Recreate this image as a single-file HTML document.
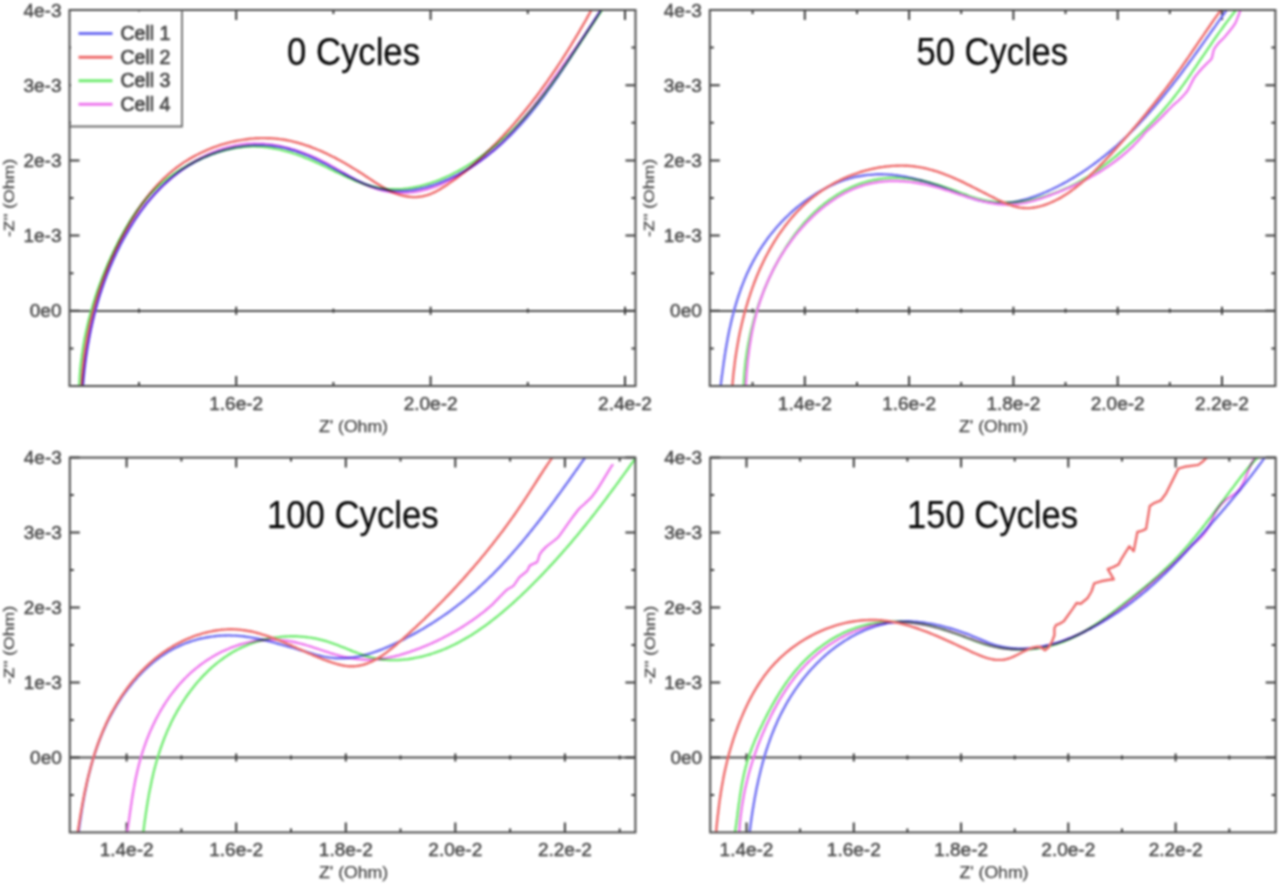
<!DOCTYPE html>
<html><head><meta charset="utf-8"><title>Nyquist plots</title>
<style>
html,body{margin:0;padding:0;background:#fff;}
body{width:1280px;height:885px;overflow:hidden;}
svg{display:block;}
text{font-family:"Liberation Sans",sans-serif;}
.tl{font-size:19px;fill:#474747;stroke:#474747;stroke-width:0.45px;}
.at{font-size:16px;fill:#474747;stroke:#474747;stroke-width:0.25px;}
.lg{font-size:19.5px;fill:#474747;stroke:#474747;stroke-width:0.7px;}
.tt{font-size:38px;fill:#0a0a0a;stroke:#0a0a0a;stroke-width:0.25px;}
#w{width:1280px;height:885px;}
</style></head>
<body>
<div id="w">
<svg width="1280" height="885" viewBox="0 0 1280 885">
<defs><filter id="bl" x="0" y="0" width="1280" height="885" filterUnits="userSpaceOnUse" color-interpolation-filters="sRGB"><feGaussianBlur stdDeviation="0.8"/></filter></defs>
<rect width="1280" height="885" fill="#fff"/>
<g filter="url(#bl)">
<clipPath id="clipTL"><rect x="69.5" y="10.0" width="566.0" height="376.0"/></clipPath>
<line x1="69.5" y1="311.1" x2="635.5" y2="311.1" stroke="#4e4e4e" stroke-width="2.0"/>
<path d="M236.2 386.0v-10M236.2 10.0v10M236.2 306.8v8M430.6 386.0v-10M430.6 10.0v10M430.6 306.8v8M625 386.0v-10M625 10.0v10M625 306.8v8M139 386.0v-4M139 10.0v4M139 308.8v4M333.4 386.0v-4M333.4 10.0v4M333.4 308.8v4M527.8 386.0v-4M527.8 10.0v4M527.8 308.8v4M69.5 310.8h10M635.5 310.8h-10M69.5 235.6h10M635.5 235.6h-10M69.5 160.4h10M635.5 160.4h-10M69.5 85.2h10M635.5 85.2h-10M69.5 10h10M635.5 10h-10M69.5 348.4h4M635.5 348.4h-4M69.5 273.2h4M635.5 273.2h-4M69.5 198h4M635.5 198h-4M69.5 122.8h4M635.5 122.8h-4M69.5 47.6h4M635.5 47.6h-4" stroke="#3a3a3a" stroke-width="2" fill="none"/>
<g clip-path="url(#clipTL)" fill="none" stroke-width="2.4" stroke-linejoin="round" stroke-linecap="round">
<path d="M82.9,388C82.9,387.5 83,386 83.1,385C83.2,384 83.3,383 83.4,382C83.4,380.9 83.5,379.9 83.6,378.9C83.7,377.9 83.8,376.9 83.9,375.9C84,374.9 84.1,373.9 84.2,372.9C84.3,371.9 84.4,370.9 84.5,369.9C84.6,368.9 84.7,367.9 84.9,366.9C85,365.9 85.1,364.9 85.2,363.9C85.3,362.9 85.5,361.9 85.6,360.9C85.7,359.9 85.9,358.8 86,357.8C86.1,356.8 86.3,355.9 86.4,354.9C86.6,353.9 86.7,352.9 86.9,351.9C87,350.9 87.2,349.9 87.3,348.9C87.5,347.9 87.7,346.9 87.8,345.9C88,344.9 88.2,343.9 88.3,342.9C88.5,341.9 88.7,340.9 88.9,339.9C89,338.9 89.2,337.9 89.4,337C89.6,336 89.8,335 90,334C90.2,333 90.4,332 90.6,331C90.8,330.1 91,329.1 91.2,328.1C91.4,327.1 91.6,326.1 91.9,325.1C92.1,324.2 92.3,323.2 92.5,322.2C92.8,321.2 93,320.2 93.2,319.3C93.5,318.3 93.7,317.3 93.9,316.3C94.2,315.4 94.4,314.4 94.7,313.4C94.9,312.4 95.2,311.5 95.4,310.5C95.7,309.5 96,308.6 96.2,307.6C96.5,306.6 96.8,305.7 97,304.7C97.3,303.7 97.6,302.8 97.9,301.8C98.2,300.8 98.5,299.9 98.7,298.9C99,298 99.3,297 99.6,296C99.9,295.1 100.2,294.1 100.5,293.2C100.9,292.2 101.2,291.3 101.5,290.3C101.8,289.4 102.1,288.4 102.4,287.5C102.8,286.5 103.1,285.6 103.4,284.6C103.8,283.7 104.1,282.7 104.4,281.8C104.8,280.9 105.1,279.9 105.5,279C105.8,278 106.2,277.1 106.5,276.2C106.9,275.2 107.3,274.3 107.6,273.4C108,272.4 108.4,271.5 108.8,270.6C109.1,269.6 109.5,268.7 109.9,267.8C110.3,266.9 110.7,265.9 111.1,265C111.5,264.1 111.9,263.2 112.3,262.2C112.7,261.3 113.1,260.4 113.5,259.5C113.9,258.6 114.3,257.7 114.7,256.7C115.2,255.8 115.6,254.9 116,254C116.5,253.1 116.9,252.2 117.3,251.3C117.8,250.4 118.2,249.5 118.7,248.6C119.1,247.7 119.6,246.8 120,245.9C120.5,245 120.9,244.1 121.4,243.2C121.9,242.3 122.4,241.4 122.8,240.5C123.3,239.6 123.8,238.8 124.3,237.9C124.8,237 125.3,236.1 125.8,235.2C126.3,234.3 126.8,233.5 127.3,232.6C127.8,231.7 128.3,230.8 128.8,230C129.3,229.1 129.8,228.2 130.4,227.4C130.9,226.5 131.4,225.6 132,224.8C132.5,223.9 133,223.1 133.6,222.2C134.1,221.3 134.7,220.5 135.2,219.6C135.8,218.8 136.3,218 136.9,217.1C137.5,216.3 138.1,215.4 138.6,214.6C139.2,213.8 139.8,212.9 140.4,212.1C141,211.3 141.6,210.5 142.2,209.6C142.8,208.8 143.4,208 144,207.2C144.6,206.4 145.2,205.6 145.8,204.8C146.4,204 147.1,203.2 147.7,202.4C148.3,201.6 149,200.8 149.6,200C150.3,199.3 150.9,198.5 151.6,197.7C152.2,197 152.9,196.2 153.6,195.4C154.2,194.7 154.9,193.9 155.6,193.2C156.3,192.4 157,191.7 157.6,191C158.3,190.2 159,189.5 159.7,188.8C160.4,188.1 161.2,187.3 161.9,186.6C162.6,185.9 163.3,185.2 164,184.5C164.8,183.8 165.5,183.2 166.3,182.5C167,181.8 167.7,181.1 168.5,180.5C169.3,179.8 170,179.1 170.8,178.5C171.6,177.8 172.3,177.2 173.1,176.6C173.9,175.9 174.7,175.3 175.5,174.7C176.3,174.1 177.1,173.5 177.9,172.8C178.7,172.2 179.5,171.7 180.3,171.1C181.2,170.5 182,169.9 182.8,169.3C183.7,168.8 184.5,168.2 185.3,167.7C186.2,167.1 187.1,166.6 187.9,166.1C188.8,165.5 189.6,165 190.5,164.5C191.4,164 192.3,163.5 193.1,163C194,162.5 194.9,162 195.8,161.5C196.7,161 197.6,160.6 198.5,160.1C199.4,159.7 200.3,159.2 201.2,158.8C202.2,158.3 203.1,157.9 204,157.5C204.9,157.1 205.9,156.7 206.8,156.3C207.7,155.9 208.6,155.5 209.6,155.1C210.5,154.7 211.5,154.4 212.4,154C213.4,153.6 214.3,153.3 215.3,153C216.2,152.6 217.2,152.3 218.1,152C219.1,151.7 220.1,151.4 221,151.1C222,150.8 223,150.5 223.9,150.2C224.9,149.9 225.9,149.7 226.8,149.4C227.8,149.2 228.8,148.9 229.8,148.7C230.7,148.5 231.7,148.2 232.7,148C233.7,147.8 234.7,147.6 235.7,147.4C236.6,147.3 237.6,147.1 238.6,146.9C239.6,146.8 240.6,146.6 241.6,146.5C242.6,146.3 243.6,146.2 244.5,146.1C245.5,146 246.5,145.9 247.5,145.8C248.5,145.7 249.5,145.6 250.5,145.5C251.5,145.4 252.5,145.4 253.5,145.3C254.4,145.3 255.4,145.3 256.4,145.2C257.4,145.2 258.4,145.2 259.4,145.2C260.4,145.2 261.4,145.2 262.3,145.2C263.3,145.3 264.3,145.3 265.3,145.4C266.3,145.4 267.3,145.5 268.3,145.6C269.2,145.6 270.2,145.7 271.2,145.8C272.2,145.9 273.1,146 274.1,146.2C275.1,146.3 276.1,146.4 277,146.6C278,146.7 279,146.9 279.9,147.1C280.9,147.3 281.9,147.5 282.8,147.7C283.8,147.9 284.8,148.1 285.7,148.3C286.7,148.6 287.6,148.8 288.6,149C289.5,149.3 290.5,149.6 291.4,149.8C292.4,150.1 293.3,150.4 294.3,150.7C295.2,151 296.2,151.3 297.1,151.6C298,152 299,152.3 299.9,152.6C300.9,153 301.8,153.3 302.7,153.7C303.7,154 304.6,154.4 305.5,154.8C306.5,155.2 307.4,155.5 308.3,155.9C309.3,156.3 310.2,156.7 311.1,157.1C312.1,157.5 313,158 313.9,158.4C314.8,158.8 315.8,159.2 316.7,159.7C317.6,160.1 318.5,160.6 319.5,161C320.4,161.5 321.3,161.9 322.2,162.4C323.2,162.8 324.1,163.3 325,163.8C325.9,164.3 326.9,164.7 327.8,165.2C328.7,165.7 329.6,166.2 330.5,166.7C331.5,167.2 332.4,167.7 333.3,168.2C334.2,168.7 335.2,169.2 336.1,169.7C337,170.2 337.9,170.7 338.8,171.2C339.8,171.7 340.7,172.2 341.6,172.7C342.5,173.2 343.5,173.6 344.4,174.1C345.3,174.6 346.2,175.1 347.2,175.6C348.1,176.1 349,176.6 350,177C350.9,177.5 351.8,178 352.7,178.4C353.7,178.9 354.6,179.4 355.5,179.8C356.5,180.2 357.4,180.7 358.3,181.1C359.3,181.5 360.2,182 361.1,182.4C362.1,182.8 363,183.2 364,183.6C364.9,183.9 365.8,184.3 366.8,184.7C367.7,185 368.7,185.4 369.6,185.7C370.6,186 371.5,186.4 372.5,186.7C373.4,187 374.4,187.2 375.3,187.5C376.3,187.8 377.2,188 378.2,188.3C379.1,188.5 380.1,188.8 381,189C382,189.2 383,189.4 383.9,189.6C384.9,189.7 385.8,189.9 386.8,190C387.8,190.2 388.7,190.3 389.7,190.4C390.7,190.6 391.6,190.7 392.6,190.7C393.6,190.8 394.5,190.9 395.5,190.9C396.5,191 397.4,191 398.4,191C399.4,191 400.3,191 401.3,191C402.3,191 403.2,190.9 404.2,190.9C405.2,190.8 406.1,190.8 407.1,190.7C408.1,190.6 409,190.5 410,190.4C411,190.3 411.9,190.1 412.9,190C413.9,189.8 414.8,189.7 415.8,189.5C416.8,189.3 417.7,189.1 418.7,188.9C419.7,188.7 420.6,188.5 421.6,188.3C422.6,188.1 423.5,187.8 424.5,187.6C425.4,187.3 426.4,187.1 427.4,186.8C428.3,186.5 429.3,186.3 430.2,186C431.2,185.7 432.2,185.4 433.1,185.1C434.1,184.7 435,184.4 436,184.1C436.9,183.8 437.9,183.4 438.8,183.1C439.8,182.7 440.7,182.3 441.7,182C442.6,181.6 443.6,181.2 444.5,180.8C445.4,180.4 446.4,180 447.3,179.6C448.2,179.2 449.2,178.8 450.1,178.3C451,177.9 451.9,177.5 452.9,177C453.8,176.6 454.7,176.1 455.6,175.7C456.5,175.2 457.4,174.7 458.4,174.3C459.3,173.8 460.2,173.3 461.1,172.8C462,172.3 462.9,171.8 463.8,171.3C464.6,170.8 465.5,170.3 466.4,169.8C467.3,169.3 468.2,168.7 469.1,168.2C469.9,167.7 470.8,167.1 471.7,166.6C472.5,166 473.4,165.5 474.2,164.9C475.1,164.4 475.9,163.8 476.8,163.2C477.6,162.7 478.5,162.1 479.3,161.5C480.1,160.9 481,160.4 481.8,159.8C482.6,159.2 483.4,158.6 484.2,158C485.1,157.4 485.9,156.8 486.7,156.2C487.5,155.5 488.3,154.9 489.1,154.3C489.9,153.7 490.6,153.1 491.4,152.4C492.2,151.8 493,151.2 493.8,150.5C494.5,149.9 495.3,149.2 496.1,148.6C496.8,147.9 497.6,147.3 498.4,146.6C499.1,146 499.9,145.3 500.6,144.6C501.4,144 502.1,143.3 502.8,142.6C503.6,141.9 504.3,141.3 505,140.6C505.8,139.9 506.5,139.2 507.2,138.5C507.9,137.8 508.7,137.1 509.4,136.4C510.1,135.7 510.8,135 511.5,134.3C512.2,133.6 512.9,132.9 513.6,132.2C514.3,131.4 515,130.7 515.7,130C516.4,129.3 517.1,128.5 517.7,127.8C518.4,127.1 519.1,126.3 519.8,125.6C520.5,124.9 521.1,124.1 521.8,123.4C522.5,122.6 523.1,121.9 523.8,121.1C524.5,120.4 525.1,119.6 525.8,118.9C526.4,118.1 527.1,117.3 527.7,116.6C528.4,115.8 529,115 529.7,114.3C530.3,113.5 531,112.7 531.6,112C532.2,111.2 532.9,110.4 533.5,109.6C534.1,108.8 534.8,108 535.4,107.3C536,106.5 536.6,105.7 537.2,104.9C537.9,104.1 538.5,103.3 539.1,102.5C539.7,101.7 540.3,100.9 540.9,100.1C541.5,99.3 542.1,98.5 542.8,97.7C543.4,96.9 544,96.1 544.6,95.3C545.2,94.5 545.8,93.6 546.4,92.8C546.9,92 547.5,91.2 548.1,90.4C548.7,89.6 549.3,88.7 549.9,87.9C550.5,87.1 551.1,86.3 551.7,85.5C552.2,84.6 552.8,83.8 553.4,83C554,82.1 554.6,81.3 555.1,80.5C555.7,79.6 556.3,78.8 556.8,78C557.4,77.1 558,76.3 558.6,75.5C559.1,74.6 559.7,73.8 560.3,73C560.8,72.1 561.4,71.3 562,70.4C562.5,69.6 563.1,68.8 563.6,67.9C564.2,67.1 564.8,66.2 565.3,65.4C565.9,64.5 566.4,63.7 567,62.8C567.5,62 568.1,61.2 568.6,60.3C569.2,59.5 569.8,58.6 570.3,57.8C570.9,56.9 571.4,56.1 572,55.2C572.5,54.4 573.1,53.5 573.6,52.7C574.2,51.8 574.7,51 575.2,50.1C575.8,49.3 576.3,48.4 576.9,47.6C577.4,46.7 578,45.9 578.5,45C579.1,44.2 579.6,43.3 580.2,42.5C580.7,41.6 581.2,40.8 581.8,39.9C582.3,39.1 582.9,38.2 583.4,37.4C584,36.5 584.5,35.7 585,34.8C585.6,34 586.1,33.1 586.7,32.3C587.2,31.4 587.8,30.6 588.3,29.7C588.8,28.9 589.4,28.1 589.9,27.2C590.5,26.4 591,25.5 591.6,24.7C592.1,23.8 592.6,23 593.2,22.2C593.7,21.3 594.3,20.5 594.8,19.6C595.4,18.8 595.9,18 596.5,17.1C597,16.3 597.5,15.5 598.1,14.6C598.6,13.8 599.2,13 599.7,12.1C600.3,11.3 600.8,10.5 601.4,9.6C601.9,8.8 602.8,7.6 603,7.2" stroke="#6f6ff2" style="mix-blend-mode:multiply"/>
<path d="M79.2,388C79.2,387.5 79.2,386 79.3,385C79.3,384 79.3,383 79.4,382C79.5,381 79.5,380 79.6,378.9C79.6,377.9 79.7,376.9 79.8,375.9C79.8,374.9 79.9,373.9 80,372.9C80.1,371.9 80.2,370.9 80.2,369.9C80.3,368.9 80.4,367.9 80.5,366.9C80.6,365.9 80.7,364.9 80.8,363.9C81,362.9 81.1,361.9 81.2,360.9C81.3,359.9 81.4,358.9 81.6,357.9C81.7,356.9 81.8,355.9 81.9,354.9C82.1,353.9 82.2,352.9 82.4,351.9C82.5,351 82.7,350 82.8,349C83,348 83.1,347 83.3,346C83.5,345 83.6,344 83.8,343C84,342 84.2,341.1 84.3,340.1C84.5,339.1 84.7,338.1 84.9,337.1C85.1,336.1 85.3,335.2 85.5,334.2C85.7,333.2 85.9,332.2 86.1,331.2C86.3,330.3 86.5,329.3 86.8,328.3C87,327.3 87.2,326.3 87.4,325.4C87.7,324.4 87.9,323.4 88.1,322.4C88.4,321.5 88.6,320.5 88.8,319.5C89.1,318.6 89.3,317.6 89.6,316.6C89.8,315.6 90.1,314.7 90.4,313.7C90.6,312.7 90.9,311.8 91.2,310.8C91.4,309.8 91.7,308.9 92,307.9C92.3,307 92.5,306 92.8,305C93.1,304.1 93.4,303.1 93.7,302.2C94,301.2 94.3,300.2 94.6,299.3C94.9,298.3 95.2,297.4 95.5,296.4C95.8,295.5 96.1,294.5 96.5,293.6C96.8,292.6 97.1,291.7 97.4,290.7C97.8,289.8 98.1,288.8 98.4,287.9C98.8,286.9 99.1,286 99.4,285.1C99.8,284.1 100.1,283.2 100.5,282.2C100.8,281.3 101.2,280.4 101.6,279.4C101.9,278.5 102.3,277.5 102.6,276.6C103,275.7 103.4,274.7 103.8,273.8C104.1,272.9 104.5,271.9 104.9,271C105.3,270.1 105.7,269.2 106.1,268.2C106.4,267.3 106.8,266.4 107.2,265.5C107.6,264.5 108,263.6 108.4,262.7C108.8,261.8 109.3,260.9 109.7,259.9C110.1,259 110.5,258.1 110.9,257.2C111.3,256.3 111.8,255.4 112.2,254.5C112.6,253.5 113,252.6 113.5,251.7C113.9,250.8 114.3,249.9 114.8,249C115.2,248.1 115.7,247.2 116.1,246.3C116.6,245.4 117,244.5 117.5,243.6C117.9,242.7 118.4,241.8 118.9,240.9C119.3,240 119.8,239.1 120.3,238.2C120.7,237.3 121.2,236.5 121.7,235.6C122.2,234.7 122.7,233.8 123.1,232.9C123.6,232 124.1,231.2 124.6,230.3C125.1,229.4 125.6,228.5 126.1,227.7C126.6,226.8 127.1,225.9 127.7,225.1C128.2,224.2 128.7,223.4 129.2,222.5C129.7,221.7 130.3,220.8 130.8,220C131.3,219.1 131.9,218.3 132.4,217.4C133,216.6 133.5,215.8 134.1,214.9C134.7,214.1 135.2,213.3 135.8,212.5C136.4,211.6 136.9,210.8 137.5,210C138.1,209.2 138.7,208.4 139.3,207.6C139.9,206.8 140.5,206 141.1,205.2C141.7,204.4 142.3,203.6 142.9,202.9C143.5,202.1 144.2,201.3 144.8,200.6C145.4,199.8 146.1,199 146.7,198.3C147.4,197.5 148,196.8 148.7,196C149.3,195.3 150,194.6 150.7,193.8C151.3,193.1 152,192.4 152.7,191.7C153.4,191 154.1,190.3 154.8,189.6C155.5,188.9 156.2,188.2 157,187.5C157.7,186.8 158.4,186.2 159.1,185.5C159.9,184.8 160.6,184.2 161.4,183.5C162.1,182.9 162.9,182.2 163.7,181.6C164.4,181 165.2,180.3 166,179.7C166.8,179.1 167.6,178.5 168.4,177.9C169.2,177.3 170,176.7 170.8,176.1C171.6,175.5 172.4,174.9 173.2,174.4C174.1,173.8 174.9,173.2 175.7,172.7C176.6,172.1 177.4,171.6 178.3,171C179.1,170.5 180,169.9 180.8,169.4C181.7,168.9 182.6,168.4 183.4,167.9C184.3,167.3 185.2,166.8 186.1,166.3C187,165.8 187.9,165.3 188.8,164.9C189.7,164.4 190.6,163.9 191.5,163.4C192.4,163 193.3,162.5 194.2,162C195.1,161.6 196,161.1 197,160.7C197.9,160.2 198.8,159.8 199.7,159.4C200.7,158.9 201.6,158.5 202.5,158.1C203.5,157.7 204.4,157.3 205.4,156.9C206.3,156.5 207.3,156.1 208.2,155.7C209.2,155.3 210.1,155 211.1,154.6C212,154.3 213,153.9 214,153.6C214.9,153.2 215.9,152.9 216.9,152.6C217.8,152.2 218.8,151.9 219.8,151.6C220.8,151.3 221.7,151.1 222.7,150.8C223.7,150.5 224.7,150.2 225.6,150C226.6,149.7 227.6,149.5 228.6,149.3C229.6,149 230.6,148.8 231.5,148.6C232.5,148.4 233.5,148.2 234.5,148C235.5,147.9 236.5,147.7 237.5,147.6C238.5,147.4 239.4,147.3 240.4,147.2C241.4,147 242.4,146.9 243.4,146.8C244.4,146.7 245.4,146.7 246.4,146.6C247.3,146.6 248.3,146.5 249.3,146.5C250.3,146.4 251.3,146.4 252.3,146.4C253.3,146.4 254.2,146.4 255.2,146.4C256.2,146.5 257.2,146.5 258.2,146.6C259.2,146.6 260.1,146.7 261.1,146.7C262.1,146.8 263.1,146.9 264.1,147C265,147.1 266,147.2 267,147.3C268,147.5 268.9,147.6 269.9,147.7C270.9,147.9 271.9,148.1 272.8,148.2C273.8,148.4 274.8,148.6 275.7,148.8C276.7,149 277.7,149.2 278.6,149.4C279.6,149.6 280.6,149.8 281.5,150C282.5,150.3 283.4,150.5 284.4,150.8C285.3,151 286.3,151.3 287.2,151.5C288.2,151.8 289.1,152.1 290.1,152.4C291,152.7 292,152.9 292.9,153.3C293.9,153.6 294.8,153.9 295.7,154.2C296.7,154.5 297.6,154.8 298.5,155.2C299.5,155.5 300.4,155.8 301.3,156.2C302.2,156.5 303.2,156.9 304.1,157.3C305,157.6 305.9,158 306.8,158.4C307.8,158.7 308.7,159.1 309.6,159.5C310.5,159.9 311.4,160.3 312.3,160.7C313.3,161.1 314.2,161.5 315.1,161.9C316,162.3 316.9,162.7 317.9,163.2C318.8,163.6 319.7,164 320.6,164.4C321.5,164.8 322.4,165.3 323.4,165.7C324.3,166.2 325.2,166.6 326.1,167C327.1,167.5 328,167.9 328.9,168.4C329.8,168.8 330.8,169.3 331.7,169.7C332.6,170.2 333.6,170.6 334.5,171.1C335.4,171.6 336.4,172 337.3,172.5C338.3,172.9 339.2,173.4 340.1,173.8C341.1,174.3 342,174.7 343,175.2C343.9,175.6 344.9,176.1 345.8,176.5C346.7,176.9 347.7,177.4 348.6,177.8C349.6,178.2 350.5,178.6 351.5,179C352.4,179.5 353.4,179.9 354.3,180.3C355.3,180.7 356.3,181.1 357.2,181.4C358.2,181.8 359.1,182.2 360.1,182.6C361,182.9 362,183.3 363,183.6C363.9,183.9 364.9,184.3 365.8,184.6C366.8,184.9 367.7,185.2 368.7,185.5C369.7,185.8 370.6,186 371.6,186.3C372.6,186.6 373.5,186.8 374.5,187C375.4,187.2 376.4,187.5 377.4,187.6C378.3,187.8 379.3,188 380.3,188.2C381.2,188.3 382.2,188.5 383.1,188.6C384.1,188.7 385.1,188.8 386,188.9C387,189 388,189.1 388.9,189.1C389.9,189.2 390.9,189.2 391.8,189.3C392.8,189.3 393.7,189.3 394.7,189.3C395.7,189.3 396.6,189.3 397.6,189.3C398.6,189.2 399.5,189.2 400.5,189.1C401.4,189.1 402.4,189 403.4,188.9C404.3,188.8 405.3,188.7 406.2,188.6C407.2,188.5 408.2,188.4 409.1,188.2C410.1,188.1 411,187.9 412,187.8C412.9,187.6 413.9,187.4 414.8,187.2C415.8,187.1 416.7,186.9 417.7,186.6C418.6,186.4 419.6,186.2 420.5,186C421.5,185.7 422.4,185.5 423.4,185.2C424.3,185 425.3,184.7 426.2,184.4C427.2,184.2 428.1,183.9 429.1,183.6C430,183.3 430.9,183 431.9,182.7C432.8,182.3 433.7,182 434.7,181.7C435.6,181.3 436.5,181 437.5,180.6C438.4,180.3 439.3,179.9 440.3,179.5C441.2,179.1 442.1,178.8 443,178.4C444,178 444.9,177.6 445.8,177.2C446.7,176.7 447.6,176.3 448.6,175.9C449.5,175.5 450.4,175 451.3,174.6C452.2,174.1 453.1,173.7 454,173.2C454.9,172.8 455.8,172.3 456.7,171.8C457.6,171.3 458.5,170.9 459.4,170.4C460.3,169.9 461.2,169.4 462.1,168.9C463,168.4 463.8,167.8 464.7,167.3C465.6,166.8 466.5,166.3 467.3,165.7C468.2,165.2 469.1,164.7 470,164.1C470.8,163.6 471.7,163 472.6,162.4C473.4,161.9 474.3,161.3 475.1,160.7C476,160.2 476.8,159.6 477.7,159C478.5,158.4 479.4,157.8 480.2,157.2C481,156.6 481.9,156 482.7,155.4C483.5,154.8 484.4,154.2 485.2,153.6C486,153 486.8,152.4 487.6,151.7C488.5,151.1 489.3,150.5 490.1,149.8C490.9,149.2 491.7,148.6 492.5,147.9C493.3,147.3 494.1,146.6 494.9,146C495.6,145.3 496.4,144.7 497.2,144C498,143.3 498.8,142.7 499.5,142C500.3,141.3 501.1,140.7 501.8,140C502.6,139.3 503.3,138.7 504.1,138C504.8,137.3 505.6,136.6 506.3,135.9C507.1,135.2 507.8,134.5 508.5,133.9C509.3,133.2 510,132.5 510.7,131.8C511.4,131.1 512.1,130.4 512.9,129.7C513.6,129 514.3,128.2 515,127.5C515.7,126.8 516.4,126.1 517.1,125.4C517.8,124.7 518.5,124 519.2,123.2C519.9,122.5 520.5,121.8 521.2,121.1C521.9,120.3 522.6,119.6 523.3,118.9C523.9,118.1 524.6,117.4 525.3,116.6C525.9,115.9 526.6,115.2 527.3,114.4C527.9,113.7 528.6,112.9 529.2,112.2C529.9,111.4 530.6,110.7 531.2,109.9C531.8,109.2 532.5,108.4 533.1,107.7C533.8,106.9 534.4,106.1 535,105.4C535.7,104.6 536.3,103.8 536.9,103.1C537.6,102.3 538.2,101.5 538.8,100.8C539.4,100 540.1,99.2 540.7,98.4C541.3,97.7 541.9,96.9 542.5,96.1C543.1,95.3 543.8,94.5 544.4,93.7C545,93 545.6,92.2 546.2,91.4C546.8,90.6 547.4,89.8 548,89C548.6,88.2 549.2,87.4 549.8,86.6C550.4,85.8 551,85 551.6,84.2C552.2,83.4 552.7,82.6 553.3,81.8C553.9,81 554.5,80.2 555.1,79.4C555.7,78.6 556.3,77.8 556.8,77C557.4,76.2 558,75.4 558.6,74.6C559.1,73.7 559.7,72.9 560.3,72.1C560.9,71.3 561.4,70.5 562,69.7C562.6,68.8 563.2,68 563.7,67.2C564.3,66.4 564.9,65.6 565.4,64.7C566,63.9 566.6,63.1 567.1,62.3C567.7,61.4 568.3,60.6 568.8,59.8C569.4,59 569.9,58.1 570.5,57.3C571.1,56.5 571.6,55.6 572.2,54.8C572.7,54 573.3,53.1 573.9,52.3C574.4,51.5 575,50.6 575.5,49.8C576.1,49 576.7,48.1 577.2,47.3C577.8,46.5 578.3,45.6 578.9,44.8C579.4,44 580,43.1 580.6,42.3C581.1,41.4 581.7,40.6 582.2,39.8C582.8,38.9 583.3,38.1 583.9,37.3C584.4,36.4 585,35.6 585.6,34.7C586.1,33.9 586.7,33 587.2,32.2C587.8,31.4 588.4,30.5 588.9,29.7C589.5,28.8 590,28 590.6,27.2C591.1,26.3 591.7,25.5 592.3,24.6C592.8,23.8 593.4,22.9 594,22.1C594.5,21.2 595.1,20.4 595.6,19.6C596.2,18.7 596.8,17.9 597.3,17C597.9,16.2 598.5,15.3 599,14.5C599.6,13.7 600.2,12.8 600.8,12C601.3,11.1 601.9,10.3 602.5,9.5C603.1,8.6 603.9,7.3 604.2,6.9" stroke="#72ec72" style="mix-blend-mode:multiply"/>
<path d="M81.9,387.7C81.9,387.2 82.1,385.8 82.2,384.8C82.3,383.8 82.4,382.8 82.5,381.9C82.6,380.9 82.7,379.9 82.8,378.9C82.9,378 83.1,377 83.2,376C83.3,375 83.4,374 83.5,373.1C83.6,372.1 83.8,371.1 83.9,370.1C84,369.1 84.1,368.1 84.3,367.2C84.4,366.2 84.5,365.2 84.7,364.2C84.8,363.2 85,362.2 85.1,361.2C85.2,360.2 85.4,359.3 85.5,358.3C85.7,357.3 85.8,356.3 86,355.3C86.1,354.3 86.3,353.3 86.5,352.3C86.6,351.3 86.8,350.4 86.9,349.4C87.1,348.4 87.3,347.4 87.4,346.4C87.6,345.4 87.8,344.4 88,343.4C88.1,342.4 88.3,341.4 88.5,340.4C88.7,339.5 88.9,338.5 89.1,337.5C89.3,336.5 89.5,335.5 89.6,334.5C89.8,333.5 90,332.5 90.2,331.5C90.5,330.5 90.7,329.5 90.9,328.6C91.1,327.6 91.3,326.6 91.5,325.6C91.7,324.6 91.9,323.6 92.2,322.6C92.4,321.6 92.6,320.6 92.9,319.7C93.1,318.7 93.3,317.7 93.6,316.7C93.8,315.7 94,314.7 94.3,313.8C94.5,312.8 94.8,311.8 95,310.8C95.3,309.8 95.5,308.8 95.8,307.9C96.1,306.9 96.3,305.9 96.6,304.9C96.9,303.9 97.1,303 97.4,302C97.7,301 98,300 98.2,299.1C98.5,298.1 98.8,297.1 99.1,296.2C99.4,295.2 99.7,294.2 100,293.2C100.3,292.3 100.6,291.3 100.9,290.3C101.2,289.4 101.5,288.4 101.8,287.5C102.2,286.5 102.5,285.5 102.8,284.6C103.1,283.6 103.5,282.7 103.8,281.7C104.1,280.8 104.5,279.8 104.8,278.8C105.1,277.9 105.5,276.9 105.8,276C106.2,275.1 106.5,274.1 106.9,273.2C107.3,272.2 107.6,271.3 108,270.3C108.4,269.4 108.7,268.5 109.1,267.5C109.5,266.6 109.9,265.7 110.3,264.7C110.6,263.8 111,262.9 111.4,261.9C111.8,261 112.2,260.1 112.6,259.2C113,258.2 113.4,257.3 113.9,256.4C114.3,255.5 114.7,254.6 115.1,253.7C115.5,252.8 116,251.8 116.4,250.9C116.8,250 117.3,249.1 117.7,248.2C118.2,247.3 118.6,246.4 119.1,245.5C119.5,244.6 120,243.7 120.4,242.9C120.9,242 121.4,241.1 121.9,240.2C122.3,239.3 122.8,238.4 123.3,237.6C123.8,236.7 124.3,235.8 124.8,234.9C125.3,234.1 125.8,233.2 126.3,232.3C126.8,231.5 127.3,230.6 127.8,229.8C128.3,228.9 128.8,228 129.4,227.2C129.9,226.3 130.4,225.5 131,224.7C131.5,223.8 132,223 132.6,222.1C133.1,221.3 133.7,220.5 134.2,219.6C134.8,218.8 135.4,218 135.9,217.2C136.5,216.3 137.1,215.5 137.7,214.7C138.3,213.9 138.8,213.1 139.4,212.3C140,211.5 140.6,210.7 141.2,209.9C141.8,209.1 142.5,208.3 143.1,207.5C143.7,206.7 144.3,205.9 144.9,205.1C145.6,204.3 146.2,203.6 146.8,202.8C147.5,202 148.1,201.3 148.8,200.5C149.4,199.7 150.1,199 150.8,198.2C151.4,197.5 152.1,196.7 152.8,196C153.4,195.2 154.1,194.5 154.8,193.7C155.5,193 156.2,192.3 156.9,191.5C157.6,190.8 158.3,190.1 159,189.4C159.7,188.6 160.5,187.9 161.2,187.2C161.9,186.5 162.6,185.8 163.4,185.1C164.1,184.4 164.9,183.7 165.6,183C166.4,182.3 167.1,181.7 167.9,181C168.7,180.3 169.4,179.6 170.2,179C171,178.3 171.8,177.6 172.5,177C173.3,176.3 174.1,175.7 174.9,175.1C175.7,174.4 176.5,173.8 177.3,173.2C178.2,172.5 179,171.9 179.8,171.3C180.6,170.7 181.4,170.1 182.3,169.5C183.1,168.9 183.9,168.3 184.8,167.7C185.6,167.1 186.5,166.5 187.3,166C188.2,165.4 189,164.8 189.9,164.3C190.8,163.7 191.6,163.2 192.5,162.7C193.4,162.1 194.2,161.6 195.1,161.1C196,160.6 196.9,160.1 197.8,159.6C198.6,159.1 199.5,158.6 200.4,158.1C201.3,157.6 202.2,157.2 203.1,156.7C204,156.2 204.9,155.8 205.9,155.4C206.8,154.9 207.7,154.5 208.6,154.1C209.5,153.7 210.4,153.3 211.4,152.9C212.3,152.5 213.2,152.1 214.2,151.7C215.1,151.3 216,151 217,150.6C217.9,150.3 218.8,149.9 219.8,149.6C220.7,149.3 221.7,149 222.6,148.7C223.6,148.4 224.5,148.1 225.5,147.8C226.4,147.5 227.4,147.3 228.3,147C229.3,146.8 230.3,146.5 231.2,146.3C232.2,146.1 233.2,145.8 234.1,145.7C235.1,145.5 236.1,145.3 237,145.1C238,144.9 239,144.8 240,144.6C240.9,144.5 241.9,144.3 242.9,144.2C243.9,144.1 244.8,144 245.8,143.9C246.8,143.8 247.8,143.8 248.8,143.7C249.8,143.7 250.7,143.6 251.7,143.6C252.7,143.5 253.7,143.5 254.7,143.5C255.7,143.5 256.7,143.5 257.7,143.6C258.7,143.6 259.6,143.6 260.6,143.7C261.6,143.7 262.6,143.8 263.6,143.8C264.6,143.9 265.6,144 266.6,144.1C267.6,144.2 268.6,144.3 269.6,144.4C270.5,144.5 271.5,144.7 272.5,144.8C273.5,145 274.5,145.1 275.5,145.3C276.5,145.4 277.5,145.6 278.5,145.8C279.4,146 280.4,146.2 281.4,146.4C282.4,146.6 283.4,146.8 284.4,147.1C285.4,147.3 286.3,147.6 287.3,147.8C288.3,148.1 289.3,148.3 290.3,148.6C291.2,148.9 292.2,149.1 293.2,149.4C294.2,149.7 295.1,150 296.1,150.3C297.1,150.7 298.1,151 299,151.3C300,151.6 301,152 301.9,152.3C302.9,152.7 303.8,153 304.8,153.4C305.7,153.7 306.7,154.1 307.7,154.5C308.6,154.9 309.6,155.3 310.5,155.7C311.5,156 312.4,156.5 313.3,156.9C314.3,157.3 315.2,157.7 316.1,158.1C317.1,158.5 318,159 318.9,159.4C319.9,159.9 320.8,160.3 321.7,160.8C322.6,161.2 323.5,161.7 324.4,162.1C325.4,162.6 326.3,163.1 327.2,163.5C328.1,164 329,164.5 329.9,165C330.8,165.5 331.7,166 332.5,166.5C333.4,167 334.3,167.5 335.2,168C336.1,168.5 337,169 337.8,169.5C338.7,170 339.6,170.5 340.5,171C341.3,171.6 342.2,172.1 343.1,172.6C344,173.1 344.8,173.6 345.7,174.1C346.6,174.6 347.4,175.1 348.3,175.6C349.2,176.1 350.1,176.6 350.9,177.1C351.8,177.6 352.7,178.1 353.6,178.6C354.4,179 355.3,179.5 356.2,180C357.1,180.5 357.9,180.9 358.8,181.4C359.7,181.8 360.6,182.3 361.5,182.7C362.4,183.1 363.3,183.6 364.2,184C365.1,184.4 366,184.8 366.9,185.2C367.8,185.6 368.7,186 369.6,186.3C370.5,186.7 371.4,187.1 372.3,187.4C373.3,187.7 374.2,188.1 375.1,188.4C376.1,188.7 377,189 378,189.3C378.9,189.5 379.9,189.8 380.8,190C381.8,190.3 382.7,190.5 383.7,190.7C384.7,190.9 385.7,191.1 386.6,191.3C387.6,191.5 388.6,191.7 389.6,191.8C390.6,192 391.5,192.1 392.5,192.2C393.5,192.3 394.5,192.4 395.5,192.5C396.5,192.6 397.5,192.6 398.5,192.7C399.5,192.7 400.5,192.8 401.5,192.8C402.5,192.8 403.5,192.8 404.5,192.8C405.5,192.7 406.5,192.7 407.4,192.7C408.4,192.6 409.4,192.5 410.4,192.4C411.4,192.4 412.4,192.2 413.4,192.1C414.4,192 415.4,191.9 416.4,191.7C417.3,191.5 418.3,191.4 419.3,191.2C420.3,191 421.3,190.8 422.2,190.5C423.2,190.3 424.2,190.1 425.1,189.8C426.1,189.6 427.1,189.3 428,189C429,188.7 429.9,188.4 430.9,188.1C431.9,187.8 432.8,187.5 433.8,187.2C434.7,186.8 435.6,186.5 436.6,186.1C437.5,185.7 438.5,185.4 439.4,185C440.3,184.6 441.3,184.2 442.2,183.8C443.1,183.4 444.1,183 445,182.5C445.9,182.1 446.8,181.7 447.7,181.2C448.6,180.8 449.6,180.3 450.5,179.8C451.4,179.4 452.3,178.9 453.2,178.4C454.1,177.9 455,177.4 455.9,176.9C456.8,176.4 457.7,175.9 458.5,175.4C459.4,174.9 460.3,174.4 461.2,173.9C462.1,173.3 462.9,172.8 463.8,172.3C464.7,171.7 465.5,171.2 466.4,170.6C467.3,170.1 468.1,169.5 469,169C469.8,168.4 470.7,167.8 471.5,167.2C472.4,166.7 473.2,166.1 474,165.5C474.9,164.9 475.7,164.3 476.5,163.7C477.4,163.1 478.2,162.5 479,161.9C479.8,161.3 480.6,160.7 481.4,160.1C482.2,159.5 483.1,158.9 483.9,158.2C484.7,157.6 485.4,157 486.2,156.3C487,155.7 487.8,155 488.6,154.4C489.4,153.8 490.1,153.1 490.9,152.4C491.7,151.8 492.5,151.1 493.2,150.5C494,149.8 494.7,149.1 495.5,148.5C496.2,147.8 497,147.1 497.7,146.4C498.5,145.7 499.2,145 499.9,144.4C500.7,143.7 501.4,143 502.1,142.3C502.8,141.6 503.5,140.9 504.2,140.2C505,139.5 505.7,138.7 506.4,138C507.1,137.3 507.8,136.6 508.4,135.9C509.1,135.1 509.8,134.4 510.5,133.7C511.2,133 511.9,132.2 512.5,131.5C513.2,130.8 513.9,130 514.6,129.3C515.2,128.5 515.9,127.8 516.5,127C517.2,126.3 517.9,125.5 518.5,124.8C519.2,124 519.8,123.3 520.4,122.5C521.1,121.8 521.7,121 522.4,120.2C523,119.5 523.6,118.7 524.3,117.9C524.9,117.2 525.5,116.4 526.2,115.6C526.8,114.8 527.4,114.1 528,113.3C528.7,112.5 529.3,111.7 529.9,110.9C530.5,110.1 531.1,109.4 531.7,108.6C532.3,107.8 532.9,107 533.6,106.2C534.2,105.4 534.8,104.6 535.4,103.8C536,103 536.6,102.2 537.2,101.4C537.8,100.6 538.4,99.8 539,99C539.6,98.2 540.2,97.4 540.7,96.6C541.3,95.8 541.9,95 542.5,94.2C543.1,93.4 543.7,92.5 544.3,91.7C544.9,90.9 545.5,90.1 546.1,89.3C546.6,88.5 547.2,87.7 547.8,86.9C548.4,86 549,85.2 549.6,84.4C550.2,83.6 550.7,82.8 551.3,81.9C551.9,81.1 552.5,80.3 553.1,79.5C553.7,78.7 554.2,77.8 554.8,77C555.4,76.2 556,75.4 556.6,74.6C557.2,73.7 557.8,72.9 558.3,72.1C558.9,71.3 559.5,70.4 560.1,69.6C560.7,68.8 561.3,68 561.9,67.2C562.5,66.3 563,65.5 563.6,64.7C564.2,63.9 564.8,63 565.4,62.2C566,61.4 566.6,60.6 567.2,59.7C567.8,58.9 568.4,58.1 568.9,57.3C569.5,56.4 570.1,55.6 570.7,54.8C571.3,54 571.9,53.2 572.5,52.3C573.1,51.5 573.7,50.7 574.3,49.9C574.8,49 575.4,48.2 576,47.4C576.6,46.5 577.2,45.7 577.8,44.9C578.4,44.1 578.9,43.2 579.5,42.4C580.1,41.6 580.7,40.7 581.3,39.9C581.8,39.1 582.4,38.3 583,37.4C583.6,36.6 584.2,35.8 584.7,34.9C585.3,34.1 585.9,33.3 586.4,32.4C587,31.6 587.6,30.8 588.1,29.9C588.7,29.1 589.2,28.2 589.8,27.4C590.4,26.6 590.9,25.7 591.5,24.9C592,24.1 592.6,23.2 593.1,22.4C593.6,21.5 594.2,20.7 594.7,19.8C595.3,19 595.8,18.2 596.3,17.3C596.8,16.5 597.4,15.6 597.9,14.8C598.4,13.9 598.9,13.1 599.5,12.2C600,11.4 600.5,10.5 601,9.7C601.5,8.8 602.2,7.5 602.5,7.1" stroke="#ee78ee" style="mix-blend-mode:multiply"/>
<path d="M81.7,388C81.7,387.5 81.7,386 81.8,385C81.8,384 81.9,383 81.9,382C82,381 82,379.9 82.1,378.9C82.1,377.9 82.2,376.9 82.2,375.9C82.3,374.9 82.4,373.9 82.5,372.9C82.5,371.9 82.6,370.9 82.7,369.9C82.8,368.9 82.9,367.9 83,366.9C83.1,365.9 83.2,364.9 83.3,363.8C83.4,362.8 83.5,361.8 83.6,360.8C83.7,359.8 83.8,358.8 83.9,357.8C84,356.8 84.2,355.8 84.3,354.8C84.4,353.8 84.6,352.8 84.7,351.8C84.8,350.8 85,349.8 85.1,348.9C85.3,347.9 85.4,346.9 85.6,345.9C85.7,344.9 85.9,343.9 86.1,342.9C86.2,341.9 86.4,340.9 86.6,339.9C86.7,338.9 86.9,337.9 87.1,336.9C87.3,336 87.5,335 87.7,334C87.9,333 88.1,332 88.3,331C88.5,330 88.7,329 88.9,328.1C89.1,327.1 89.3,326.1 89.5,325.1C89.7,324.1 89.9,323.1 90.2,322.2C90.4,321.2 90.6,320.2 90.9,319.2C91.1,318.3 91.3,317.3 91.6,316.3C91.8,315.3 92.1,314.3 92.3,313.4C92.6,312.4 92.8,311.4 93.1,310.5C93.3,309.5 93.6,308.5 93.9,307.5C94.1,306.6 94.4,305.6 94.7,304.6C95,303.7 95.2,302.7 95.5,301.7C95.8,300.8 96.1,299.8 96.4,298.9C96.7,297.9 97,296.9 97.3,296C97.6,295 97.9,294.1 98.2,293.1C98.5,292.1 98.8,291.2 99.1,290.2C99.5,289.3 99.8,288.3 100.1,287.4C100.4,286.4 100.8,285.5 101.1,284.5C101.4,283.6 101.8,282.6 102.1,281.7C102.4,280.7 102.8,279.8 103.1,278.9C103.5,277.9 103.8,277 104.2,276C104.6,275.1 104.9,274.2 105.3,273.2C105.7,272.3 106,271.3 106.4,270.4C106.8,269.5 107.2,268.5 107.5,267.6C107.9,266.7 108.3,265.8 108.7,264.8C109.1,263.9 109.5,263 109.9,262C110.3,261.1 110.7,260.2 111.1,259.3C111.5,258.4 111.9,257.4 112.3,256.5C112.7,255.6 113.1,254.7 113.6,253.8C114,252.9 114.4,251.9 114.8,251C115.3,250.1 115.7,249.2 116.1,248.3C116.6,247.4 117,246.5 117.5,245.6C117.9,244.7 118.4,243.8 118.8,242.9C119.3,242 119.7,241.1 120.2,240.2C120.6,239.3 121.1,238.4 121.6,237.5C122,236.6 122.5,235.7 123,234.8C123.5,233.9 124,233 124.4,232.2C124.9,231.3 125.4,230.4 125.9,229.5C126.4,228.6 126.9,227.8 127.4,226.9C127.9,226 128.4,225.1 128.9,224.2C129.4,223.4 129.9,222.5 130.4,221.6C130.9,220.8 131.5,219.9 132,219.1C132.5,218.2 133,217.3 133.6,216.5C134.1,215.6 134.6,214.8 135.2,213.9C135.7,213.1 136.3,212.2 136.8,211.4C137.4,210.6 137.9,209.7 138.5,208.9C139.1,208.1 139.6,207.2 140.2,206.4C140.8,205.6 141.4,204.8 141.9,203.9C142.5,203.1 143.1,202.3 143.7,201.5C144.3,200.7 144.9,199.9 145.5,199.1C146.1,198.3 146.7,197.5 147.3,196.7C148,195.9 148.6,195.2 149.2,194.4C149.8,193.6 150.5,192.8 151.1,192.1C151.8,191.3 152.4,190.5 153.1,189.8C153.7,189 154.4,188.3 155,187.5C155.7,186.8 156.4,186.1 157,185.3C157.7,184.6 158.4,183.9 159.1,183.2C159.8,182.4 160.5,181.7 161.2,181C161.9,180.3 162.6,179.6 163.3,178.9C164,178.2 164.8,177.6 165.5,176.9C166.2,176.2 167,175.5 167.7,174.9C168.5,174.2 169.2,173.5 170,172.9C170.7,172.3 171.5,171.6 172.3,171C173.1,170.3 173.8,169.7 174.6,169.1C175.4,168.5 176.2,167.9 177,167.3C177.8,166.7 178.6,166.1 179.5,165.5C180.3,164.9 181.1,164.3 181.9,163.8C182.8,163.2 183.6,162.6 184.4,162.1C185.3,161.5 186.1,161 187,160.5C187.9,159.9 188.7,159.4 189.6,158.9C190.5,158.4 191.3,157.9 192.2,157.4C193.1,156.9 194,156.4 194.9,155.9C195.8,155.4 196.7,154.9 197.6,154.5C198.5,154 199.4,153.6 200.3,153.1C201.2,152.7 202.1,152.2 203,151.8C204,151.4 204.9,151 205.8,150.6C206.8,150.1 207.7,149.7 208.6,149.4C209.6,149 210.5,148.6 211.5,148.2C212.4,147.8 213.4,147.5 214.3,147.1C215.3,146.8 216.2,146.4 217.2,146.1C218.1,145.8 219.1,145.5 220.1,145.1C221,144.8 222,144.5 223,144.2C224,143.9 224.9,143.7 225.9,143.4C226.9,143.1 227.9,142.8 228.9,142.6C229.9,142.3 230.8,142.1 231.8,141.9C232.8,141.6 233.8,141.4 234.8,141.2C235.8,141 236.8,140.8 237.8,140.6C238.8,140.4 239.8,140.2 240.8,140.1C241.8,139.9 242.8,139.7 243.8,139.6C244.8,139.4 245.8,139.3 246.8,139.2C247.8,139.1 248.8,138.9 249.8,138.8C250.8,138.7 251.8,138.6 252.8,138.6C253.8,138.5 254.8,138.4 255.8,138.3C256.8,138.3 257.8,138.2 258.8,138.2C259.8,138.2 260.8,138.1 261.8,138.1C262.8,138.1 263.8,138.1 264.8,138.1C265.8,138.1 266.8,138.1 267.8,138.2C268.8,138.2 269.8,138.2 270.8,138.3C271.8,138.4 272.8,138.4 273.8,138.5C274.8,138.6 275.8,138.7 276.8,138.8C277.8,138.9 278.8,139 279.8,139.1C280.8,139.2 281.8,139.4 282.7,139.5C283.7,139.7 284.7,139.9 285.7,140C286.7,140.2 287.6,140.4 288.6,140.6C289.6,140.8 290.6,141 291.5,141.2C292.5,141.4 293.5,141.7 294.5,141.9C295.4,142.1 296.4,142.4 297.3,142.6C298.3,142.9 299.3,143.2 300.2,143.5C301.2,143.7 302.1,144 303.1,144.3C304.1,144.6 305,144.9 306,145.3C306.9,145.6 307.9,145.9 308.8,146.2C309.7,146.6 310.7,146.9 311.6,147.3C312.6,147.6 313.5,148 314.4,148.4C315.4,148.7 316.3,149.1 317.2,149.5C318.2,149.9 319.1,150.3 320,150.7C321,151.1 321.9,151.5 322.8,151.9C323.7,152.3 324.6,152.7 325.6,153.2C326.5,153.6 327.4,154 328.3,154.5C329.2,154.9 330.1,155.4 331,155.8C331.9,156.3 332.8,156.7 333.8,157.2C334.7,157.6 335.6,158.1 336.5,158.6C337.4,159.1 338.2,159.6 339.1,160C340,160.5 340.9,161 341.8,161.5C342.7,162 343.6,162.5 344.5,163C345.4,163.5 346.2,164 347.1,164.5C348,165.1 348.9,165.6 349.7,166.1C350.6,166.6 351.5,167.1 352.3,167.7C353.2,168.2 354.1,168.7 354.9,169.3C355.8,169.8 356.7,170.3 357.5,170.9C358.4,171.4 359.2,171.9 360.1,172.5C360.9,173 361.8,173.6 362.6,174.1C363.5,174.7 364.3,175.2 365.2,175.8C366,176.3 366.8,176.9 367.7,177.4C368.5,178 369.3,178.5 370.2,179.1C371,179.6 371.8,180.2 372.7,180.7C373.5,181.3 374.3,181.8 375.2,182.4C376,182.9 376.8,183.5 377.7,184C378.5,184.5 379.3,185.1 380.2,185.6C381,186.1 381.8,186.6 382.7,187.1C383.5,187.6 384.4,188.1 385.2,188.6C386.1,189 386.9,189.5 387.8,190C388.7,190.4 389.6,190.8 390.4,191.3C391.3,191.7 392.2,192.1 393.1,192.4C394,192.8 394.9,193.2 395.8,193.5C396.8,193.9 397.7,194.2 398.6,194.5C399.6,194.8 400.5,195.1 401.5,195.3C402.4,195.6 403.4,195.8 404.4,196C405.4,196.2 406.4,196.4 407.4,196.5C408.3,196.7 409.3,196.8 410.3,196.9C411.3,197 412.3,197.1 413.3,197.1C414.3,197.1 415.3,197.1 416.3,197.1C417.3,197 418.3,196.9 419.3,196.8C420.3,196.7 421.3,196.6 422.3,196.4C423.2,196.2 424.2,196 425.2,195.7C426.1,195.5 427.1,195.2 428,194.9C429,194.5 429.9,194.2 430.9,193.8C431.8,193.4 432.7,193 433.6,192.6C434.6,192.1 435.5,191.7 436.4,191.2C437.3,190.7 438.2,190.3 439.1,189.7C440,189.2 440.9,188.7 441.7,188.2C442.6,187.6 443.5,187.1 444.4,186.5C445.2,186 446.1,185.4 446.9,184.9C447.8,184.3 448.7,183.7 449.5,183.1C450.3,182.6 451.2,182 452,181.4C452.9,180.8 453.7,180.2 454.5,179.6C455.3,179 456.2,178.4 457,177.8C457.8,177.2 458.6,176.6 459.4,176C460.2,175.3 461,174.7 461.8,174.1C462.6,173.5 463.4,172.8 464.2,172.2C465,171.6 465.8,170.9 466.6,170.3C467.3,169.6 468.1,169 468.9,168.4C469.7,167.7 470.4,167 471.2,166.4C472,165.7 472.7,165.1 473.5,164.4C474.3,163.8 475,163.1 475.8,162.4C476.5,161.8 477.3,161.1 478,160.4C478.8,159.7 479.5,159.1 480.3,158.4C481,157.7 481.7,157 482.5,156.3C483.2,155.7 484,155 484.7,154.3C485.4,153.6 486.1,152.9 486.9,152.2C487.6,151.5 488.3,150.8 489,150.1C489.8,149.4 490.5,148.7 491.2,148C491.9,147.3 492.6,146.6 493.3,145.9C494,145.2 494.8,144.5 495.5,143.8C496.2,143.1 496.9,142.3 497.6,141.6C498.3,140.9 499,140.2 499.7,139.5C500.3,138.7 501,138 501.7,137.3C502.4,136.6 503.1,135.8 503.8,135.1C504.5,134.4 505.2,133.6 505.8,132.9C506.5,132.2 507.2,131.4 507.9,130.7C508.5,129.9 509.2,129.2 509.9,128.5C510.5,127.7 511.2,127 511.9,126.2C512.5,125.5 513.2,124.7 513.9,124C514.5,123.2 515.2,122.4 515.8,121.7C516.5,120.9 517.1,120.2 517.8,119.4C518.4,118.6 519.1,117.9 519.7,117.1C520.4,116.3 521,115.6 521.6,114.8C522.3,114 522.9,113.3 523.6,112.5C524.2,111.7 524.8,110.9 525.5,110.2C526.1,109.4 526.7,108.6 527.3,107.8C528,107 528.6,106.3 529.2,105.5C529.8,104.7 530.5,103.9 531.1,103.1C531.7,102.3 532.3,101.5 532.9,100.7C533.5,99.9 534.1,99.1 534.7,98.3C535.4,97.6 536,96.8 536.6,96C537.2,95.2 537.8,94.3 538.4,93.5C539,92.7 539.6,91.9 540.2,91.1C540.8,90.3 541.4,89.5 541.9,88.7C542.5,87.9 543.1,87.1 543.7,86.3C544.3,85.5 544.9,84.6 545.5,83.8C546.1,83 546.6,82.2 547.2,81.4C547.8,80.5 548.4,79.7 548.9,78.9C549.5,78.1 550.1,77.2 550.7,76.4C551.2,75.6 551.8,74.8 552.4,73.9C552.9,73.1 553.5,72.3 554.1,71.4C554.6,70.6 555.2,69.8 555.8,68.9C556.3,68.1 556.9,67.3 557.4,66.4C558,65.6 558.5,64.8 559.1,63.9C559.7,63.1 560.2,62.2 560.8,61.4C561.3,60.5 561.9,59.7 562.4,58.9C562.9,58 563.5,57.2 564,56.3C564.6,55.5 565.1,54.6 565.7,53.8C566.2,52.9 566.7,52.1 567.3,51.2C567.8,50.4 568.3,49.5 568.9,48.6C569.4,47.8 569.9,46.9 570.5,46.1C571,45.2 571.5,44.4 572,43.5C572.6,42.6 573.1,41.8 573.6,40.9C574.1,40 574.7,39.2 575.2,38.3C575.7,37.5 576.2,36.6 576.7,35.7C577.2,34.9 577.8,34 578.3,33.1C578.8,32.2 579.3,31.4 579.8,30.5C580.3,29.6 580.8,28.8 581.3,27.9C581.8,27 582.3,26.1 582.8,25.3C583.3,24.4 583.9,23.5 584.4,22.6C584.9,21.8 585.4,20.9 585.9,20C586.4,19.1 586.8,18.3 587.3,17.4C587.8,16.5 588.3,15.6 588.8,14.7C589.3,13.9 589.8,13 590.3,12.1C590.8,11.2 591.3,10.3 591.8,9.4C592.3,8.6 593,7.2 593.2,6.8" stroke="#ee6a6a" style="mix-blend-mode:multiply"/>
</g>
<rect x="69.5" y="10.0" width="566" height="376" fill="none" stroke="#4e4e4e" stroke-width="2.0"/>
<text x="61.5" y="317.4" text-anchor="end" class="tl">0e0</text>
<text x="61.5" y="242.2" text-anchor="end" class="tl">1e-3</text>
<text x="61.5" y="167" text-anchor="end" class="tl">2e-3</text>
<text x="61.5" y="91.8" text-anchor="end" class="tl">3e-3</text>
<text x="61.5" y="16.6" text-anchor="end" class="tl">4e-3</text>
<text x="236.2" y="410" text-anchor="middle" class="tl">1.6e-2</text>
<text x="430.6" y="410" text-anchor="middle" class="tl">2.0e-2</text>
<text x="625" y="410" text-anchor="middle" class="tl">2.4e-2</text>
<text x="319" y="432" textLength="69" lengthAdjust="spacingAndGlyphs" class="at">Z' (Ohm)</text>
<text transform="translate(14,237) rotate(-90)" textLength="78" lengthAdjust="spacingAndGlyphs" class="at" style="font-size:15px">-Z'' (Ohm)</text>
<text x="287.0" y="65.3" textLength="133" lengthAdjust="spacingAndGlyphs" class="tt">0 Cycles</text>
<clipPath id="clipTR"><rect x="709.8" y="10.0" width="565.6000000000001" height="376.0"/></clipPath>
<line x1="709.8" y1="311.1" x2="1275.4" y2="311.1" stroke="#4e4e4e" stroke-width="2.0"/>
<path d="M804.8 386.0v-10M804.8 10.0v10M804.8 306.8v8M909.1 386.0v-10M909.1 10.0v10M909.1 306.8v8M1013.4 386.0v-10M1013.4 10.0v10M1013.4 306.8v8M1117.7 386.0v-10M1117.7 10.0v10M1117.7 306.8v8M1222 386.0v-10M1222 10.0v10M1222 306.8v8M752.6 386.0v-4M752.6 10.0v4M752.6 308.8v4M857 386.0v-4M857 10.0v4M857 308.8v4M961.2 386.0v-4M961.2 10.0v4M961.2 308.8v4M1065.5 386.0v-4M1065.5 10.0v4M1065.5 308.8v4M1169.8 386.0v-4M1169.8 10.0v4M1169.8 308.8v4M709.8 310.8h10M1275.4 310.8h-10M709.8 235.6h10M1275.4 235.6h-10M709.8 160.4h10M1275.4 160.4h-10M709.8 85.2h10M1275.4 85.2h-10M709.8 10h10M1275.4 10h-10M709.8 348.4h4M1275.4 348.4h-4M709.8 273.2h4M1275.4 273.2h-4M709.8 198h4M1275.4 198h-4M709.8 122.8h4M1275.4 122.8h-4M709.8 47.6h4M1275.4 47.6h-4" stroke="#3a3a3a" stroke-width="2" fill="none"/>
<g clip-path="url(#clipTR)" fill="none" stroke-width="2.4" stroke-linejoin="round" stroke-linecap="round">
<path d="M720.4,388C720.5,387.5 720.6,386 720.8,385C720.9,384 721,383 721.1,382.1C721.2,381.1 721.4,380.1 721.5,379.1C721.6,378.1 721.7,377.1 721.9,376.1C722,375.1 722.1,374.2 722.3,373.2C722.4,372.2 722.5,371.2 722.7,370.2C722.8,369.2 722.9,368.2 723.1,367.2C723.2,366.2 723.3,365.2 723.5,364.2C723.6,363.2 723.8,362.2 723.9,361.2C724.1,360.2 724.2,359.2 724.4,358.2C724.5,357.2 724.7,356.2 724.8,355.2C725,354.2 725.1,353.2 725.3,352.2C725.4,351.3 725.6,350.3 725.8,349.3C725.9,348.3 726.1,347.3 726.3,346.3C726.5,345.3 726.6,344.3 726.8,343.3C727,342.3 727.2,341.3 727.4,340.3C727.5,339.3 727.7,338.3 727.9,337.3C728.1,336.3 728.3,335.3 728.5,334.3C728.7,333.3 728.9,332.3 729.1,331.3C729.3,330.3 729.5,329.3 729.7,328.3C730,327.4 730.2,326.4 730.4,325.4C730.6,324.4 730.8,323.4 731.1,322.4C731.3,321.4 731.5,320.4 731.8,319.5C732,318.5 732.3,317.5 732.5,316.5C732.8,315.5 733,314.5 733.3,313.6C733.5,312.6 733.8,311.6 734,310.6C734.3,309.7 734.6,308.7 734.9,307.7C735.1,306.7 735.4,305.8 735.7,304.8C736,303.8 736.3,302.9 736.6,301.9C736.9,300.9 737.2,300 737.5,299C737.8,298 738.1,297.1 738.4,296.1C738.7,295.2 739,294.2 739.4,293.2C739.7,292.3 740,291.3 740.4,290.4C740.7,289.4 741,288.5 741.4,287.6C741.7,286.6 742.1,285.7 742.5,284.7C742.8,283.8 743.2,282.9 743.6,281.9C743.9,281 744.3,280.1 744.7,279.1C745.1,278.2 745.5,277.3 745.9,276.4C746.3,275.4 746.7,274.5 747.1,273.6C747.5,272.7 747.9,271.8 748.4,270.9C748.8,270 749.2,269.1 749.7,268.2C750.1,267.2 750.5,266.3 751,265.5C751.4,264.6 751.9,263.7 752.4,262.8C752.8,261.9 753.3,261 753.8,260.1C754.3,259.2 754.8,258.4 755.3,257.5C755.8,256.6 756.3,255.7 756.8,254.9C757.3,254 757.8,253.2 758.3,252.3C758.9,251.4 759.4,250.6 759.9,249.7C760.5,248.9 761,248 761.6,247.2C762.1,246.4 762.7,245.5 763.2,244.7C763.8,243.9 764.4,243 765,242.2C765.6,241.4 766.1,240.6 766.7,239.7C767.3,238.9 767.9,238.1 768.5,237.3C769.1,236.5 769.8,235.7 770.4,234.9C771,234.1 771.6,233.3 772.3,232.6C772.9,231.8 773.5,231 774.2,230.2C774.8,229.4 775.5,228.7 776.1,227.9C776.8,227.2 777.5,226.4 778.1,225.6C778.8,224.9 779.5,224.1 780.2,223.4C780.9,222.7 781.5,221.9 782.2,221.2C782.9,220.5 783.6,219.7 784.3,219C785.1,218.3 785.8,217.6 786.5,216.9C787.2,216.2 787.9,215.5 788.7,214.8C789.4,214.1 790.1,213.4 790.9,212.7C791.6,212.1 792.4,211.4 793.1,210.7C793.9,210.1 794.7,209.4 795.4,208.7C796.2,208.1 797,207.4 797.7,206.8C798.5,206.2 799.3,205.5 800.1,204.9C800.9,204.3 801.7,203.6 802.5,203C803.3,202.4 804.1,201.8 804.9,201.2C805.7,200.6 806.5,200 807.4,199.4C808.2,198.9 809,198.3 809.9,197.7C810.7,197.1 811.5,196.6 812.4,196C813.2,195.5 814.1,194.9 814.9,194.4C815.8,193.9 816.6,193.3 817.5,192.8C818.4,192.3 819.2,191.8 820.1,191.2C821,190.7 821.9,190.2 822.7,189.8C823.6,189.3 824.5,188.8 825.4,188.3C826.3,187.8 827.2,187.4 828.1,186.9C829,186.5 829.9,186 830.8,185.6C831.7,185.2 832.7,184.7 833.6,184.3C834.5,183.9 835.4,183.5 836.3,183.1C837.3,182.7 838.2,182.4 839.1,182C840.1,181.6 841,181.3 841.9,180.9C842.9,180.6 843.8,180.3 844.8,179.9C845.7,179.6 846.7,179.3 847.6,179C848.6,178.7 849.5,178.5 850.5,178.2C851.4,177.9 852.4,177.7 853.4,177.4C854.3,177.2 855.3,177 856.3,176.8C857.2,176.6 858.2,176.4 859.2,176.2C860.1,176 861.1,175.8 862.1,175.7C863.1,175.5 864,175.4 865,175.3C866,175.1 867,175 868,174.9C868.9,174.8 869.9,174.7 870.9,174.7C871.9,174.6 872.9,174.5 873.9,174.5C874.9,174.4 875.8,174.4 876.8,174.3C877.8,174.3 878.8,174.3 879.8,174.3C880.8,174.3 881.8,174.3 882.8,174.3C883.8,174.3 884.7,174.4 885.7,174.4C886.7,174.5 887.7,174.5 888.7,174.6C889.7,174.7 890.7,174.7 891.7,174.8C892.7,174.9 893.7,175 894.7,175.1C895.7,175.2 896.6,175.4 897.6,175.5C898.6,175.6 899.6,175.8 900.6,175.9C901.6,176.1 902.6,176.2 903.6,176.4C904.6,176.6 905.5,176.8 906.5,176.9C907.5,177.1 908.5,177.3 909.5,177.6C910.5,177.8 911.5,178 912.4,178.2C913.4,178.4 914.4,178.7 915.4,178.9C916.4,179.2 917.3,179.4 918.3,179.7C919.3,179.9 920.3,180.2 921.3,180.5C922.3,180.8 923.2,181 924.2,181.3C925.2,181.6 926.2,181.9 927.1,182.2C928.1,182.5 929.1,182.8 930.1,183.1C931.1,183.4 932,183.8 933,184.1C934,184.4 935,184.7 935.9,185.1C936.9,185.4 937.9,185.7 938.9,186.1C939.8,186.4 940.8,186.8 941.8,187.1C942.8,187.5 943.7,187.8 944.7,188.2C945.7,188.6 946.7,188.9 947.6,189.3C948.6,189.7 949.6,190 950.6,190.4C951.5,190.8 952.5,191.2 953.5,191.5C954.5,191.9 955.4,192.3 956.4,192.7C957.4,193 958.3,193.4 959.3,193.8C960.3,194.2 961.3,194.5 962.2,194.9C963.2,195.3 964.2,195.6 965.2,196C966.1,196.3 967.1,196.7 968.1,197C969,197.4 970,197.7 971,198C972,198.4 972.9,198.7 973.9,199C974.9,199.3 975.8,199.6 976.8,199.8C977.8,200.1 978.8,200.4 979.7,200.6C980.7,200.9 981.7,201.1 982.7,201.3C983.6,201.5 984.6,201.7 985.6,201.9C986.5,202.1 987.5,202.2 988.5,202.4C989.5,202.5 990.4,202.6 991.4,202.7C992.4,202.9 993.4,202.9 994.3,203C995.3,203.1 996.3,203.1 997.2,203.2C998.2,203.2 999.2,203.2 1000.2,203.2C1001.1,203.2 1002.1,203.2 1003.1,203.2C1004,203.1 1005,203.1 1006,203C1006.9,202.9 1007.9,202.9 1008.9,202.7C1009.8,202.6 1010.8,202.5 1011.8,202.4C1012.7,202.3 1013.7,202.1 1014.7,201.9C1015.6,201.8 1016.6,201.6 1017.5,201.4C1018.5,201.2 1019.5,201 1020.4,200.7C1021.4,200.5 1022.3,200.3 1023.3,200C1024.2,199.8 1025.2,199.5 1026.1,199.2C1027.1,199 1028.1,198.7 1029,198.4C1029.9,198.1 1030.9,197.8 1031.8,197.4C1032.8,197.1 1033.7,196.8 1034.7,196.4C1035.6,196.1 1036.5,195.8 1037.5,195.4C1038.4,195 1039.4,194.7 1040.3,194.3C1041.2,193.9 1042.1,193.6 1043.1,193.2C1044,192.8 1044.9,192.4 1045.9,192C1046.8,191.6 1047.7,191.2 1048.6,190.8C1049.5,190.4 1050.4,189.9 1051.4,189.5C1052.3,189.1 1053.2,188.7 1054.1,188.2C1055,187.8 1055.9,187.3 1056.8,186.9C1057.7,186.4 1058.6,186 1059.5,185.5C1060.4,185 1061.3,184.6 1062.2,184.1C1063.1,183.6 1064,183.1 1064.9,182.6C1065.8,182.2 1066.7,181.7 1067.5,181.2C1068.4,180.7 1069.3,180.2 1070.2,179.6C1071,179.1 1071.9,178.6 1072.8,178.1C1073.7,177.6 1074.5,177.1 1075.4,176.5C1076.3,176 1077.1,175.4 1078,174.9C1078.8,174.4 1079.7,173.8 1080.6,173.3C1081.4,172.7 1082.3,172.2 1083.1,171.6C1084,171 1084.8,170.5 1085.6,169.9C1086.5,169.3 1087.3,168.7 1088.1,168.2C1089,167.6 1089.8,167 1090.6,166.4C1091.5,165.8 1092.3,165.2 1093.1,164.6C1093.9,164 1094.8,163.4 1095.6,162.8C1096.4,162.2 1097.2,161.6 1098,161C1098.8,160.4 1099.6,159.7 1100.4,159.1C1101.2,158.5 1102,157.9 1102.8,157.2C1103.6,156.6 1104.4,156 1105.2,155.3C1106,154.7 1106.7,154.1 1107.5,153.4C1108.3,152.8 1109.1,152.1 1109.8,151.5C1110.6,150.8 1111.4,150.2 1112.1,149.5C1112.9,148.9 1113.7,148.2 1114.4,147.5C1115.2,146.9 1115.9,146.2 1116.7,145.6C1117.5,144.9 1118.2,144.2 1118.9,143.5C1119.7,142.9 1120.4,142.2 1121.2,141.5C1121.9,140.8 1122.7,140.1 1123.4,139.4C1124.1,138.8 1124.9,138.1 1125.6,137.4C1126.3,136.7 1127,136 1127.8,135.3C1128.5,134.6 1129.2,133.9 1129.9,133.2C1130.6,132.5 1131.3,131.8 1132,131C1132.8,130.3 1133.5,129.6 1134.2,128.9C1134.9,128.2 1135.6,127.5 1136.3,126.7C1137,126 1137.7,125.3 1138.4,124.6C1139.1,123.9 1139.7,123.1 1140.4,122.4C1141.1,121.7 1141.8,120.9 1142.5,120.2C1143.2,119.5 1143.9,118.7 1144.5,118C1145.2,117.2 1145.9,116.5 1146.6,115.7C1147.2,115 1147.9,114.2 1148.6,113.5C1149.3,112.7 1149.9,112 1150.6,111.2C1151.2,110.5 1151.9,109.7 1152.6,109C1153.2,108.2 1153.9,107.5 1154.5,106.7C1155.2,105.9 1155.9,105.2 1156.5,104.4C1157.2,103.6 1157.8,102.9 1158.5,102.1C1159.1,101.3 1159.7,100.6 1160.4,99.8C1161,99 1161.7,98.2 1162.3,97.5C1163,96.7 1163.6,95.9 1164.2,95.1C1164.9,94.3 1165.5,93.6 1166.1,92.8C1166.8,92 1167.4,91.2 1168,90.4C1168.6,89.6 1169.3,88.8 1169.9,88C1170.5,87.3 1171.1,86.5 1171.8,85.7C1172.4,84.9 1173,84.1 1173.6,83.3C1174.2,82.5 1174.9,81.7 1175.5,80.9C1176.1,80.1 1176.7,79.3 1177.3,78.5C1177.9,77.7 1178.5,76.9 1179.2,76.1C1179.8,75.3 1180.4,74.5 1181,73.7C1181.6,72.9 1182.2,72.1 1182.8,71.3C1183.4,70.5 1184,69.6 1184.6,68.8C1185.2,68 1185.8,67.2 1186.4,66.4C1187,65.6 1187.6,64.8 1188.2,64C1188.8,63.2 1189.4,62.3 1190,61.5C1190.6,60.7 1191.2,59.9 1191.8,59.1C1192.4,58.3 1193,57.4 1193.6,56.6C1194.2,55.8 1194.8,55 1195.3,54.2C1195.9,53.4 1196.5,52.5 1197.1,51.7C1197.7,50.9 1198.3,50.1 1198.9,49.3C1199.5,48.4 1200.1,47.6 1200.6,46.8C1201.2,46 1201.8,45.2 1202.4,44.3C1203,43.5 1203.6,42.7 1204.1,41.9C1204.7,41.1 1205.3,40.2 1205.9,39.4C1206.5,38.6 1207.1,37.8 1207.6,36.9C1208.2,36.1 1208.8,35.3 1209.4,34.5C1210,33.6 1210.6,32.8 1211.1,32C1211.7,31.2 1212.3,30.4 1212.9,29.5C1213.5,28.7 1214,27.9 1214.6,27.1C1215.2,26.2 1215.8,25.4 1216.4,24.6C1216.9,23.8 1217.5,23 1218.1,22.1C1218.7,21.3 1219.3,20.5 1219.8,19.7C1220.4,18.9 1221,18 1221.6,17.2C1222.1,16.4 1222.7,15.6 1223.3,14.8C1223.9,13.9 1224.5,13.1 1225,12.3C1225.6,11.5 1226.2,10.7 1226.8,9.8C1227.4,9 1228.2,7.8 1228.5,7.4" stroke="#6f6ff2" style="mix-blend-mode:multiply"/>
<path d="M743.6,388.1C743.6,387.6 743.6,386 743.7,385C743.7,384 743.8,383 743.8,382C743.9,380.9 743.9,379.9 744,378.9C744.1,377.9 744.1,376.9 744.2,375.9C744.3,374.9 744.3,373.9 744.4,372.8C744.5,371.8 744.6,370.8 744.7,369.8C744.8,368.8 744.9,367.8 745,366.8C745.1,365.8 745.2,364.8 745.3,363.8C745.4,362.8 745.5,361.8 745.7,360.8C745.8,359.8 745.9,358.8 746.1,357.8C746.2,356.7 746.3,355.7 746.5,354.8C746.6,353.8 746.8,352.8 746.9,351.8C747.1,350.8 747.3,349.8 747.4,348.8C747.6,347.8 747.8,346.8 747.9,345.8C748.1,344.8 748.3,343.8 748.5,342.8C748.7,341.8 748.9,340.8 749.1,339.9C749.3,338.9 749.5,337.9 749.7,336.9C749.9,335.9 750.1,334.9 750.3,333.9C750.6,333 750.8,332 751,331C751.2,330 751.5,329 751.7,328.1C752,327.1 752.2,326.1 752.5,325.1C752.7,324.2 753,323.2 753.2,322.2C753.5,321.3 753.8,320.3 754,319.3C754.3,318.4 754.6,317.4 754.9,316.4C755.2,315.5 755.4,314.5 755.7,313.5C756,312.6 756.3,311.6 756.6,310.7C756.9,309.7 757.2,308.7 757.6,307.8C757.9,306.8 758.2,305.9 758.5,304.9C758.8,304 759.2,303 759.5,302.1C759.8,301.1 760.2,300.2 760.5,299.3C760.9,298.3 761.2,297.4 761.6,296.4C761.9,295.5 762.3,294.6 762.7,293.6C763,292.7 763.4,291.7 763.8,290.8C764.1,289.9 764.5,288.9 764.9,288C765.3,287.1 765.7,286.2 766.1,285.2C766.5,284.3 766.9,283.4 767.3,282.5C767.7,281.6 768.1,280.6 768.5,279.7C768.9,278.8 769.3,277.9 769.8,277C770.2,276.1 770.6,275.2 771.1,274.2C771.5,273.3 771.9,272.4 772.4,271.5C772.8,270.6 773.3,269.7 773.7,268.8C774.2,267.9 774.7,267 775.1,266.1C775.6,265.2 776.1,264.3 776.5,263.5C777,262.6 777.5,261.7 778,260.8C778.5,259.9 779,259 779.5,258.2C780,257.3 780.5,256.4 781,255.5C781.5,254.6 782,253.8 782.5,252.9C783,252 783.5,251.2 784.1,250.3C784.6,249.5 785.1,248.6 785.7,247.7C786.2,246.9 786.8,246 787.3,245.2C787.9,244.3 788.4,243.5 789,242.7C789.6,241.8 790.1,241 790.7,240.2C791.3,239.3 791.8,238.5 792.4,237.7C793,236.9 793.6,236 794.2,235.2C794.8,234.4 795.4,233.6 796,232.8C796.6,232 797.3,231.2 797.9,230.4C798.5,229.6 799.1,228.8 799.8,228.1C800.4,227.3 801,226.5 801.7,225.7C802.3,225 803,224.2 803.7,223.4C804.3,222.7 805,221.9 805.7,221.2C806.3,220.4 807,219.7 807.7,219C808.4,218.2 809.1,217.5 809.8,216.8C810.5,216.1 811.2,215.4 811.9,214.6C812.6,213.9 813.4,213.2 814.1,212.5C814.8,211.8 815.6,211.2 816.3,210.5C817.1,209.8 817.8,209.1 818.6,208.5C819.3,207.8 820.1,207.1 820.9,206.5C821.6,205.8 822.4,205.2 823.2,204.6C824,203.9 824.8,203.3 825.6,202.7C826.4,202.1 827.2,201.5 828,200.9C828.8,200.3 829.7,199.7 830.5,199.1C831.3,198.5 832.2,197.9 833,197.4C833.9,196.8 834.7,196.2 835.6,195.7C836.5,195.1 837.3,194.6 838.2,194.1C839.1,193.5 840,193 840.9,192.5C841.8,192 842.6,191.5 843.5,191C844.4,190.6 845.4,190.1 846.3,189.6C847.2,189.2 848.1,188.7 849,188.3C849.9,187.8 850.9,187.4 851.8,187C852.7,186.6 853.7,186.2 854.6,185.8C855.5,185.4 856.5,185 857.4,184.7C858.4,184.3 859.3,184 860.3,183.6C861.3,183.3 862.2,183 863.2,182.7C864.1,182.4 865.1,182.1 866.1,181.8C867.1,181.5 868,181.3 869,181C870,180.8 871,180.5 871.9,180.3C872.9,180.1 873.9,179.9 874.9,179.7C875.9,179.5 876.8,179.4 877.8,179.2C878.8,179 879.8,178.9 880.8,178.8C881.8,178.6 882.8,178.5 883.8,178.4C884.8,178.3 885.7,178.2 886.7,178.1C887.7,178.1 888.7,178 889.7,178C890.7,177.9 891.7,177.9 892.7,177.8C893.7,177.8 894.7,177.8 895.7,177.8C896.7,177.8 897.6,177.8 898.6,177.9C899.6,177.9 900.6,177.9 901.6,178C902.6,178 903.6,178.1 904.5,178.2C905.5,178.3 906.5,178.4 907.5,178.5C908.5,178.6 909.5,178.7 910.4,178.8C911.4,178.9 912.4,179.1 913.4,179.2C914.4,179.4 915.3,179.5 916.3,179.7C917.3,179.8 918.3,180 919.2,180.2C920.2,180.4 921.2,180.6 922.2,180.8C923.1,181 924.1,181.2 925.1,181.4C926,181.7 927,181.9 928,182.1C929,182.4 929.9,182.6 930.9,182.9C931.9,183.2 932.8,183.4 933.8,183.7C934.8,184 935.8,184.2 936.7,184.5C937.7,184.8 938.7,185.1 939.6,185.4C940.6,185.7 941.6,186 942.5,186.4C943.5,186.7 944.5,187 945.5,187.3C946.4,187.7 947.4,188 948.4,188.3C949.3,188.7 950.3,189 951.3,189.4C952.2,189.7 953.2,190.1 954.2,190.4C955.2,190.8 956.1,191.1 957.1,191.5C958.1,191.9 959,192.2 960,192.6C961,193 962,193.3 962.9,193.7C963.9,194 964.9,194.4 965.9,194.7C966.8,195.1 967.8,195.4 968.8,195.8C969.8,196.1 970.7,196.4 971.7,196.8C972.7,197.1 973.7,197.4 974.6,197.7C975.6,198 976.6,198.3 977.6,198.6C978.6,198.9 979.5,199.1 980.5,199.4C981.5,199.7 982.5,199.9 983.5,200.1C984.5,200.3 985.4,200.6 986.4,200.7C987.4,200.9 988.4,201.1 989.4,201.3C990.4,201.4 991.4,201.6 992.4,201.7C993.4,201.8 994.3,201.9 995.3,202C996.3,202.1 997.3,202.2 998.3,202.3C999.3,202.4 1000.3,202.4 1001.3,202.5C1002.3,202.5 1003.3,202.5 1004.3,202.5C1005.3,202.5 1006.3,202.5 1007.2,202.5C1008.2,202.5 1009.2,202.5 1010.2,202.4C1011.2,202.4 1012.2,202.3 1013.2,202.3C1014.2,202.2 1015.2,202.1 1016.2,202C1017.2,201.9 1018.2,201.8 1019.1,201.7C1020.1,201.6 1021.1,201.5 1022.1,201.3C1023.1,201.2 1024.1,201.1 1025.1,200.9C1026,200.7 1027,200.6 1028,200.4C1029,200.2 1030,200 1031,199.8C1031.9,199.6 1032.9,199.4 1033.9,199.2C1034.9,198.9 1035.8,198.7 1036.8,198.5C1037.8,198.2 1038.8,198 1039.7,197.7C1040.7,197.5 1041.7,197.2 1042.6,196.9C1043.6,196.6 1044.6,196.3 1045.5,196.1C1046.5,195.8 1047.4,195.5 1048.4,195.1C1049.4,194.8 1050.3,194.5 1051.3,194.2C1052.2,193.9 1053.2,193.5 1054.1,193.2C1055.1,192.8 1056,192.5 1056.9,192.1C1057.9,191.8 1058.8,191.4 1059.7,191C1060.7,190.6 1061.6,190.2 1062.5,189.9C1063.5,189.5 1064.4,189.1 1065.3,188.6C1066.2,188.2 1067.1,187.8 1068.1,187.4C1069,187 1069.9,186.5 1070.8,186.1C1071.7,185.7 1072.6,185.2 1073.5,184.7C1074.4,184.3 1075.3,183.8 1076.2,183.4C1077.1,182.9 1078,182.4 1078.8,181.9C1079.7,181.4 1080.6,180.9 1081.5,180.4C1082.4,179.9 1083.2,179.4 1084.1,178.9C1085,178.4 1085.8,177.9 1086.7,177.4C1087.5,176.8 1088.4,176.3 1089.2,175.8C1090.1,175.2 1090.9,174.7 1091.8,174.1C1092.6,173.6 1093.5,173 1094.3,172.4C1095.1,171.9 1096,171.3 1096.8,170.7C1097.6,170.2 1098.5,169.6 1099.3,169C1100.1,168.4 1100.9,167.8 1101.7,167.2C1102.6,166.6 1103.4,166 1104.2,165.4C1105,164.8 1105.8,164.2 1106.6,163.6C1107.4,162.9 1108.2,162.3 1109,161.7C1109.8,161.1 1110.6,160.4 1111.4,159.8C1112.2,159.2 1112.9,158.5 1113.7,157.9C1114.5,157.3 1115.3,156.6 1116.1,156C1116.8,155.3 1117.6,154.7 1118.4,154C1119.2,153.3 1119.9,152.7 1120.7,152C1121.5,151.4 1122.2,150.7 1123,150C1123.7,149.4 1124.5,148.7 1125.3,148C1126,147.3 1126.8,146.7 1127.5,146C1128.3,145.3 1129,144.6 1129.8,143.9C1130.5,143.3 1131.2,142.6 1132,141.9C1132.7,141.2 1133.5,140.5 1134.2,139.8C1134.9,139.1 1135.7,138.4 1136.4,137.7C1137.1,137 1137.9,136.3 1138.6,135.6C1139.3,134.9 1140,134.3 1140.8,133.6C1141.5,132.9 1142.2,132.1 1142.9,131.4C1143.6,130.7 1144.4,130 1145.1,129.3C1145.8,128.6 1146.5,127.9 1147.2,127.2C1147.9,126.5 1148.6,125.8 1149.3,125.1C1150,124.4 1150.7,123.6 1151.4,122.9C1152.1,122.2 1152.8,121.5 1153.5,120.8C1154.2,120 1154.9,119.3 1155.6,118.6C1156.2,117.9 1156.9,117.1 1157.6,116.4C1158.3,115.7 1159,114.9 1159.6,114.2C1160.3,113.4 1161,112.7 1161.6,112C1162.3,111.2 1163,110.5 1163.6,109.7C1164.3,109 1164.9,108.2 1165.6,107.4C1166.2,106.7 1166.9,105.9 1167.5,105.2C1168.2,104.4 1168.8,103.6 1169.5,102.9C1170.1,102.1 1170.7,101.3 1171.4,100.5C1172,99.7 1172.6,99 1173.2,98.2C1173.9,97.4 1174.5,96.6 1175.1,95.8C1175.7,95 1176.3,94.2 1176.9,93.4C1177.5,92.6 1178.1,91.8 1178.8,91C1179.4,90.2 1180,89.4 1180.5,88.5C1181.1,87.7 1181.7,86.9 1182.3,86.1C1182.9,85.3 1183.5,84.4 1184.1,83.6C1184.7,82.8 1185.3,82 1185.8,81.1C1186.4,80.3 1187,79.5 1187.6,78.7C1188.1,77.8 1188.7,77 1189.3,76.2C1189.9,75.3 1190.4,74.5 1191,73.7C1191.6,72.8 1192.2,72 1192.7,71.2C1193.3,70.3 1193.9,69.5 1194.4,68.6C1195,67.8 1195.6,67 1196.1,66.1C1196.7,65.3 1197.3,64.5 1197.8,63.6C1198.4,62.8 1198.9,62 1199.5,61.1C1200.1,60.3 1200.6,59.5 1201.2,58.6C1201.8,57.8 1202.3,57 1202.9,56.1C1203.4,55.3 1204,54.5 1204.6,53.7C1205.1,52.8 1205.7,52 1206.3,51.2C1206.8,50.3 1207.4,49.5 1208,48.7C1208.5,47.8 1209.1,47 1209.7,46.2C1210.2,45.4 1210.8,44.5 1211.4,43.7C1211.9,42.9 1212.5,42.1 1213.1,41.2C1213.6,40.4 1214.2,39.6 1214.8,38.8C1215.4,37.9 1215.9,37.1 1216.5,36.3C1217.1,35.5 1217.7,34.6 1218.3,33.8C1218.8,33 1219.4,32.2 1220,31.4C1220.6,30.6 1221.2,29.7 1221.8,28.9C1222.4,28.1 1222.9,27.3 1223.5,26.5C1224.1,25.7 1224.7,24.9 1225.3,24C1225.9,23.2 1226.5,22.4 1227.1,21.6C1227.7,20.8 1228.3,20 1229,19.2C1229.6,18.4 1230.2,17.6 1230.8,16.8C1231.4,16 1232,15.2 1232.6,14.4C1233.3,13.6 1233.9,12.8 1234.5,12C1235.1,11.2 1235.8,10.4 1236.4,9.6C1237.1,8.8 1238,7.6 1238.3,7.2" stroke="#72ec72" style="mix-blend-mode:multiply"/>
<path d="M745.6,388.1C745.6,387.8 745.8,385.6 745.8,385C745.8,384.4 745.9,382.6 746,382C746,381.4 746.1,379.6 746.2,379C746.2,378.4 746.4,376.5 746.4,375.9C746.4,375.3 746.6,373.5 746.6,372.9C746.7,372.3 746.8,370.5 746.9,369.9C746.9,369.3 747.1,367.4 747.2,366.8C747.2,366.2 747.4,364.4 747.5,363.8C747.5,363.2 747.7,361.4 747.8,360.8C747.8,360.2 748,358.4 748.1,357.8C748.2,357.2 748.4,355.4 748.5,354.8C748.6,354.2 748.8,352.4 748.9,351.7C748.9,351.1 749.2,349.3 749.3,348.7C749.4,348.1 749.6,346.3 749.7,345.7C749.8,345.1 750.1,343.3 750.2,342.7C750.3,342.1 750.6,340.4 750.7,339.8C750.8,339.2 751.1,337.4 751.2,336.8C751.3,336.2 751.6,334.4 751.7,333.8C751.8,333.2 752.2,331.4 752.3,330.8C752.4,330.2 752.8,328.5 752.9,327.9C753,327.3 753.4,325.5 753.5,324.9C753.7,324.3 754.1,322.6 754.2,322C754.3,321.4 754.8,319.6 754.9,319.1C755.1,318.5 755.5,316.7 755.7,316.1C755.8,315.5 756.3,313.8 756.4,313.2C756.6,312.6 757.1,310.9 757.2,310.3C757.4,309.7 757.9,308 758.1,307.4C758.3,306.9 758.8,305.1 759,304.6C759.2,304 759.7,302.3 759.9,301.7C760.1,301.1 760.7,299.4 760.9,298.8C761.1,298.3 761.7,296.6 761.9,296C762.1,295.4 762.7,293.7 762.9,293.2C763.1,292.6 763.8,290.9 764,290.4C764.2,289.8 764.9,288.1 765.1,287.6C765.3,287 766,285.3 766.3,284.8C766.5,284.2 767.2,282.6 767.4,282C767.7,281.5 768.4,279.8 768.7,279.3C768.9,278.7 769.7,277.1 769.9,276.5C770.2,276 771,274.4 771.2,273.8C771.5,273.3 772.3,271.7 772.6,271.1C772.8,270.6 773.7,269 773.9,268.4C774.2,267.9 775.1,266.3 775.4,265.8C775.6,265.3 776.5,263.7 776.8,263.1C777.1,262.6 778,261 778.3,260.5C778.6,260 779.5,258.4 779.8,257.9C780.1,257.4 781.1,255.9 781.4,255.3C781.7,254.8 782.7,253.3 783,252.8C783.3,252.3 784.3,250.8 784.7,250.2C785,249.7 786,248.2 786.3,247.7C786.7,247.2 787.7,245.7 788.1,245.2C788.4,244.8 789.5,243.3 789.8,242.8C790.2,242.3 791.3,240.8 791.6,240.3C792,239.9 793.1,238.4 793.5,237.9C793.8,237.4 795,236 795.3,235.5C795.7,235.1 796.9,233.6 797.3,233.2C797.6,232.7 798.8,231.3 799.2,230.8C799.6,230.4 800.8,229 801.2,228.5C801.6,228.1 802.8,226.7 803.2,226.3C803.7,225.8 804.9,224.5 805.3,224C805.7,223.6 807,222.2 807.4,221.8C807.9,221.4 809.2,220 809.6,219.6C810,219.2 811.3,217.9 811.8,217.5C812.2,217 813.6,215.8 814,215.3C814.5,214.9 815.8,213.7 816.3,213.3C816.7,212.8 818.1,211.6 818.6,211.2C819.1,210.8 820.5,209.6 820.9,209.2C821.4,208.8 822.8,207.7 823.3,207.3C823.8,206.9 825.2,205.8 825.7,205.4C826.2,205 827.7,203.9 828.2,203.6C828.7,203.2 830.2,202.1 830.7,201.8C831.2,201.4 832.7,200.4 833.2,200C833.7,199.7 835.2,198.7 835.7,198.4C836.2,198 837.8,197.1 838.3,196.8C838.8,196.4 840.4,195.5 840.9,195.2C841.4,194.9 843,194 843.5,193.7C844,193.5 845.6,192.6 846.2,192.3C846.7,192.1 848.3,191.3 848.8,191C849.4,190.7 851,190 851.6,189.8C852.1,189.5 853.7,188.8 854.3,188.6C854.8,188.3 856.5,187.7 857.1,187.5C857.6,187.3 859.3,186.7 859.8,186.5C860.4,186.3 862.1,185.7 862.7,185.5C863.2,185.4 864.9,184.9 865.5,184.7C866.1,184.5 867.8,184.1 868.3,184C868.9,183.8 870.6,183.4 871.2,183.3C871.8,183.2 873.5,182.8 874.1,182.7C874.7,182.6 876.4,182.3 877,182.2C877.6,182.1 879.4,181.9 879.9,181.8C880.5,181.8 882.3,181.6 882.9,181.5C883.5,181.4 885.3,181.3 885.8,181.3C886.4,181.2 888.2,181.1 888.8,181.1C889.4,181.1 891.2,181 891.8,181C892.4,181 894.2,181 894.8,181C895.4,181 897.2,181 897.8,181C898.4,181 900.2,181.1 900.8,181.2C901.4,181.2 903.2,181.3 903.8,181.3C904.4,181.4 906.2,181.5 906.8,181.6C907.4,181.7 909.2,181.8 909.8,181.9C910.4,182 912.2,182.2 912.8,182.3C913.4,182.4 915.3,182.6 915.9,182.7C916.5,182.8 918.3,183.1 918.9,183.2C919.5,183.3 921.3,183.7 921.9,183.8C922.5,183.9 924.3,184.3 924.9,184.4C925.5,184.5 927.3,184.9 927.9,185.1C928.5,185.2 930.3,185.6 930.9,185.8C931.5,185.9 933.3,186.4 933.9,186.5C934.5,186.7 936.3,187.2 936.9,187.4C937.5,187.5 939.3,188 939.9,188.2C940.5,188.4 942.2,188.9 942.8,189.1C943.4,189.3 945.2,189.8 945.8,190C946.4,190.2 948.2,190.7 948.8,190.9C949.3,191.1 951.1,191.7 951.7,191.9C952.3,192.1 954.1,192.6 954.6,192.8C955.2,193 957,193.6 957.6,193.8C958.2,194 959.9,194.6 960.5,194.8C961.1,194.9 962.9,195.5 963.4,195.7C964,195.9 965.8,196.4 966.4,196.6C966.9,196.8 968.7,197.4 969.3,197.5C969.9,197.7 971.6,198.3 972.2,198.4C972.8,198.6 974.5,199.1 975.1,199.3C975.7,199.4 977.4,199.9 978,200.1C978.6,200.2 980.4,200.7 980.9,200.9C981.5,201 983.3,201.4 983.8,201.6C984.4,201.7 986.2,202.1 986.8,202.2C987.3,202.4 989.1,202.7 989.7,202.8C990.2,202.9 992,203.2 992.6,203.3C993.2,203.4 994.9,203.7 995.5,203.8C996.1,203.9 997.8,204.1 998.4,204.2C999,204.2 1000.7,204.4 1001.3,204.4C1001.9,204.5 1003.6,204.6 1004.2,204.6C1004.8,204.6 1006.5,204.7 1007.1,204.7C1007.7,204.7 1009.5,204.7 1010,204.7C1010.6,204.6 1012.4,204.6 1013,204.5C1013.6,204.5 1015.3,204.3 1015.9,204.3C1016.5,204.2 1018.2,204 1018.8,203.9C1019.4,203.8 1021.2,203.5 1021.8,203.4C1022.3,203.3 1024.1,203 1024.7,202.9C1025.3,202.8 1027,202.4 1027.6,202.3C1028.2,202.1 1030,201.7 1030.5,201.5C1031.1,201.4 1032.9,200.9 1033.5,200.8C1034,200.6 1035.8,200.1 1036.4,199.9C1037,199.7 1038.7,199.2 1039.3,199C1039.9,198.8 1041.6,198.3 1042.2,198.1C1042.8,197.9 1044.5,197.3 1045.1,197.1C1045.7,196.9 1047.4,196.3 1048,196C1048.6,195.8 1050.3,195.2 1050.9,195C1051.4,194.8 1053.2,194.1 1053.7,193.9C1054.3,193.7 1056,193.1 1056.6,192.8C1057.2,192.6 1058.9,191.9 1059.4,191.7C1060,191.5 1061.7,190.8 1062.3,190.6C1062.8,190.3 1064.5,189.6 1065.1,189.4C1065.6,189.2 1067.3,188.4 1067.9,188.2C1068.4,188 1070.1,187.2 1070.7,187C1071.2,186.7 1072.9,186 1073.4,185.7C1074,185.5 1075.7,184.7 1076.2,184.4C1076.8,184.2 1078.4,183.4 1078.9,183.1C1079.5,182.9 1081.1,182.1 1081.7,181.8C1082.2,181.5 1083.8,180.7 1084.4,180.4C1084.9,180.2 1086.5,179.3 1087,179C1087.6,178.8 1089.2,177.9 1089.7,177.6C1090.2,177.3 1091.8,176.4 1092.3,176.2C1092.9,175.9 1094.4,175 1095,174.7C1095.5,174.4 1097,173.4 1097.6,173.1C1098.1,172.8 1099.6,171.9 1100.1,171.6C1100.6,171.3 1102.2,170.3 1102.7,170C1103.2,169.7 1104.7,168.7 1105.2,168.3C1105.7,168 1107.2,167 1107.7,166.7C1108.2,166.3 1109.7,165.3 1110.2,165C1110.7,164.6 1112.1,163.6 1112.6,163.2C1113.1,162.9 1114.6,161.8 1115,161.5C1115.5,161.1 1117,160 1117.4,159.6C1117.9,159.3 1119.3,158.2 1119.8,157.8C1120.3,157.4 1121.7,156.3 1122.1,155.9C1122.6,155.5 1124,154.3 1124.4,153.9C1124.9,153.6 1126.2,152.4 1126.7,152C1127.1,151.6 1128.5,150.4 1128.9,149.9C1129.4,149.5 1130.7,148.3 1131.1,147.9C1131.6,147.5 1132.9,146.2 1133.3,145.8C1133.7,145.4 1135,144.1 1135.4,143.6C1135.9,143.2 1137.1,141.9 1137.5,141.4C1138,141 1139.2,139.6 1139.6,139.2C1140,138.7 1141.2,137.4 1141.6,136.9C1142,136.4 1143.2,135 1143.6,134.6C1144,134.1 1145.2,132.6 1145.6,132.2C1146,131.8 1146.4,131.5 1147.9,130.2C1149.3,128.9 1157.5,121.3 1159.9,118.9C1162.3,116.5 1169.9,108.5 1171.9,106.5C1174,104.5 1178.7,100.6 1180.2,99C1181.8,97.4 1185.9,93 1187.3,90.9C1188.7,88.8 1192.9,79.9 1194.1,78C1195.3,76.1 1198.1,72.9 1199.2,71.6C1200.3,70.3 1203.9,66.5 1205.2,65.2C1206.4,63.9 1210.7,60.2 1211.6,58.7C1212.5,57.2 1213.1,51.6 1213.7,50.1C1214.3,48.6 1216.9,45 1218,43.7C1219.1,42.4 1223.2,38.5 1224.4,37.2C1225.6,35.9 1228.7,32.2 1229.8,30.8C1230.9,29.4 1234.3,24.8 1235.2,23.3C1236.1,21.8 1237.9,16.9 1238.4,15.7C1238.9,14.5 1239.7,12.3 1240,11.4C1240.3,10.5 1240.9,7.4 1241,7" stroke="#ee78ee" style="mix-blend-mode:normal"/>
<path d="M732.3,387.5C732.3,387 732.4,385.6 732.5,384.6C732.6,383.7 732.6,382.7 732.7,381.8C732.8,380.8 732.9,379.9 733,378.9C733.1,378 733.1,377 733.2,376C733.3,375.1 733.4,374.1 733.5,373.2C733.6,372.2 733.7,371.2 733.9,370.3C734,369.3 734.1,368.3 734.2,367.3C734.3,366.4 734.4,365.4 734.6,364.4C734.7,363.4 734.8,362.5 734.9,361.5C735.1,360.5 735.2,359.5 735.3,358.5C735.5,357.6 735.6,356.6 735.8,355.6C735.9,354.6 736.1,353.6 736.2,352.6C736.4,351.6 736.5,350.7 736.7,349.7C736.9,348.7 737,347.7 737.2,346.7C737.4,345.7 737.5,344.7 737.7,343.7C737.9,342.7 738.1,341.7 738.3,340.8C738.4,339.8 738.6,338.8 738.8,337.8C739,336.8 739.2,335.8 739.4,334.8C739.6,333.8 739.8,332.8 740,331.8C740.2,330.8 740.5,329.8 740.7,328.8C740.9,327.8 741.1,326.8 741.3,325.9C741.6,324.9 741.8,323.9 742,322.9C742.3,321.9 742.5,320.9 742.8,319.9C743,318.9 743.3,317.9 743.5,316.9C743.8,315.9 744,314.9 744.3,313.9C744.5,313 744.8,312 745.1,311C745.4,310 745.6,309 745.9,308C746.2,307 746.5,306.1 746.8,305.1C747.1,304.1 747.4,303.1 747.7,302.1C748,301.1 748.3,300.2 748.6,299.2C748.9,298.2 749.2,297.2 749.5,296.3C749.8,295.3 750.2,294.3 750.5,293.3C750.8,292.4 751.1,291.4 751.5,290.4C751.8,289.5 752.2,288.5 752.5,287.5C752.9,286.6 753.2,285.6 753.6,284.7C753.9,283.7 754.3,282.7 754.7,281.8C755,280.8 755.4,279.9 755.8,278.9C756.2,278 756.5,277 756.9,276.1C757.3,275.2 757.7,274.2 758.1,273.3C758.5,272.3 758.9,271.4 759.3,270.5C759.7,269.5 760.1,268.6 760.6,267.7C761,266.8 761.4,265.8 761.8,264.9C762.3,264 762.7,263.1 763.1,262.2C763.6,261.2 764,260.3 764.5,259.4C764.9,258.5 765.4,257.6 765.8,256.7C766.3,255.8 766.8,254.9 767.3,254C767.7,253.1 768.2,252.2 768.7,251.4C769.2,250.5 769.7,249.6 770.2,248.7C770.7,247.8 771.2,247 771.7,246.1C772.2,245.2 772.7,244.4 773.2,243.5C773.7,242.7 774.2,241.8 774.8,241C775.3,240.1 775.8,239.3 776.4,238.4C776.9,237.6 777.5,236.7 778,235.9C778.6,235.1 779.1,234.2 779.7,233.4C780.3,232.6 780.8,231.8 781.4,231C782,230.2 782.6,229.4 783.2,228.6C783.8,227.8 784.3,227 784.9,226.2C785.6,225.4 786.2,224.6 786.8,223.8C787.4,223 788,222.3 788.6,221.5C789.3,220.7 789.9,220 790.5,219.2C791.2,218.4 791.8,217.7 792.5,216.9C793.1,216.2 793.8,215.5 794.4,214.7C795.1,214 795.8,213.3 796.4,212.5C797.1,211.8 797.8,211.1 798.5,210.4C799.2,209.7 799.9,209 800.6,208.3C801.3,207.6 802,206.9 802.7,206.2C803.4,205.5 804.1,204.9 804.9,204.2C805.6,203.5 806.3,202.9 807.1,202.2C807.8,201.6 808.5,200.9 809.3,200.3C810,199.6 810.8,199 811.6,198.4C812.3,197.7 813.1,197.1 813.9,196.5C814.7,195.9 815.5,195.3 816.3,194.7C817.1,194.1 817.9,193.5 818.7,192.9C819.5,192.3 820.3,191.8 821.1,191.2C821.9,190.6 822.8,190.1 823.6,189.5C824.4,189 825.3,188.4 826.1,187.9C827,187.4 827.8,186.8 828.7,186.3C829.5,185.8 830.4,185.3 831.3,184.8C832.2,184.3 833.1,183.8 833.9,183.3C834.8,182.8 835.7,182.3 836.6,181.9C837.5,181.4 838.4,180.9 839.4,180.5C840.3,180 841.2,179.6 842.1,179.2C843,178.7 844,178.3 844.9,177.9C845.8,177.5 846.8,177.1 847.7,176.7C848.7,176.3 849.6,175.9 850.6,175.5C851.5,175.2 852.5,174.8 853.5,174.4C854.4,174.1 855.4,173.7 856.4,173.4C857.3,173.1 858.3,172.7 859.3,172.4C860.2,172.1 861.2,171.8 862.2,171.5C863.2,171.2 864.2,170.9 865.2,170.6C866.2,170.4 867.1,170.1 868.1,169.9C869.1,169.6 870.1,169.4 871.1,169.1C872.1,168.9 873.1,168.7 874.1,168.5C875.1,168.3 876.1,168.1 877.1,167.9C878.1,167.7 879.1,167.5 880.1,167.3C881.1,167.2 882.2,167 883.2,166.9C884.2,166.7 885.2,166.6 886.2,166.5C887.2,166.4 888.2,166.3 889.2,166.2C890.2,166.1 891.2,166 892.2,165.9C893.2,165.9 894.2,165.8 895.3,165.8C896.3,165.7 897.3,165.7 898.3,165.7C899.3,165.6 900.3,165.6 901.3,165.6C902.3,165.6 903.3,165.7 904.3,165.7C905.3,165.7 906.3,165.8 907.3,165.8C908.3,165.9 909.3,165.9 910.2,166C911.2,166.1 912.2,166.2 913.2,166.3C914.2,166.4 915.2,166.5 916.1,166.7C917.1,166.8 918.1,167 919.1,167.1C920,167.3 921,167.5 922,167.6C922.9,167.8 923.9,168 924.9,168.2C925.8,168.5 926.8,168.7 927.7,168.9C928.7,169.2 929.6,169.4 930.6,169.7C931.5,169.9 932.5,170.2 933.4,170.5C934.4,170.7 935.3,171 936.3,171.3C937.2,171.6 938.2,171.9 939.1,172.3C940,172.6 941,172.9 941.9,173.3C942.8,173.6 943.8,173.9 944.7,174.3C945.6,174.6 946.5,175 947.5,175.4C948.4,175.7 949.3,176.1 950.3,176.5C951.2,176.9 952.1,177.3 953,177.7C953.9,178.1 954.9,178.5 955.8,178.9C956.7,179.3 957.6,179.7 958.5,180.1C959.5,180.6 960.4,181 961.3,181.4C962.2,181.9 963.1,182.3 964.1,182.7C965,183.2 965.9,183.6 966.8,184.1C967.7,184.5 968.6,185 969.6,185.4C970.5,185.9 971.4,186.3 972.3,186.8C973.2,187.3 974.1,187.7 975.1,188.2C976,188.7 976.9,189.1 977.8,189.6C978.7,190.1 979.7,190.5 980.6,191C981.5,191.5 982.4,191.9 983.3,192.4C984.3,192.9 985.2,193.4 986.1,193.8C987,194.3 988,194.8 988.9,195.3C989.8,195.7 990.7,196.2 991.7,196.7C992.6,197.1 993.5,197.6 994.5,198.1C995.4,198.5 996.3,199 997.3,199.5C998.2,199.9 999.1,200.4 1000.1,200.8C1001,201.2 1002,201.7 1002.9,202.1C1003.8,202.5 1004.8,202.9 1005.7,203.3C1006.7,203.7 1007.6,204.1 1008.6,204.4C1009.5,204.8 1010.4,205.1 1011.4,205.4C1012.3,205.8 1013.3,206.1 1014.2,206.3C1015.2,206.6 1016.1,206.8 1017.1,207C1018,207.3 1019,207.4 1019.9,207.6C1020.9,207.7 1021.9,207.9 1022.8,208C1023.8,208 1024.7,208.1 1025.7,208.1C1026.6,208.1 1027.6,208.1 1028.5,208.1C1029.5,208.1 1030.4,208 1031.4,207.9C1032.3,207.8 1033.3,207.7 1034.2,207.5C1035.2,207.4 1036.1,207.2 1037.1,207C1038,206.8 1039,206.6 1039.9,206.4C1040.8,206.1 1041.8,205.8 1042.7,205.6C1043.6,205.3 1044.6,205 1045.5,204.6C1046.4,204.3 1047.3,204 1048.2,203.6C1049.1,203.3 1050,202.9 1050.9,202.5C1051.8,202.1 1052.7,201.7 1053.6,201.3C1054.5,200.9 1055.4,200.5 1056.3,200C1057.2,199.6 1058,199.1 1058.9,198.6C1059.8,198.2 1060.6,197.7 1061.5,197.2C1062.4,196.7 1063.2,196.2 1064.1,195.6C1064.9,195.1 1065.8,194.6 1066.6,194C1067.4,193.5 1068.3,192.9 1069.1,192.4C1069.9,191.8 1070.8,191.2 1071.6,190.6C1072.4,190.1 1073.2,189.5 1074,188.9C1074.8,188.2 1075.6,187.6 1076.4,187C1077.2,186.4 1078,185.7 1078.8,185.1C1079.6,184.5 1080.4,183.8 1081.2,183.2C1082,182.5 1082.8,181.8 1083.5,181.2C1084.3,180.5 1085.1,179.8 1085.9,179.1C1086.6,178.5 1087.4,177.8 1088.2,177.1C1088.9,176.4 1089.7,175.7 1090.4,175C1091.2,174.3 1091.9,173.6 1092.7,172.9C1093.4,172.1 1094.2,171.4 1094.9,170.7C1095.6,170 1096.4,169.3 1097.1,168.5C1097.8,167.8 1098.5,167.1 1099.3,166.4C1100,165.6 1100.7,164.9 1101.4,164.2C1102.1,163.4 1102.9,162.7 1103.6,161.9C1104.3,161.2 1105,160.5 1105.7,159.7C1106.4,159 1107.1,158.3 1107.8,157.5C1108.5,156.8 1109.2,156 1109.9,155.3C1110.6,154.6 1111.2,153.8 1111.9,153.1C1112.6,152.3 1113.3,151.6 1114,150.8C1114.7,150.1 1115.3,149.3 1116,148.6C1116.7,147.8 1117.4,147.1 1118,146.3C1118.7,145.6 1119.4,144.8 1120,144.1C1120.7,143.3 1121.4,142.6 1122,141.8C1122.7,141.1 1123.3,140.3 1124,139.6C1124.7,138.8 1125.3,138.1 1126,137.3C1126.6,136.5 1127.3,135.8 1127.9,135C1128.6,134.3 1129.3,133.5 1129.9,132.8C1130.6,132 1131.2,131.2 1131.9,130.5C1132.5,129.7 1133.1,128.9 1133.8,128.2C1134.4,127.4 1135.1,126.6 1135.7,125.9C1136.4,125.1 1137,124.3 1137.7,123.6C1138.3,122.8 1138.9,122 1139.6,121.3C1140.2,120.5 1140.9,119.7 1141.5,119C1142.2,118.2 1142.8,117.4 1143.4,116.6C1144.1,115.9 1144.7,115.1 1145.4,114.3C1146,113.5 1146.6,112.8 1147.3,112C1147.9,111.2 1148.5,110.4 1149.2,109.6C1149.8,108.9 1150.4,108.1 1151.1,107.3C1151.7,106.5 1152.3,105.7 1152.9,105C1153.6,104.2 1154.2,103.4 1154.8,102.6C1155.5,101.8 1156.1,101 1156.7,100.2C1157.3,99.5 1157.9,98.7 1158.6,97.9C1159.2,97.1 1159.8,96.3 1160.4,95.5C1161,94.7 1161.6,93.9 1162.3,93.1C1162.9,92.3 1163.5,91.5 1164.1,90.8C1164.7,90 1165.3,89.2 1165.9,88.4C1166.5,87.6 1167.1,86.8 1167.7,86C1168.3,85.2 1168.9,84.4 1169.5,83.6C1170.1,82.8 1170.7,82 1171.3,81.2C1171.9,80.4 1172.5,79.6 1173.1,78.8C1173.7,78 1174.2,77.2 1174.8,76.4C1175.4,75.6 1176,74.7 1176.6,73.9C1177.2,73.1 1177.7,72.3 1178.3,71.5C1178.9,70.7 1179.5,69.9 1180,69.1C1180.6,68.3 1181.2,67.5 1181.8,66.7C1182.3,65.8 1182.9,65 1183.5,64.2C1184,63.4 1184.6,62.6 1185.2,61.8C1185.7,61 1186.3,60.1 1186.9,59.3C1187.4,58.5 1188,57.7 1188.6,56.9C1189.1,56.1 1189.7,55.2 1190.3,54.4C1190.8,53.6 1191.4,52.8 1191.9,51.9C1192.5,51.1 1193.1,50.3 1193.6,49.5C1194.2,48.7 1194.8,47.8 1195.3,47C1195.9,46.2 1196.4,45.4 1197,44.5C1197.6,43.7 1198.1,42.9 1198.7,42C1199.3,41.2 1199.8,40.4 1200.4,39.5C1201,38.7 1201.5,37.9 1202.1,37.1C1202.7,36.2 1203.2,35.4 1203.8,34.6C1204.4,33.7 1204.9,32.9 1205.5,32C1206.1,31.2 1206.7,30.4 1207.2,29.5C1207.8,28.7 1208.4,27.9 1209,27C1209.5,26.2 1210.1,25.3 1210.7,24.5C1211.3,23.7 1211.9,22.8 1212.4,22C1213,21.1 1213.6,20.3 1214.2,19.4C1214.8,18.6 1215.4,17.8 1216,16.9C1216.6,16.1 1217.2,15.2 1217.8,14.4C1218.4,13.5 1219,12.7 1219.6,11.8C1220.2,11 1220.8,10.1 1221.4,9.3C1222,8.4 1222.9,7.2 1223.2,6.7" stroke="#ee6a6a" style="mix-blend-mode:normal"/>
</g>
<rect x="709.8" y="10.0" width="565.6" height="376" fill="none" stroke="#4e4e4e" stroke-width="2.0"/>
<text x="701.8" y="317.4" text-anchor="end" class="tl">0e0</text>
<text x="701.8" y="242.2" text-anchor="end" class="tl">1e-3</text>
<text x="701.8" y="167" text-anchor="end" class="tl">2e-3</text>
<text x="701.8" y="91.8" text-anchor="end" class="tl">3e-3</text>
<text x="701.8" y="16.6" text-anchor="end" class="tl">4e-3</text>
<text x="804.8" y="410" text-anchor="middle" class="tl">1.4e-2</text>
<text x="909.1" y="410" text-anchor="middle" class="tl">1.6e-2</text>
<text x="1013.4" y="410" text-anchor="middle" class="tl">1.8e-2</text>
<text x="1117.7" y="410" text-anchor="middle" class="tl">2.0e-2</text>
<text x="1222" y="410" text-anchor="middle" class="tl">2.2e-2</text>
<text x="959.1" y="432" textLength="69" lengthAdjust="spacingAndGlyphs" class="at">Z' (Ohm)</text>
<text transform="translate(654.3,237) rotate(-90)" textLength="78" lengthAdjust="spacingAndGlyphs" class="at" style="font-size:15px">-Z'' (Ohm)</text>
<text x="916.6" y="65.3" textLength="151.4" lengthAdjust="spacingAndGlyphs" class="tt">50 Cycles</text>
<clipPath id="clipBL"><rect x="69.8" y="457.6" width="565.6" height="374.79999999999995"/></clipPath>
<line x1="69.8" y1="757.4" x2="635.4" y2="757.4" stroke="#4e4e4e" stroke-width="2.0"/>
<path d="M126.6 832.4v-10M126.6 457.6v10M126.6 753.4v8M236.2 832.4v-10M236.2 457.6v10M236.2 753.4v8M345.8 832.4v-10M345.8 457.6v10M345.8 753.4v8M455.3 832.4v-10M455.3 457.6v10M455.3 753.4v8M564.9 832.4v-10M564.9 457.6v10M564.9 753.4v8M181.4 832.4v-4M181.4 457.6v4M181.4 755.4v4M291 832.4v-4M291 457.6v4M291 755.4v4M400.5 832.4v-4M400.5 457.6v4M400.5 755.4v4M510.1 832.4v-4M510.1 457.6v4M510.1 755.4v4M619.7 832.4v-4M619.7 457.6v4M619.7 755.4v4M69.8 757.4h10M635.4 757.4h-10M69.8 682.5h10M635.4 682.5h-10M69.8 607.5h10M635.4 607.5h-10M69.8 532.6h10M635.4 532.6h-10M69.8 457.6h10M635.4 457.6h-10M69.8 794.9h4M635.4 794.9h-4M69.8 720h4M635.4 720h-4M69.8 645h4M635.4 645h-4M69.8 570h4M635.4 570h-4M69.8 495.1h4M635.4 495.1h-4" stroke="#3a3a3a" stroke-width="2" fill="none"/>
<g clip-path="url(#clipBL)" fill="none" stroke-width="2.4" stroke-linejoin="round" stroke-linecap="round">
<path d="M78.4,834.1C78.4,833.6 78.6,832.1 78.8,831.1C78.9,830.1 79,829.1 79.2,828.1C79.3,827.1 79.4,826.1 79.6,825.1C79.7,824.1 79.9,823.1 80,822.1C80.2,821.1 80.3,820.1 80.5,819.1C80.6,818.1 80.8,817.1 80.9,816.1C81.1,815.1 81.2,814.1 81.4,813.1C81.5,812.1 81.7,811.1 81.8,810.1C82,809.1 82.2,808.1 82.3,807.1C82.5,806.1 82.7,805.1 82.8,804.2C83,803.2 83.2,802.2 83.3,801.2C83.5,800.2 83.7,799.2 83.9,798.2C84.1,797.2 84.2,796.2 84.4,795.3C84.6,794.3 84.8,793.3 85,792.3C85.2,791.3 85.4,790.3 85.6,789.4C85.8,788.4 86,787.4 86.2,786.4C86.4,785.4 86.6,784.5 86.8,783.5C87,782.5 87.3,781.5 87.5,780.6C87.7,779.6 87.9,778.6 88.1,777.6C88.4,776.7 88.6,775.7 88.8,774.7C89.1,773.8 89.3,772.8 89.6,771.8C89.8,770.9 90.1,769.9 90.3,768.9C90.6,768 90.8,767 91.1,766C91.4,765.1 91.6,764.1 91.9,763.2C92.2,762.2 92.4,761.2 92.7,760.3C93,759.3 93.3,758.4 93.6,757.4C93.9,756.5 94.2,755.5 94.5,754.6C94.8,753.6 95.1,752.7 95.4,751.7C95.7,750.8 96,749.9 96.3,748.9C96.7,748 97,747 97.3,746.1C97.7,745.2 98,744.2 98.3,743.3C98.7,742.3 99,741.4 99.4,740.5C99.8,739.5 100.1,738.6 100.5,737.7C100.9,736.8 101.2,735.8 101.6,734.9C102,734 102.4,733.1 102.8,732.1C103.2,731.2 103.6,730.3 104,729.4C104.4,728.5 104.8,727.6 105.2,726.7C105.7,725.7 106.1,724.8 106.5,723.9C106.9,723 107.4,722.1 107.8,721.2C108.3,720.3 108.7,719.4 109.2,718.5C109.7,717.6 110.1,716.7 110.6,715.8C111.1,714.9 111.6,714 112.1,713.1C112.6,712.2 113.1,711.4 113.6,710.5C114.1,709.6 114.6,708.7 115.1,707.8C115.6,706.9 116.2,706.1 116.7,705.2C117.2,704.3 117.8,703.5 118.3,702.6C118.9,701.7 119.4,700.9 120,700C120.6,699.2 121.1,698.3 121.7,697.4C122.3,696.6 122.9,695.8 123.5,694.9C124,694.1 124.6,693.2 125.2,692.4C125.9,691.6 126.5,690.8 127.1,689.9C127.7,689.1 128.3,688.3 129,687.5C129.6,686.7 130.2,685.9 130.9,685.1C131.5,684.3 132.2,683.5 132.8,682.7C133.5,681.9 134.1,681.2 134.8,680.4C135.5,679.6 136.2,678.8 136.9,678.1C137.5,677.3 138.2,676.6 138.9,675.8C139.6,675.1 140.3,674.4 141,673.6C141.7,672.9 142.5,672.2 143.2,671.5C143.9,670.8 144.6,670 145.4,669.4C146.1,668.7 146.8,668 147.6,667.3C148.3,666.6 149.1,665.9 149.8,665.3C150.6,664.6 151.4,664 152.1,663.3C152.9,662.7 153.7,662 154.4,661.4C155.2,660.8 156,660.2 156.8,659.6C157.6,659 158.4,658.4 159.2,657.8C160,657.2 160.8,656.6 161.6,656C162.5,655.5 163.3,654.9 164.1,654.4C164.9,653.8 165.8,653.3 166.6,652.8C167.4,652.3 168.3,651.7 169.1,651.2C170,650.8 170.8,650.3 171.7,649.8C172.6,649.3 173.4,648.8 174.3,648.4C175.2,647.9 176,647.5 176.9,647.1C177.8,646.6 178.7,646.2 179.6,645.8C180.5,645.4 181.4,645 182.3,644.6C183.2,644.3 184.1,643.9 185,643.5C185.9,643.2 186.8,642.8 187.7,642.5C188.6,642.2 189.5,641.8 190.5,641.5C191.4,641.2 192.3,640.9 193.3,640.6C194.2,640.3 195.1,640.1 196.1,639.8C197,639.5 198,639.3 198.9,639.1C199.8,638.8 200.8,638.6 201.7,638.4C202.7,638.2 203.7,638 204.6,637.8C205.6,637.6 206.5,637.4 207.5,637.2C208.5,637.1 209.4,636.9 210.4,636.8C211.4,636.6 212.3,636.5 213.3,636.4C214.3,636.2 215.3,636.1 216.3,636C217.2,635.9 218.2,635.9 219.2,635.8C220.2,635.7 221.2,635.6 222.2,635.6C223.1,635.5 224.1,635.5 225.1,635.5C226.1,635.5 227.1,635.4 228.1,635.4C229.1,635.4 230.1,635.4 231.1,635.5C232.1,635.5 233.1,635.5 234.1,635.6C235.1,635.6 236,635.7 237,635.7C238,635.8 239,635.9 240,636C241,636.1 242,636.2 243,636.3C244,636.4 245,636.5 246,636.7C247,636.8 248,636.9 249,637.1C250,637.3 251,637.4 252,637.6C253,637.8 254,638 255,638.2C256,638.4 257,638.6 258,638.8C259,639 260,639.2 261,639.4C262,639.6 263,639.9 264,640.1C265,640.3 266,640.6 267,640.8C268,641.1 269,641.3 270,641.6C271,641.8 272,642.1 273,642.4C274,642.6 275,642.9 276,643.2C277,643.4 278,643.7 279,644C280,644.3 281,644.5 282,644.8C283,645.1 284,645.4 285,645.6C286,645.9 287,646.2 288,646.5C289,646.8 290,647.1 291,647.4C292,647.6 293,647.9 294,648.2C295,648.5 295.9,648.8 296.9,649.1C297.9,649.4 298.9,649.7 299.9,650C300.9,650.3 301.9,650.6 302.9,650.8C303.9,651.1 304.9,651.4 305.9,651.7C306.9,652 307.8,652.3 308.8,652.6C309.8,652.9 310.8,653.2 311.8,653.5C312.8,653.8 313.8,654 314.8,654.3C315.7,654.6 316.7,654.9 317.7,655.1C318.7,655.4 319.7,655.6 320.7,655.9C321.7,656.1 322.6,656.3 323.6,656.6C324.6,656.8 325.6,657 326.6,657.1C327.5,657.3 328.5,657.5 329.5,657.6C330.5,657.7 331.5,657.8 332.4,657.9C333.4,658 334.4,658.1 335.4,658.2C336.3,658.2 337.3,658.3 338.3,658.3C339.3,658.3 340.2,658.3 341.2,658.3C342.2,658.3 343.1,658.3 344.1,658.3C345.1,658.2 346,658.1 347,658.1C348,658 348.9,657.9 349.9,657.8C350.9,657.7 351.8,657.6 352.8,657.4C353.7,657.3 354.7,657.2 355.7,657C356.6,656.8 357.6,656.6 358.5,656.5C359.5,656.3 360.4,656.1 361.4,655.8C362.3,655.6 363.3,655.4 364.3,655.2C365.2,654.9 366.1,654.7 367.1,654.4C368,654.1 369,653.9 369.9,653.6C370.9,653.3 371.8,653 372.8,652.7C373.7,652.4 374.6,652.1 375.6,651.7C376.5,651.4 377.5,651.1 378.4,650.7C379.3,650.4 380.3,650 381.2,649.6C382.1,649.3 383,648.9 384,648.5C384.9,648.1 385.8,647.8 386.7,647.4C387.7,647 388.6,646.6 389.5,646.2C390.4,645.7 391.4,645.3 392.3,644.9C393.2,644.5 394.1,644.1 395,643.6C395.9,643.2 396.8,642.8 397.7,642.3C398.7,641.9 399.6,641.4 400.5,641C401.4,640.5 402.3,640.1 403.2,639.6C404.1,639.2 405,638.7 405.9,638.2C406.8,637.8 407.7,637.3 408.6,636.8C409.4,636.3 410.3,635.9 411.2,635.4C412.1,634.9 413,634.4 413.9,633.9C414.8,633.5 415.6,633 416.5,632.5C417.4,632 418.3,631.5 419.1,631C420,630.5 420.9,630 421.8,629.5C422.6,629 423.5,628.5 424.4,627.9C425.2,627.4 426.1,626.9 427,626.4C427.8,625.9 428.7,625.3 429.5,624.8C430.4,624.3 431.2,623.8 432.1,623.2C432.9,622.7 433.8,622.2 434.6,621.6C435.5,621.1 436.3,620.5 437.1,620C438,619.4 438.8,618.9 439.6,618.3C440.5,617.8 441.3,617.2 442.1,616.6C443,616.1 443.8,615.5 444.6,614.9C445.4,614.4 446.3,613.8 447.1,613.2C447.9,612.6 448.7,612 449.5,611.5C450.3,610.9 451.1,610.3 451.9,609.7C452.7,609.1 453.5,608.5 454.3,607.9C455.1,607.3 455.9,606.7 456.7,606.1C457.5,605.5 458.3,604.9 459.1,604.2C459.9,603.6 460.7,603 461.5,602.4C462.2,601.8 463,601.1 463.8,600.5C464.6,599.9 465.3,599.2 466.1,598.6C466.9,598 467.6,597.3 468.4,596.7C469.2,596 469.9,595.4 470.7,594.7C471.5,594.1 472.2,593.4 473,592.8C473.7,592.1 474.5,591.5 475.2,590.8C476,590.1 476.7,589.5 477.5,588.8C478.2,588.1 478.9,587.4 479.7,586.8C480.4,586.1 481.1,585.4 481.9,584.7C482.6,584 483.3,583.4 484.1,582.7C484.8,582 485.5,581.3 486.2,580.6C487,579.9 487.7,579.2 488.4,578.5C489.1,577.8 489.8,577.1 490.5,576.4C491.3,575.7 492,575 492.7,574.3C493.4,573.6 494.1,572.8 494.8,572.1C495.5,571.4 496.2,570.7 496.9,570C497.6,569.3 498.3,568.5 499,567.8C499.7,567.1 500.4,566.4 501.1,565.6C501.8,564.9 502.4,564.2 503.1,563.4C503.8,562.7 504.5,561.9 505.2,561.2C505.9,560.5 506.5,559.7 507.2,559C507.9,558.2 508.6,557.5 509.2,556.7C509.9,556 510.6,555.2 511.2,554.5C511.9,553.7 512.6,553 513.2,552.2C513.9,551.5 514.6,550.7 515.2,549.9C515.9,549.2 516.6,548.4 517.2,547.7C517.9,546.9 518.5,546.1 519.2,545.4C519.8,544.6 520.5,543.8 521.1,543.1C521.8,542.3 522.4,541.5 523.1,540.7C523.7,540 524.4,539.2 525,538.4C525.6,537.6 526.3,536.9 526.9,536.1C527.6,535.3 528.2,534.5 528.8,533.7C529.5,532.9 530.1,532.2 530.7,531.4C531.4,530.6 532,529.8 532.6,529C533.3,528.2 533.9,527.4 534.5,526.6C535.1,525.8 535.8,525 536.4,524.3C537,523.5 537.6,522.7 538.3,521.9C538.9,521.1 539.5,520.3 540.1,519.5C540.7,518.7 541.3,517.9 542,517.1C542.6,516.3 543.2,515.5 543.8,514.7C544.4,513.9 545,513.1 545.6,512.3C546.2,511.5 546.8,510.7 547.4,509.9C548,509 548.7,508.2 549.3,507.4C549.9,506.6 550.5,505.8 551.1,505C551.7,504.2 552.3,503.4 552.9,502.6C553.5,501.8 554.1,501 554.7,500.2C555.2,499.4 555.8,498.5 556.4,497.7C557,496.9 557.6,496.1 558.2,495.3C558.8,494.5 559.4,493.7 560,492.9C560.6,492 561.2,491.2 561.8,490.4C562.3,489.6 562.9,488.8 563.5,488C564.1,487.2 564.7,486.4 565.3,485.5C565.9,484.7 566.4,483.9 567,483.1C567.6,482.3 568.2,481.5 568.8,480.7C569.3,479.9 569.9,479 570.5,478.2C571.1,477.4 571.7,476.6 572.2,475.8C572.8,475 573.4,474.2 574,473.4C574.5,472.5 575.1,471.7 575.7,470.9C576.3,470.1 576.8,469.3 577.4,468.5C578,467.7 578.6,466.9 579.1,466.1C579.7,465.2 580.3,464.4 580.8,463.6C581.4,462.8 582,462 582.5,461.2C583.1,460.4 583.7,459.6 584.3,458.8C584.8,458 585.4,457.2 586,456.4C586.5,455.6 587.4,454.4 587.7,454" stroke="#6f6ff2" style="mix-blend-mode:multiply"/>
<path d="M143.1,834.2C143.2,833.7 143.4,832.1 143.5,831.1C143.6,830.1 143.7,829.1 143.9,828.1C144,827.1 144.1,826.1 144.2,825C144.4,824 144.5,823 144.6,822C144.8,821 144.9,820 145.1,819C145.2,818 145.3,817 145.5,816C145.6,815 145.8,814 145.9,813C146.1,812 146.2,811 146.4,810C146.5,809 146.7,808 146.8,807C147,806 147.1,805 147.3,804C147.5,803 147.6,802 147.8,801C148,800 148.1,799 148.3,798C148.5,797 148.7,796 148.8,795C149,794 149.2,793.1 149.4,792.1C149.6,791.1 149.8,790.1 150,789.1C150.2,788.1 150.4,787.1 150.6,786.2C150.8,785.2 151,784.2 151.2,783.2C151.4,782.2 151.6,781.3 151.8,780.3C152,779.3 152.2,778.3 152.5,777.4C152.7,776.4 152.9,775.4 153.1,774.5C153.4,773.5 153.6,772.5 153.8,771.6C154.1,770.6 154.3,769.6 154.6,768.7C154.8,767.7 155.1,766.7 155.3,765.8C155.6,764.8 155.9,763.9 156.1,762.9C156.4,761.9 156.7,761 157,760C157.2,759.1 157.5,758.1 157.8,757.2C158.1,756.2 158.4,755.3 158.7,754.3C159,753.4 159.3,752.4 159.6,751.5C159.9,750.6 160.2,749.6 160.5,748.7C160.9,747.7 161.2,746.8 161.5,745.9C161.8,744.9 162.2,744 162.5,743.1C162.9,742.1 163.2,741.2 163.6,740.3C163.9,739.3 164.3,738.4 164.6,737.5C165,736.6 165.4,735.6 165.8,734.7C166.1,733.8 166.5,732.9 166.9,732C167.3,731.1 167.7,730.1 168.1,729.2C168.5,728.3 168.9,727.4 169.4,726.5C169.8,725.6 170.2,724.7 170.6,723.8C171.1,722.9 171.5,722 171.9,721.1C172.4,720.2 172.8,719.3 173.3,718.4C173.8,717.5 174.2,716.6 174.7,715.7C175.2,714.8 175.7,714 176.2,713.1C176.6,712.2 177.1,711.3 177.6,710.4C178.1,709.6 178.7,708.7 179.2,707.8C179.7,706.9 180.2,706.1 180.8,705.2C181.3,704.3 181.8,703.5 182.4,702.6C182.9,701.8 183.5,700.9 184,700.1C184.6,699.2 185.2,698.4 185.7,697.5C186.3,696.7 186.9,695.8 187.5,695C188.1,694.2 188.7,693.4 189.3,692.5C189.9,691.7 190.5,690.9 191.1,690.1C191.7,689.3 192.3,688.5 193,687.7C193.6,686.9 194.2,686.1 194.9,685.3C195.5,684.5 196.2,683.7 196.8,682.9C197.5,682.2 198.2,681.4 198.8,680.6C199.5,679.9 200.2,679.1 200.9,678.4C201.6,677.6 202.2,676.9 202.9,676.2C203.6,675.4 204.3,674.7 205.1,674C205.8,673.2 206.5,672.5 207.2,671.8C207.9,671.1 208.7,670.4 209.4,669.7C210.1,669.1 210.9,668.4 211.6,667.7C212.4,667 213.1,666.4 213.9,665.7C214.7,665.1 215.4,664.4 216.2,663.8C217,663.1 217.8,662.5 218.6,661.9C219.3,661.3 220.1,660.7 220.9,660.1C221.7,659.5 222.6,658.9 223.4,658.3C224.2,657.7 225,657.1 225.8,656.6C226.7,656 227.5,655.5 228.3,654.9C229.2,654.4 230,653.9 230.9,653.3C231.7,652.8 232.6,652.3 233.4,651.8C234.3,651.3 235.2,650.8 236,650.4C236.9,649.9 237.8,649.4 238.7,649C239.6,648.5 240.5,648.1 241.4,647.7C242.3,647.2 243.2,646.8 244.1,646.4C245,646 245.9,645.6 246.8,645.3C247.7,644.9 248.7,644.5 249.6,644.1C250.5,643.8 251.4,643.4 252.4,643.1C253.3,642.8 254.3,642.5 255.2,642.2C256.2,641.8 257.1,641.5 258.1,641.3C259,641 260,640.7 260.9,640.4C261.9,640.2 262.9,639.9 263.8,639.7C264.8,639.5 265.8,639.2 266.7,639C267.7,638.8 268.7,638.6 269.7,638.4C270.7,638.2 271.6,638.1 272.6,637.9C273.6,637.7 274.6,637.6 275.6,637.4C276.6,637.3 277.6,637.2 278.5,637.1C279.5,636.9 280.5,636.8 281.5,636.8C282.5,636.7 283.5,636.6 284.5,636.5C285.5,636.5 286.5,636.4 287.5,636.4C288.5,636.3 289.5,636.3 290.5,636.3C291.5,636.3 292.5,636.3 293.5,636.3C294.5,636.3 295.5,636.3 296.5,636.3C297.5,636.4 298.5,636.4 299.5,636.5C300.5,636.5 301.5,636.6 302.5,636.7C303.5,636.8 304.5,636.9 305.5,637C306.5,637.1 307.5,637.2 308.5,637.4C309.5,637.5 310.5,637.6 311.5,637.8C312.4,638 313.4,638.1 314.4,638.3C315.4,638.5 316.4,638.7 317.4,638.9C318.4,639.1 319.3,639.4 320.3,639.6C321.3,639.8 322.3,640.1 323.2,640.3C324.2,640.6 325.2,640.9 326.2,641.2C327.1,641.5 328.1,641.8 329,642.1C330,642.4 331,642.7 331.9,643.1C332.9,643.4 333.8,643.7 334.8,644.1C335.7,644.4 336.7,644.8 337.6,645.2C338.6,645.5 339.5,645.9 340.5,646.3C341.4,646.6 342.3,647 343.3,647.4C344.2,647.8 345.2,648.1 346.1,648.5C347,648.9 348,649.3 348.9,649.7C349.9,650.1 350.8,650.4 351.8,650.8C352.7,651.2 353.6,651.6 354.6,651.9C355.5,652.3 356.5,652.6 357.4,653C358.4,653.4 359.3,653.7 360.3,654C361.2,654.4 362.2,654.7 363.1,655C364.1,655.4 365,655.7 366,656C366.9,656.3 367.9,656.6 368.9,656.8C369.8,657.1 370.8,657.4 371.8,657.6C372.7,657.8 373.7,658.1 374.7,658.3C375.7,658.5 376.7,658.7 377.6,658.8C378.6,659 379.6,659.2 380.6,659.3C381.6,659.4 382.6,659.6 383.6,659.7C384.6,659.8 385.6,659.8 386.6,659.9C387.6,660 388.6,660 389.6,660.1C390.6,660.1 391.6,660.1 392.6,660.1C393.6,660.1 394.6,660.1 395.7,660.1C396.7,660 397.7,660 398.7,660C399.7,659.9 400.7,659.8 401.7,659.8C402.7,659.7 403.7,659.6 404.7,659.5C405.7,659.4 406.6,659.3 407.6,659.2C408.6,659 409.6,658.9 410.6,658.7C411.6,658.6 412.5,658.4 413.5,658.3C414.5,658.1 415.5,657.9 416.4,657.7C417.4,657.5 418.4,657.3 419.3,657.1C420.3,656.9 421.3,656.7 422.2,656.5C423.2,656.2 424.1,656 425.1,655.7C426,655.5 427,655.2 427.9,654.9C428.9,654.7 429.8,654.4 430.8,654.1C431.7,653.8 432.6,653.5 433.6,653.2C434.5,652.9 435.4,652.6 436.4,652.2C437.3,651.9 438.2,651.6 439.1,651.2C440.1,650.9 441,650.5 441.9,650.1C442.8,649.8 443.7,649.4 444.6,649C445.6,648.6 446.5,648.2 447.4,647.8C448.3,647.4 449.2,647 450.1,646.6C451,646.2 451.9,645.8 452.8,645.3C453.7,644.9 454.5,644.5 455.4,644C456.3,643.6 457.2,643.1 458.1,642.7C459,642.2 459.8,641.7 460.7,641.2C461.6,640.8 462.5,640.3 463.3,639.8C464.2,639.3 465.1,638.8 465.9,638.3C466.8,637.8 467.7,637.3 468.5,636.8C469.4,636.2 470.2,635.7 471.1,635.2C472,634.7 472.8,634.1 473.6,633.6C474.5,633 475.3,632.5 476.2,631.9C477,631.4 477.9,630.8 478.7,630.2C479.5,629.7 480.4,629.1 481.2,628.5C482,627.9 482.9,627.3 483.7,626.8C484.5,626.2 485.3,625.6 486.2,625C487,624.4 487.8,623.8 488.6,623.2C489.4,622.6 490.2,621.9 491.1,621.3C491.9,620.7 492.7,620.1 493.5,619.4C494.3,618.8 495.1,618.2 495.9,617.5C496.7,616.9 497.5,616.3 498.3,615.6C499.1,615 499.9,614.3 500.6,613.7C501.4,613 502.2,612.4 503,611.7C503.8,611.1 504.6,610.4 505.3,609.7C506.1,609.1 506.9,608.4 507.7,607.7C508.4,607 509.2,606.4 510,605.7C510.7,605 511.5,604.3 512.3,603.6C513,603 513.8,602.3 514.5,601.6C515.3,600.9 516.1,600.2 516.8,599.5C517.6,598.8 518.3,598.1 519.1,597.4C519.8,596.7 520.5,596 521.3,595.3C522,594.6 522.8,593.9 523.5,593.2C524.2,592.5 525,591.8 525.7,591.1C526.4,590.4 527.2,589.7 527.9,589C528.6,588.2 529.3,587.5 530.1,586.8C530.8,586.1 531.5,585.4 532.2,584.7C532.9,584 533.6,583.3 534.4,582.5C535.1,581.8 535.8,581.1 536.5,580.4C537.2,579.7 537.9,579 538.6,578.2C539.3,577.5 540,576.8 540.7,576.1C541.4,575.3 542.1,574.6 542.8,573.9C543.5,573.2 544.2,572.5 544.8,571.7C545.5,571 546.2,570.3 546.9,569.6C547.6,568.8 548.3,568.1 548.9,567.4C549.6,566.6 550.3,565.9 551,565.2C551.7,564.5 552.3,563.7 553,563C553.7,562.3 554.3,561.5 555,560.8C555.7,560.1 556.3,559.3 557,558.6C557.7,557.8 558.3,557.1 559,556.4C559.7,555.6 560.3,554.9 561,554.1C561.6,553.4 562.3,552.7 562.9,551.9C563.6,551.2 564.2,550.4 564.9,549.7C565.5,548.9 566.2,548.2 566.8,547.5C567.5,546.7 568.1,546 568.8,545.2C569.4,544.5 570.1,543.7 570.7,543C571.3,542.2 572,541.5 572.6,540.7C573.2,539.9 573.9,539.2 574.5,538.4C575.1,537.7 575.8,536.9 576.4,536.2C577,535.4 577.7,534.6 578.3,533.9C578.9,533.1 579.6,532.4 580.2,531.6C580.8,530.8 581.4,530.1 582.1,529.3C582.7,528.6 583.3,527.8 583.9,527C584.5,526.3 585.2,525.5 585.8,524.7C586.4,523.9 587,523.2 587.6,522.4C588.3,521.6 588.9,520.9 589.5,520.1C590.1,519.3 590.7,518.5 591.3,517.8C591.9,517 592.5,516.2 593.2,515.4C593.8,514.6 594.4,513.9 595,513.1C595.6,512.3 596.2,511.5 596.8,510.7C597.4,510 598,509.2 598.6,508.4C599.2,507.6 599.8,506.8 600.4,506C601,505.2 601.6,504.4 602.2,503.7C602.8,502.9 603.4,502.1 604.1,501.3C604.7,500.5 605.3,499.7 605.9,498.9C606.5,498.1 607,497.3 607.6,496.5C608.2,495.7 608.8,494.9 609.4,494.1C610,493.3 610.6,492.5 611.2,491.7C611.8,490.9 612.4,490.1 613,489.3C613.6,488.5 614.2,487.7 614.8,486.9C615.4,486 616,485.2 616.6,484.4C617.2,483.6 617.8,482.8 618.4,482C619,481.2 619.6,480.4 620.1,479.5C620.7,478.7 621.3,477.9 621.9,477.1C622.5,476.3 623.1,475.4 623.7,474.6C624.3,473.8 624.9,473 625.5,472.1C626.1,471.3 626.7,470.5 627.3,469.7C627.9,468.8 628.4,468 629,467.2C629.6,466.3 630.2,465.5 630.8,464.7C631.4,463.8 632,463 632.6,462.2C633.2,461.3 633.8,460.5 634.4,459.7C635,458.8 635.6,458 636.1,457.1C636.7,456.3 637.6,455 637.9,454.6" stroke="#72ec72" style="mix-blend-mode:multiply"/>
<path d="M127,834.1C127,833.9 127.4,831.6 127.4,831C127.5,830.5 127.8,828.5 127.9,828C127.9,827.5 128.2,825.5 128.3,825C128.4,824.4 128.6,822.4 128.7,821.9C128.8,821.4 129.1,819.4 129.1,818.9C129.2,818.4 129.5,816.4 129.6,815.9C129.6,815.4 129.9,813.4 130,812.9C130,812.4 130.3,810.4 130.4,809.9C130.5,809.4 130.8,807.4 130.8,806.9C130.9,806.4 131.2,804.4 131.3,803.9C131.4,803.4 131.7,801.4 131.7,800.9C131.8,800.4 132.1,798.4 132.2,797.9C132.3,797.5 132.6,795.5 132.7,795C132.7,794.5 133.1,792.5 133.2,792C133.2,791.5 133.6,789.6 133.7,789.1C133.8,788.6 134.1,786.6 134.2,786.2C134.3,785.7 134.7,783.7 134.8,783.2C134.8,782.7 135.2,780.8 135.3,780.3C135.4,779.8 135.8,777.9 135.9,777.4C136,776.9 136.4,775 136.6,774.5C136.7,774 137.1,772.1 137.2,771.6C137.3,771.1 137.8,769.2 137.9,768.7C138,768.2 138.5,766.3 138.6,765.8C138.7,765.3 139.2,763.4 139.4,762.9C139.5,762.4 140,760.5 140.2,760C140.3,759.6 140.8,757.6 141,757.2C141.1,756.7 141.7,754.8 141.8,754.3C142,753.8 142.6,751.9 142.7,751.4C142.9,751 143.5,749.1 143.7,748.6C143.8,748.1 144.5,746.2 144.6,745.7C144.8,745.3 145.5,743.4 145.6,742.9C145.8,742.4 146.5,740.5 146.7,740.1C146.9,739.6 147.6,737.7 147.8,737.2C148,736.8 148.8,734.9 148.9,734.4C149.1,733.9 149.9,732.1 150.1,731.6C150.3,731.1 151.2,729.3 151.4,728.8C151.6,728.3 152.4,726.5 152.6,726C152.9,725.6 153.7,723.7 154,723.3C154.2,722.8 155.1,721 155.3,720.5C155.5,720.1 156.5,718.2 156.7,717.8C157,717.3 157.9,715.5 158.2,715.1C158.4,714.6 159.4,712.8 159.7,712.4C159.9,711.9 160.9,710.2 161.2,709.7C161.4,709.3 162.5,707.5 162.8,707.1C163,706.7 164.1,704.9 164.4,704.5C164.7,704.1 165.8,702.4 166,701.9C166.3,701.5 167.5,699.8 167.8,699.4C168,699 169.2,697.3 169.5,696.9C169.8,696.5 171,694.8 171.3,694.4C171.6,694 172.8,692.4 173.2,692C173.5,691.6 174.7,690 175,689.6C175.4,689.2 176.7,687.6 177,687.2C177.3,686.8 178.6,685.3 179,684.9C179.3,684.5 180.6,683 181,682.6C181.3,682.2 182.7,680.8 183.1,680.4C183.4,680 184.8,678.6 185.2,678.2C185.5,677.8 187,676.4 187.3,676.1C187.7,675.7 189.2,674.3 189.5,674C189.9,673.6 191.4,672.3 191.8,671.9C192.2,671.6 193.7,670.3 194.1,670C194.4,669.6 196,668.4 196.4,668C196.8,667.7 198.4,666.5 198.8,666.2C199.2,665.8 200.8,664.6 201.2,664.3C201.6,664 203.2,662.9 203.6,662.6C204,662.3 205.7,661.1 206.1,660.9C206.5,660.6 208.2,659.5 208.6,659.2C209,658.9 210.7,657.9 211.1,657.6C211.5,657.3 213.3,656.3 213.7,656.1C214.1,655.8 215.9,654.8 216.3,654.6C216.7,654.4 218.5,653.4 218.9,653.2C219.4,653 221.1,652.1 221.6,651.8C222,651.6 223.8,650.8 224.3,650.6C224.7,650.4 226.5,649.5 227,649.3C227.4,649.2 229.3,648.4 229.7,648.2C230.2,648 232,647.3 232.5,647.1C233,646.9 234.8,646.3 235.3,646.1C235.7,645.9 237.6,645.3 238.1,645.2C238.6,645 240.4,644.4 240.9,644.3C241.4,644.1 243.3,643.6 243.8,643.5C244.2,643.4 246.1,642.9 246.6,642.8C247.1,642.6 249,642.2 249.5,642.1C250,642 251.9,641.6 252.4,641.5C252.9,641.4 254.8,641.1 255.3,641C255.8,641 257.7,640.7 258.2,640.6C258.7,640.5 260.7,640.3 261.2,640.3C261.7,640.2 263.6,640 264.1,640C264.6,640 266.6,639.8 267.1,639.8C267.6,639.8 269.5,639.7 270,639.7C270.5,639.7 272.5,639.7 273,639.7C273.5,639.7 275.5,639.7 276,639.8C276.5,639.8 278.5,639.9 279,639.9C279.5,639.9 281.5,640.1 282,640.2C282.5,640.2 284.4,640.4 284.9,640.5C285.4,640.5 287.4,640.8 287.9,640.9C288.4,641 290.4,641.3 290.9,641.4C291.4,641.5 293.4,641.9 293.9,642C294.4,642.1 296.4,642.5 296.9,642.7C297.4,642.8 299.4,643.3 299.9,643.4C300.4,643.5 302.4,644.1 302.9,644.2C303.4,644.4 305.4,644.9 305.9,645.1C306.4,645.2 308.4,645.8 308.9,646C309.4,646.1 311.4,646.8 311.9,646.9C312.4,647.1 314.4,647.7 314.8,647.9C315.3,648.1 317.3,648.7 317.8,648.9C318.3,649 320.3,649.7 320.8,649.9C321.3,650 323.3,650.7 323.8,650.9C324.3,651 326.3,651.7 326.8,651.8C327.3,652 329.3,652.6 329.7,652.8C330.2,653 332.2,653.6 332.7,653.7C333.2,653.9 335.2,654.5 335.7,654.6C336.2,654.7 338.2,655.3 338.7,655.4C339.2,655.6 341.1,656.1 341.6,656.2C342.1,656.3 344.1,656.8 344.6,656.9C345.1,657 347.1,657.5 347.6,657.6C348,657.7 350,658 350.5,658.1C351,658.2 353,658.5 353.5,658.6C354,658.7 355.9,658.9 356.4,659C356.9,659 358.9,659.2 359.4,659.3C359.8,659.3 361.8,659.5 362.3,659.5C362.8,659.5 364.7,659.6 365.2,659.7C365.7,659.7 367.7,659.7 368.2,659.7C368.7,659.7 370.6,659.7 371.1,659.7C371.6,659.6 373.5,659.6 374,659.5C374.5,659.5 376.5,659.4 377,659.3C377.4,659.3 379.4,659.1 379.9,659C380.4,658.9 382.3,658.7 382.8,658.6C383.3,658.5 385.2,658.2 385.7,658.2C386.2,658.1 388.1,657.7 388.6,657.6C389.1,657.5 391,657.1 391.5,657C392,656.9 393.9,656.5 394.4,656.4C394.9,656.2 396.8,655.8 397.3,655.6C397.8,655.5 399.7,655 400.2,654.8C400.6,654.7 402.6,654.1 403,654C403.5,653.9 405.4,653.3 405.9,653.1C406.4,653 408.3,652.3 408.8,652.2C409.2,652 411.1,651.4 411.6,651.2C412.1,651 414,650.4 414.5,650.2C415,650 416.8,649.3 417.3,649.1C417.8,649 419.7,648.2 420.2,648.1C420.6,647.9 422.5,647.1 423,646.9C423.5,646.7 425.3,646 425.8,645.8C426.3,645.6 428.1,644.8 428.6,644.6C429.1,644.4 430.9,643.6 431.4,643.4C431.9,643.1 433.7,642.3 434.2,642.1C434.7,641.9 436.5,641 437,640.8C437.4,640.6 439.3,639.7 439.7,639.5C440.2,639.2 442,638.3 442.5,638.1C442.9,637.9 444.7,636.9 445.2,636.7C445.6,636.5 447.4,635.5 447.9,635.3C448.3,635 450.1,634 450.6,633.8C451,633.6 452.8,632.6 453.2,632.3C453.7,632.1 455.4,631 455.9,630.8C456.3,630.5 458.1,629.5 458.5,629.2C458.9,629 460.7,627.9 461.1,627.6C461.5,627.4 463.3,626.3 463.7,626C464.1,625.8 465.8,624.7 466.2,624.4C466.7,624.1 468.3,623 468.8,622.7C469.2,622.4 470.9,621.3 471.3,621C471.7,620.7 473.3,619.6 473.7,619.3C474.2,619 475.8,617.8 476.2,617.5C476.6,617.2 478.2,616 478.6,615.7C479,615.4 480.6,614.2 481,613.9C481.4,613.6 483,612.4 483.4,612.1C483.7,611.8 485.3,610.5 485.7,610.2C486.1,609.9 487.6,608.6 488,608.3C488.4,608 489.9,606.7 490.2,606.4C490.6,606.1 492.1,604.8 492.5,604.5C492.8,604.1 493.4,603.4 494.6,602.2C495.8,601 505.4,591.1 507,589.7C508.6,588.4 512.2,587 513.2,586C514.2,585 518.3,578.5 519.4,577.3C520.5,576.1 526,572.1 526.9,571.1C527.8,570.1 529.1,566.3 530,565.5C530.9,564.7 536.4,562.8 537.2,561.9C538,561 539,555.6 539.7,554.4C540.4,553.2 544.3,548.5 545.9,547C547.5,545.5 556.3,539.3 558.4,537C560.5,534.7 569,522 570.8,519.6C572.6,517.2 578.3,509.7 579.5,508.4C580.7,507.1 584,504.5 585,503.5C586,502.5 590.7,498.1 591.8,496.7C592.9,495.3 597.5,489 598.6,487.3C599.7,485.6 604.4,477.9 605.3,476.4C606.2,474.9 608.8,470.6 609.4,469.6C610,468.6 612.2,465.3 612.5,464.9" stroke="#ee78ee" style="mix-blend-mode:multiply"/>
<path d="M77.6,833.5C77.6,833 77.9,831.6 78,830.6C78.2,829.7 78.3,828.7 78.4,827.8C78.6,826.8 78.7,825.9 78.9,824.9C79,824 79.2,823 79.3,822C79.5,821.1 79.7,820.1 79.8,819.2C80,818.2 80.1,817.2 80.3,816.3C80.5,815.3 80.6,814.3 80.8,813.3C80.9,812.4 81.1,811.4 81.3,810.4C81.5,809.5 81.6,808.5 81.8,807.5C82,806.5 82.2,805.5 82.3,804.6C82.5,803.6 82.7,802.6 82.9,801.6C83.1,800.6 83.3,799.7 83.4,798.7C83.6,797.7 83.8,796.7 84,795.7C84.2,794.7 84.4,793.8 84.6,792.8C84.8,791.8 85,790.8 85.2,789.8C85.5,788.8 85.7,787.8 85.9,786.8C86.1,785.9 86.3,784.9 86.5,783.9C86.8,782.9 87,781.9 87.2,780.9C87.5,779.9 87.7,778.9 87.9,778C88.2,777 88.4,776 88.6,775C88.9,774 89.1,773 89.4,772C89.6,771.1 89.9,770.1 90.2,769.1C90.4,768.1 90.7,767.1 91,766.1C91.2,765.2 91.5,764.2 91.8,763.2C92.1,762.2 92.3,761.2 92.6,760.3C92.9,759.3 93.2,758.3 93.5,757.3C93.8,756.4 94.1,755.4 94.4,754.4C94.7,753.4 95,752.5 95.3,751.5C95.7,750.5 96,749.6 96.3,748.6C96.6,747.6 97,746.7 97.3,745.7C97.6,744.7 98,743.8 98.3,742.8C98.7,741.9 99,740.9 99.4,740C99.7,739 100.1,738.1 100.5,737.1C100.8,736.2 101.2,735.2 101.6,734.3C102,733.3 102.4,732.4 102.8,731.5C103.1,730.5 103.5,729.6 103.9,728.6C104.3,727.7 104.8,726.8 105.2,725.9C105.6,724.9 106,724 106.4,723.1C106.9,722.2 107.3,721.3 107.7,720.3C108.2,719.4 108.6,718.5 109.1,717.6C109.5,716.7 110,715.8 110.5,714.9C110.9,714 111.4,713.1 111.9,712.2C112.4,711.3 112.9,710.4 113.4,709.6C113.8,708.7 114.3,707.8 114.9,706.9C115.4,706 115.9,705.2 116.4,704.3C116.9,703.4 117.4,702.6 118,701.7C118.5,700.9 119,700 119.6,699.2C120.1,698.3 120.7,697.5 121.2,696.6C121.8,695.8 122.4,695 122.9,694.1C123.5,693.3 124.1,692.5 124.7,691.7C125.2,690.8 125.8,690 126.4,689.2C127,688.4 127.6,687.6 128.2,686.8C128.8,686 129.4,685.2 130,684.4C130.7,683.6 131.3,682.8 131.9,682.1C132.5,681.3 133.2,680.5 133.8,679.8C134.5,679 135.1,678.2 135.8,677.5C136.4,676.7 137.1,676 137.7,675.2C138.4,674.5 139.1,673.8 139.8,673C140.4,672.3 141.1,671.6 141.8,670.9C142.5,670.2 143.2,669.5 143.9,668.8C144.6,668.1 145.3,667.4 146,666.7C146.7,666 147.5,665.3 148.2,664.6C148.9,664 149.7,663.3 150.4,662.6C151.2,662 151.9,661.3 152.7,660.7C153.4,660 154.2,659.4 155,658.7C155.7,658.1 156.5,657.5 157.3,656.9C158.1,656.3 158.9,655.6 159.7,655C160.5,654.4 161.3,653.9 162.1,653.3C162.9,652.7 163.7,652.1 164.6,651.5C165.4,651 166.2,650.4 167.1,649.9C167.9,649.3 168.8,648.8 169.6,648.2C170.5,647.7 171.4,647.2 172.2,646.6C173.1,646.1 174,645.6 174.9,645.1C175.7,644.6 176.6,644.1 177.5,643.7C178.4,643.2 179.3,642.7 180.2,642.3C181.1,641.8 182,641.4 183,640.9C183.9,640.5 184.8,640.1 185.7,639.6C186.6,639.2 187.6,638.8 188.5,638.4C189.4,638 190.4,637.6 191.3,637.3C192.2,636.9 193.2,636.5 194.1,636.2C195.1,635.8 196,635.5 197,635.2C198,634.9 198.9,634.6 199.9,634.3C200.8,634 201.8,633.7 202.8,633.4C203.7,633.1 204.7,632.9 205.7,632.6C206.7,632.4 207.6,632.1 208.6,631.9C209.6,631.7 210.6,631.5 211.5,631.3C212.5,631.1 213.5,630.9 214.5,630.7C215.5,630.6 216.5,630.4 217.5,630.3C218.4,630.2 219.4,630 220.4,629.9C221.4,629.8 222.4,629.7 223.4,629.6C224.4,629.6 225.4,629.5 226.4,629.4C227.4,629.4 228.4,629.4 229.3,629.3C230.3,629.3 231.3,629.3 232.3,629.3C233.3,629.4 234.3,629.4 235.3,629.4C236.3,629.5 237.3,629.5 238.3,629.6C239.3,629.7 240.2,629.8 241.2,629.9C242.2,630 243.2,630.2 244.2,630.3C245.2,630.4 246.2,630.6 247.2,630.8C248.1,630.9 249.1,631.1 250.1,631.3C251.1,631.5 252.1,631.7 253,631.9C254,632.2 255,632.4 256,632.6C257,632.9 257.9,633.2 258.9,633.4C259.9,633.7 260.9,634 261.8,634.3C262.8,634.6 263.8,634.9 264.7,635.2C265.7,635.5 266.7,635.8 267.7,636.1C268.6,636.4 269.6,636.8 270.5,637.1C271.5,637.5 272.5,637.8 273.4,638.2C274.4,638.5 275.4,638.9 276.3,639.3C277.3,639.7 278.2,640 279.2,640.4C280.1,640.8 281.1,641.2 282,641.6C283,642 283.9,642.4 284.9,642.8C285.8,643.2 286.8,643.6 287.7,644C288.7,644.4 289.6,644.8 290.6,645.2C291.5,645.6 292.5,646.1 293.4,646.5C294.4,646.9 295.3,647.3 296.2,647.7C297.2,648.2 298.1,648.6 299.1,649C300,649.4 301,649.9 301.9,650.3C302.8,650.7 303.8,651.1 304.7,651.5C305.7,652 306.6,652.4 307.6,652.8C308.5,653.2 309.4,653.6 310.4,654C311.3,654.4 312.3,654.9 313.2,655.3C314.1,655.7 315.1,656.1 316,656.5C317,656.8 317.9,657.2 318.9,657.6C319.8,658 320.8,658.4 321.7,658.8C322.6,659.1 323.6,659.5 324.5,659.9C325.5,660.2 326.4,660.6 327.4,660.9C328.3,661.3 329.3,661.6 330.2,661.9C331.2,662.3 332.1,662.6 333.1,662.9C334,663.2 335,663.5 335.9,663.7C336.9,664 337.8,664.3 338.8,664.5C339.7,664.8 340.7,665 341.6,665.2C342.6,665.4 343.5,665.5 344.5,665.7C345.4,665.8 346.4,666 347.3,666.1C348.3,666.2 349.2,666.2 350.2,666.3C351.1,666.3 352,666.3 353,666.3C353.9,666.3 354.9,666.2 355.8,666.1C356.7,666 357.6,665.9 358.6,665.8C359.5,665.6 360.4,665.4 361.3,665.2C362.3,665 363.2,664.7 364.1,664.5C365,664.2 365.9,663.9 366.8,663.6C367.7,663.2 368.6,662.9 369.5,662.5C370.4,662.1 371.3,661.7 372.2,661.3C373.1,660.8 374,660.4 374.9,659.9C375.7,659.5 376.6,659 377.5,658.5C378.3,658 379.2,657.4 380.1,656.9C380.9,656.4 381.8,655.8 382.6,655.2C383.5,654.7 384.3,654.1 385.1,653.5C386,652.9 386.8,652.3 387.6,651.6C388.5,651 389.3,650.4 390.1,649.7C390.9,649.1 391.7,648.4 392.6,647.8C393.4,647.1 394.2,646.4 395,645.8C395.8,645.1 396.6,644.4 397.4,643.7C398.2,643 398.9,642.4 399.7,641.7C400.5,641 401.3,640.3 402.1,639.6C402.9,638.9 403.6,638.2 404.4,637.5C405.2,636.8 405.9,636.1 406.7,635.4C407.5,634.7 408.2,634 409,633.3C409.8,632.6 410.5,631.9 411.3,631.2C412,630.5 412.8,629.9 413.5,629.2C414.3,628.5 415,627.8 415.8,627.1C416.5,626.4 417.2,625.7 418,625C418.7,624.3 419.5,623.6 420.2,622.9C420.9,622.2 421.7,621.5 422.4,620.9C423.1,620.2 423.8,619.5 424.6,618.8C425.3,618.1 426,617.4 426.7,616.7C427.4,616 428.2,615.3 428.9,614.6C429.6,613.9 430.3,613.2 431,612.5C431.7,611.8 432.4,611.1 433.1,610.4C433.8,609.7 434.5,609 435.2,608.3C435.9,607.6 436.6,606.9 437.3,606.2C438,605.5 438.7,604.8 439.4,604.1C440.1,603.4 440.8,602.7 441.5,602C442.2,601.3 442.9,600.6 443.6,599.9C444.3,599.2 445,598.4 445.6,597.7C446.3,597 447,596.3 447.7,595.6C448.4,594.9 449.1,594.2 449.8,593.4C450.4,592.7 451.1,592 451.8,591.3C452.5,590.6 453.1,589.8 453.8,589.1C454.5,588.4 455.2,587.7 455.9,586.9C456.5,586.2 457.2,585.5 457.9,584.7C458.6,584 459.2,583.3 459.9,582.5C460.6,581.8 461.2,581 461.9,580.3C462.6,579.5 463.3,578.8 463.9,578.1C464.6,577.3 465.3,576.6 465.9,575.8C466.6,575.1 467.3,574.3 467.9,573.5C468.6,572.8 469.3,572 469.9,571.3C470.6,570.5 471.2,569.8 471.9,569C472.6,568.2 473.2,567.5 473.9,566.7C474.5,565.9 475.2,565.2 475.8,564.4C476.5,563.6 477.2,562.9 477.8,562.1C478.5,561.3 479.1,560.5 479.8,559.8C480.4,559 481.1,558.2 481.7,557.4C482.4,556.6 483,555.9 483.6,555.1C484.3,554.3 484.9,553.5 485.6,552.7C486.2,551.9 486.9,551.2 487.5,550.4C488.1,549.6 488.8,548.8 489.4,548C490,547.2 490.7,546.4 491.3,545.6C491.9,544.8 492.6,544 493.2,543.2C493.8,542.4 494.4,541.6 495.1,540.8C495.7,540 496.3,539.2 496.9,538.4C497.5,537.6 498.2,536.8 498.8,536C499.4,535.2 500,534.4 500.6,533.6C501.2,532.8 501.8,532 502.5,531.2C503.1,530.4 503.7,529.5 504.3,528.7C504.9,527.9 505.5,527.1 506.1,526.3C506.7,525.5 507.3,524.7 507.9,523.8C508.5,523 509.1,522.2 509.7,521.4C510.2,520.6 510.8,519.8 511.4,518.9C512,518.1 512.6,517.3 513.2,516.5C513.8,515.7 514.3,514.8 514.9,514C515.5,513.2 516.1,512.4 516.6,511.5C517.2,510.7 517.8,509.9 518.3,509.1C518.9,508.2 519.5,507.4 520,506.6C520.6,505.7 521.2,504.9 521.7,504.1C522.3,503.3 522.8,502.4 523.4,501.6C523.9,500.8 524.5,499.9 525,499.1C525.6,498.3 526.1,497.4 526.7,496.6C527.2,495.8 527.7,494.9 528.3,494.1C528.8,493.3 529.4,492.4 529.9,491.6C530.4,490.8 531,489.9 531.5,489.1C532.1,488.2 532.6,487.4 533.1,486.6C533.7,485.7 534.2,484.9 534.7,484.1C535.3,483.2 535.8,482.4 536.4,481.5C536.9,480.7 537.4,479.9 538,479C538.5,478.2 539.1,477.3 539.6,476.5C540.1,475.7 540.7,474.8 541.2,474C541.8,473.1 542.3,472.3 542.9,471.5C543.4,470.6 544,469.8 544.5,468.9C545.1,468.1 545.7,467.3 546.2,466.4C546.8,465.6 547.3,464.7 547.9,463.9C548.5,463.1 549,462.2 549.6,461.4C550.2,460.5 550.8,459.7 551.4,458.9C551.9,458 552.5,457.2 553.1,456.3C553.7,455.5 554.6,454.2 554.9,453.8" stroke="#ee6a6a" style="mix-blend-mode:normal"/>
</g>
<rect x="69.8" y="457.6" width="565.6" height="374.8" fill="none" stroke="#4e4e4e" stroke-width="2.0"/>
<text x="61.8" y="764" text-anchor="end" class="tl">0e0</text>
<text x="61.8" y="689.1" text-anchor="end" class="tl">1e-3</text>
<text x="61.8" y="614.1" text-anchor="end" class="tl">2e-3</text>
<text x="61.8" y="539.2" text-anchor="end" class="tl">3e-3</text>
<text x="61.8" y="464.2" text-anchor="end" class="tl">4e-3</text>
<text x="126.6" y="856.4" text-anchor="middle" class="tl">1.4e-2</text>
<text x="236.2" y="856.4" text-anchor="middle" class="tl">1.6e-2</text>
<text x="345.8" y="856.4" text-anchor="middle" class="tl">1.8e-2</text>
<text x="455.3" y="856.4" text-anchor="middle" class="tl">2.0e-2</text>
<text x="564.9" y="856.4" text-anchor="middle" class="tl">2.2e-2</text>
<text x="319.1" y="878.4" textLength="69" lengthAdjust="spacingAndGlyphs" class="at">Z' (Ohm)</text>
<text transform="translate(14.3,684) rotate(-90)" textLength="78" lengthAdjust="spacingAndGlyphs" class="at" style="font-size:15px">-Z'' (Ohm)</text>
<text x="267.0" y="527.9" textLength="171.6" lengthAdjust="spacingAndGlyphs" class="tt">100 Cycles</text>
<clipPath id="clipBR"><rect x="710.2" y="457.6" width="565.5" height="374.79999999999995"/></clipPath>
<line x1="710.2" y1="757.4" x2="1275.7" y2="757.4" stroke="#4e4e4e" stroke-width="2.0"/>
<path d="M746.5 832.4v-10M746.5 457.6v10M746.5 753.4v8M853.8 832.4v-10M853.8 457.6v10M853.8 753.4v8M961.1 832.4v-10M961.1 457.6v10M961.1 753.4v8M1068.3 832.4v-10M1068.3 457.6v10M1068.3 753.4v8M1175.6 832.4v-10M1175.6 457.6v10M1175.6 753.4v8M800.1 832.4v-4M800.1 457.6v4M800.1 755.4v4M907.4 832.4v-4M907.4 457.6v4M907.4 755.4v4M1014.7 832.4v-4M1014.7 457.6v4M1014.7 755.4v4M1122 832.4v-4M1122 457.6v4M1122 755.4v4M1229.3 832.4v-4M1229.3 457.6v4M1229.3 755.4v4M710.2 757.4h10M1275.7 757.4h-10M710.2 682.5h10M1275.7 682.5h-10M710.2 607.5h10M1275.7 607.5h-10M710.2 532.6h10M1275.7 532.6h-10M710.2 457.6h10M1275.7 457.6h-10M710.2 794.9h4M1275.7 794.9h-4M710.2 720h4M1275.7 720h-4M710.2 645h4M1275.7 645h-4M710.2 570h4M1275.7 570h-4M710.2 495.1h4M1275.7 495.1h-4" stroke="#3a3a3a" stroke-width="2" fill="none"/>
<g clip-path="url(#clipBR)" fill="none" stroke-width="2.4" stroke-linejoin="round" stroke-linecap="round">
<path d="M749.4,834C749.5,833.5 749.6,832 749.8,831C749.9,830 750,829 750.2,828C750.3,827 750.4,826 750.6,825C750.7,824 750.8,823 751,822.1C751.1,821.1 751.2,820.1 751.4,819.1C751.5,818.1 751.7,817.1 751.8,816.1C752,815.1 752.1,814.1 752.3,813.1C752.4,812.1 752.6,811.1 752.7,810.1C752.9,809.1 753.1,808.1 753.2,807.2C753.4,806.2 753.5,805.2 753.7,804.2C753.9,803.2 754,802.2 754.2,801.2C754.4,800.2 754.6,799.2 754.7,798.2C754.9,797.2 755.1,796.2 755.3,795.3C755.5,794.3 755.7,793.3 755.9,792.3C756,791.3 756.2,790.3 756.4,789.3C756.6,788.3 756.8,787.3 757,786.4C757.2,785.4 757.5,784.4 757.7,783.4C757.9,782.4 758.1,781.4 758.3,780.5C758.5,779.5 758.7,778.5 759,777.5C759.2,776.5 759.4,775.5 759.7,774.6C759.9,773.6 760.1,772.6 760.4,771.6C760.6,770.7 760.9,769.7 761.1,768.7C761.4,767.7 761.6,766.8 761.9,765.8C762.1,764.8 762.4,763.9 762.6,762.9C762.9,761.9 763.2,760.9 763.5,760C763.7,759 764,758.1 764.3,757.1C764.6,756.1 764.9,755.2 765.2,754.2C765.4,753.2 765.7,752.3 766,751.3C766.3,750.4 766.7,749.4 767,748.5C767.3,747.5 767.6,746.6 767.9,745.6C768.2,744.7 768.6,743.7 768.9,742.8C769.2,741.8 769.6,740.9 769.9,739.9C770.2,739 770.6,738.1 770.9,737.1C771.3,736.2 771.6,735.3 772,734.3C772.4,733.4 772.7,732.5 773.1,731.5C773.5,730.6 773.9,729.7 774.2,728.8C774.6,727.8 775,726.9 775.4,726C775.8,725.1 776.2,724.2 776.6,723.3C777,722.3 777.4,721.4 777.8,720.5C778.3,719.6 778.7,718.7 779.1,717.8C779.5,716.9 780,716 780.4,715.1C780.9,714.2 781.3,713.3 781.8,712.4C782.2,711.5 782.7,710.6 783.1,709.8C783.6,708.9 784.1,708 784.6,707.1C785,706.2 785.5,705.3 786,704.5C786.5,703.6 787,702.7 787.5,701.9C788,701 788.5,700.1 789.1,699.3C789.6,698.4 790.1,697.6 790.6,696.7C791.2,695.8 791.7,695 792.3,694.1C792.8,693.3 793.4,692.5 793.9,691.6C794.5,690.8 795,689.9 795.6,689.1C796.2,688.3 796.8,687.4 797.4,686.6C797.9,685.8 798.5,685 799.1,684.2C799.7,683.4 800.3,682.5 801,681.7C801.6,680.9 802.2,680.1 802.8,679.3C803.4,678.5 804.1,677.7 804.7,677C805.3,676.2 806,675.4 806.6,674.6C807.3,673.8 807.9,673.1 808.6,672.3C809.3,671.5 809.9,670.8 810.6,670C811.3,669.3 812,668.5 812.6,667.8C813.3,667.1 814,666.3 814.7,665.6C815.4,664.9 816.1,664.1 816.8,663.4C817.5,662.7 818.3,662 819,661.3C819.7,660.6 820.4,659.9 821.2,659.2C821.9,658.5 822.6,657.8 823.4,657.1C824.1,656.5 824.9,655.8 825.6,655.1C826.4,654.5 827.2,653.8 827.9,653.2C828.7,652.5 829.5,651.9 830.2,651.2C831,650.6 831.8,650 832.6,649.4C833.4,648.8 834.2,648.1 835,647.5C835.8,646.9 836.6,646.3 837.4,645.8C838.2,645.2 839,644.6 839.9,644C840.7,643.5 841.5,642.9 842.3,642.4C843.2,641.8 844,641.3 844.9,640.7C845.7,640.2 846.5,639.7 847.4,639.2C848.3,638.6 849.1,638.1 850,637.6C850.8,637.1 851.7,636.6 852.6,636.2C853.5,635.7 854.3,635.2 855.2,634.8C856.1,634.3 857,633.8 857.9,633.4C858.8,633 859.7,632.5 860.6,632.1C861.5,631.7 862.4,631.3 863.3,630.9C864.2,630.5 865.1,630.1 866.1,629.7C867,629.3 867.9,629 868.8,628.6C869.8,628.3 870.7,627.9 871.6,627.6C872.6,627.3 873.5,626.9 874.5,626.6C875.4,626.3 876.4,626 877.3,625.7C878.3,625.5 879.2,625.2 880.2,624.9C881.1,624.7 882.1,624.4 883.1,624.2C884,624 885,623.7 886,623.5C886.9,623.3 887.9,623.1 888.9,622.9C889.9,622.8 890.8,622.6 891.8,622.5C892.8,622.3 893.8,622.2 894.8,622C895.8,621.9 896.7,621.8 897.7,621.7C898.7,621.6 899.7,621.6 900.7,621.5C901.7,621.4 902.7,621.4 903.7,621.4C904.7,621.3 905.6,621.3 906.6,621.3C907.6,621.3 908.6,621.3 909.6,621.3C910.6,621.4 911.6,621.4 912.6,621.5C913.6,621.5 914.6,621.6 915.6,621.7C916.6,621.8 917.6,621.8 918.6,622C919.6,622.1 920.6,622.2 921.6,622.3C922.6,622.4 923.6,622.6 924.6,622.7C925.6,622.9 926.6,623 927.5,623.2C928.5,623.3 929.5,623.5 930.5,623.7C931.5,623.9 932.5,624.1 933.5,624.3C934.5,624.5 935.5,624.7 936.5,624.9C937.4,625.1 938.4,625.3 939.4,625.5C940.4,625.8 941.4,626 942.3,626.2C943.3,626.5 944.3,626.7 945.3,627C946.2,627.2 947.2,627.5 948.2,627.7C949.2,628 950.1,628.3 951.1,628.5C952.1,628.8 953,629.1 954,629.4C955,629.7 955.9,630 956.9,630.3C957.9,630.6 958.8,630.9 959.8,631.3C960.8,631.6 961.7,631.9 962.7,632.3C963.7,632.6 964.6,632.9 965.6,633.3C966.5,633.7 967.5,634 968.5,634.4C969.4,634.8 970.4,635.2 971.3,635.6C972.3,636 973.3,636.4 974.2,636.8C975.2,637.2 976.1,637.6 977.1,638C978.1,638.4 979,638.8 980,639.2C981,639.6 981.9,640 982.9,640.4C983.8,640.8 984.8,641.2 985.8,641.6C986.7,642 987.7,642.4 988.7,642.8C989.6,643.1 990.6,643.5 991.5,643.8C992.5,644.1 993.5,644.5 994.4,644.8C995.4,645.1 996.4,645.3 997.3,645.6C998.3,645.9 999.3,646.1 1000.3,646.3C1001.2,646.6 1002.2,646.8 1003.2,647C1004.1,647.2 1005.1,647.3 1006.1,647.5C1007.1,647.6 1008,647.8 1009,647.9C1010,648 1011,648.1 1011.9,648.2C1012.9,648.3 1013.9,648.4 1014.9,648.5C1015.8,648.5 1016.8,648.6 1017.8,648.6C1018.8,648.6 1019.7,648.7 1020.7,648.7C1021.7,648.7 1022.7,648.6 1023.6,648.6C1024.6,648.6 1025.6,648.6 1026.6,648.5C1027.5,648.4 1028.5,648.4 1029.5,648.3C1030.5,648.2 1031.4,648.1 1032.4,648C1033.4,647.9 1034.3,647.8 1035.3,647.7C1036.3,647.5 1037.3,647.4 1038.2,647.2C1039.2,647.1 1040.2,646.9 1041.1,646.7C1042.1,646.5 1043.1,646.3 1044,646.1C1045,645.9 1046,645.7 1046.9,645.5C1047.9,645.3 1048.9,645 1049.8,644.8C1050.8,644.5 1051.8,644.3 1052.7,644C1053.7,643.8 1054.6,643.5 1055.6,643.2C1056.5,642.9 1057.5,642.6 1058.5,642.3C1059.4,642 1060.4,641.7 1061.3,641.4C1062.3,641.1 1063.2,640.7 1064.2,640.4C1065.1,640 1066,639.7 1067,639.3C1067.9,639 1068.9,638.6 1069.8,638.2C1070.8,637.9 1071.7,637.5 1072.6,637.1C1073.6,636.7 1074.5,636.3 1075.4,635.9C1076.4,635.5 1077.3,635.1 1078.2,634.7C1079.1,634.3 1080.1,633.8 1081,633.4C1081.9,633 1082.8,632.5 1083.7,632.1C1084.6,631.6 1085.6,631.2 1086.5,630.7C1087.4,630.3 1088.3,629.8 1089.2,629.3C1090.1,628.9 1091,628.4 1091.9,627.9C1092.8,627.4 1093.7,626.9 1094.6,626.5C1095.5,626 1096.4,625.5 1097.3,625C1098.1,624.5 1099,624 1099.9,623.5C1100.8,622.9 1101.7,622.4 1102.5,621.9C1103.4,621.4 1104.3,620.9 1105.1,620.3C1106,619.8 1106.9,619.3 1107.7,618.7C1108.6,618.2 1109.4,617.7 1110.3,617.1C1111.2,616.6 1112,616.1 1112.8,615.5C1113.7,615 1114.5,614.4 1115.4,613.8C1116.2,613.3 1117,612.7 1117.9,612.2C1118.7,611.6 1119.5,611 1120.3,610.5C1121.2,609.9 1122,609.3 1122.8,608.8C1123.6,608.2 1124.4,607.6 1125.3,607C1126.1,606.4 1126.9,605.9 1127.7,605.3C1128.5,604.7 1129.3,604.1 1130.1,603.5C1130.9,602.9 1131.7,602.3 1132.5,601.7C1133.3,601.1 1134,600.5 1134.8,599.9C1135.6,599.3 1136.4,598.7 1137.2,598C1138,597.4 1138.7,596.8 1139.5,596.2C1140.3,595.6 1141.1,594.9 1141.8,594.3C1142.6,593.7 1143.4,593 1144.1,592.4C1144.9,591.8 1145.7,591.1 1146.4,590.5C1147.2,589.8 1147.9,589.2 1148.7,588.5C1149.4,587.9 1150.2,587.2 1150.9,586.6C1151.7,585.9 1152.4,585.3 1153.2,584.6C1153.9,583.9 1154.7,583.3 1155.4,582.6C1156.1,581.9 1156.9,581.3 1157.6,580.6C1158.3,579.9 1159.1,579.2 1159.8,578.5C1160.5,577.9 1161.3,577.2 1162,576.5C1162.7,575.8 1163.4,575.1 1164.2,574.4C1164.9,573.7 1165.6,573 1166.3,572.3C1167,571.6 1167.8,570.9 1168.5,570.2C1169.2,569.5 1169.9,568.8 1170.6,568.1C1171.3,567.3 1172,566.6 1172.7,565.9C1173.4,565.2 1174.1,564.5 1174.8,563.7C1175.6,563 1176.3,562.3 1177,561.5C1177.7,560.8 1178.4,560.1 1179,559.3C1179.7,558.6 1180.4,557.9 1181.1,557.1C1181.8,556.4 1182.5,555.6 1183.2,554.9C1183.9,554.2 1184.6,553.4 1185.3,552.7C1186,551.9 1186.7,551.2 1187.3,550.4C1188,549.7 1188.7,548.9 1189.4,548.2C1190.1,547.4 1190.8,546.7 1191.4,545.9C1192.1,545.2 1192.8,544.4 1193.5,543.6C1194.2,542.9 1194.8,542.1 1195.5,541.4C1196.2,540.6 1196.9,539.9 1197.5,539.1C1198.2,538.4 1198.9,537.6 1199.5,536.9C1200.2,536.1 1200.9,535.4 1201.6,534.6C1202.2,533.9 1202.9,533.1 1203.6,532.4C1204.2,531.6 1204.9,530.9 1205.6,530.1C1206.2,529.4 1206.9,528.6 1207.6,527.9C1208.2,527.1 1208.9,526.4 1209.6,525.6C1210.2,524.9 1210.9,524.1 1211.6,523.4C1212.2,522.6 1212.9,521.9 1213.5,521.1C1214.2,520.4 1214.9,519.6 1215.5,518.9C1216.2,518.1 1216.8,517.4 1217.5,516.6C1218.1,515.9 1218.8,515.1 1219.4,514.3C1220.1,513.6 1220.7,512.8 1221.4,512.1C1222.1,511.3 1222.7,510.6 1223.3,509.8C1224,509.1 1224.6,508.3 1225.3,507.6C1225.9,506.8 1226.6,506 1227.2,505.3C1227.9,504.5 1228.5,503.8 1229.2,503C1229.8,502.3 1230.4,501.5 1231.1,500.7C1231.7,500 1232.4,499.2 1233,498.4C1233.6,497.7 1234.3,496.9 1234.9,496.1C1235.5,495.4 1236.2,494.6 1236.8,493.8C1237.4,493.1 1238.1,492.3 1238.7,491.5C1239.3,490.8 1240,490 1240.6,489.2C1241.2,488.4 1241.9,487.7 1242.5,486.9C1243.1,486.1 1243.7,485.3 1244.4,484.5C1245,483.7 1245.6,483 1246.2,482.2C1246.8,481.4 1247.5,480.6 1248.1,479.8C1248.7,479 1249.3,478.2 1249.9,477.4C1250.5,476.6 1251.2,475.8 1251.8,475C1252.4,474.2 1253,473.4 1253.6,472.6C1254.2,471.8 1254.8,471 1255.4,470.2C1256,469.4 1256.6,468.6 1257.3,467.8C1257.9,467 1258.5,466.1 1259.1,465.3C1259.7,464.5 1260.3,463.7 1260.9,462.9C1261.5,462 1262.1,461.2 1262.7,460.4C1263.3,459.5 1263.9,458.7 1264.4,457.9C1265,457 1265.6,456.2 1266.2,455.4C1266.8,454.5 1267.7,453.2 1268,452.8" stroke="#6f6ff2" style="mix-blend-mode:multiply"/>
<path d="M734.8,834.1C734.9,833.6 735.1,832.1 735.3,831.1C735.4,830 735.5,829 735.7,828C735.8,827 735.9,826 736.1,825C736.2,823.9 736.4,822.9 736.5,821.9C736.6,820.9 736.7,819.9 736.9,818.9C737,817.9 737.1,816.9 737.3,815.9C737.4,814.9 737.5,813.9 737.7,812.8C737.8,811.8 737.9,810.8 738,809.8C738.2,808.8 738.3,807.8 738.4,806.8C738.6,805.8 738.7,804.8 738.8,803.8C739,802.8 739.1,801.8 739.3,800.9C739.4,799.9 739.5,798.9 739.7,797.9C739.8,796.9 740,795.9 740.1,794.9C740.3,793.9 740.4,792.9 740.6,791.9C740.7,791 740.9,790 741.1,789C741.2,788 741.4,787 741.6,786C741.8,785.1 741.9,784.1 742.1,783.1C742.3,782.1 742.5,781.2 742.7,780.2C742.9,779.2 743.1,778.2 743.3,777.3C743.5,776.3 743.7,775.3 743.9,774.4C744.1,773.4 744.4,772.4 744.6,771.4C744.8,770.5 745,769.5 745.3,768.6C745.5,767.6 745.8,766.6 746.1,765.7C746.3,764.7 746.6,763.8 746.9,762.8C747.1,761.8 747.4,760.9 747.7,759.9C748,759 748.3,758 748.6,757.1C748.9,756.1 749.2,755.2 749.6,754.2C749.9,753.3 750.2,752.3 750.6,751.4C750.9,750.4 751.3,749.5 751.6,748.6C752,747.6 752.3,746.7 752.7,745.7C753.1,744.8 753.5,743.9 753.9,742.9C754.2,742 754.6,741.1 755,740.1C755.4,739.2 755.8,738.3 756.2,737.3C756.6,736.4 757.1,735.5 757.5,734.6C757.9,733.6 758.3,732.7 758.7,731.8C759.2,730.9 759.6,730 760,729C760.5,728.1 760.9,727.2 761.4,726.3C761.8,725.4 762.2,724.5 762.7,723.5C763.1,722.6 763.6,721.7 764,720.8C764.5,719.9 764.9,719 765.4,718.1C765.9,717.2 766.3,716.3 766.8,715.4C767.2,714.5 767.7,713.6 768.2,712.7C768.6,711.8 769.1,710.9 769.6,710C770.1,709.1 770.5,708.2 771,707.4C771.5,706.5 772,705.6 772.5,704.7C773,703.8 773.5,703 774,702.1C774.5,701.2 775,700.3 775.5,699.5C776,698.6 776.5,697.8 777,696.9C777.5,696 778.1,695.2 778.6,694.3C779.1,693.5 779.6,692.6 780.2,691.8C780.7,690.9 781.3,690.1 781.8,689.3C782.3,688.4 782.9,687.6 783.5,686.8C784,685.9 784.6,685.1 785.1,684.3C785.7,683.5 786.3,682.6 786.9,681.8C787.4,681 788,680.2 788.6,679.4C789.2,678.6 789.8,677.8 790.4,677C791,676.2 791.6,675.4 792.2,674.7C792.9,673.9 793.5,673.1 794.1,672.3C794.8,671.6 795.4,670.8 796,670C796.7,669.3 797.3,668.5 798,667.8C798.6,667 799.3,666.3 800,665.5C800.7,664.8 801.3,664.1 802,663.3C802.7,662.6 803.4,661.9 804.1,661.2C804.8,660.5 805.5,659.8 806.3,659C807,658.3 807.7,657.7 808.4,657C809.2,656.3 809.9,655.6 810.7,654.9C811.4,654.2 812.2,653.6 813,652.9C813.7,652.3 814.5,651.6 815.3,651C816.1,650.3 816.8,649.7 817.6,649C818.4,648.4 819.2,647.8 820.1,647.2C820.9,646.6 821.7,646 822.5,645.4C823.3,644.8 824.2,644.2 825,643.6C825.8,643 826.7,642.5 827.5,641.9C828.4,641.3 829.2,640.8 830.1,640.2C830.9,639.7 831.8,639.2 832.7,638.6C833.6,638.1 834.4,637.6 835.3,637.1C836.2,636.6 837.1,636.1 838,635.6C838.9,635.2 839.8,634.7 840.7,634.2C841.6,633.8 842.5,633.3 843.4,632.9C844.3,632.5 845.2,632 846.2,631.6C847.1,631.2 848,630.8 848.9,630.4C849.9,630.1 850.8,629.7 851.7,629.3C852.7,629 853.6,628.6 854.6,628.3C855.5,627.9 856.5,627.6 857.4,627.3C858.4,627 859.3,626.7 860.3,626.4C861.2,626.1 862.2,625.8 863.2,625.6C864.1,625.3 865.1,625.1 866.1,624.8C867.1,624.6 868,624.4 869,624.2C870,624 871,623.8 871.9,623.6C872.9,623.4 873.9,623.3 874.9,623.1C875.9,623 876.9,622.8 877.9,622.7C878.8,622.5 879.8,622.4 880.8,622.3C881.8,622.2 882.8,622.1 883.8,622C884.8,622 885.8,621.9 886.8,621.8C887.8,621.8 888.8,621.7 889.8,621.7C890.8,621.6 891.8,621.6 892.8,621.6C893.8,621.6 894.8,621.6 895.8,621.6C896.8,621.6 897.8,621.6 898.8,621.7C899.8,621.7 900.8,621.7 901.8,621.8C902.8,621.8 903.8,621.9 904.8,622C905.8,622 906.8,622.1 907.8,622.2C908.8,622.3 909.8,622.4 910.8,622.5C911.8,622.6 912.8,622.7 913.8,622.9C914.8,623 915.8,623.1 916.8,623.3C917.8,623.4 918.8,623.6 919.8,623.8C920.8,623.9 921.8,624.1 922.8,624.3C923.8,624.5 924.8,624.7 925.7,624.9C926.7,625.1 927.7,625.3 928.7,625.5C929.7,625.8 930.6,626 931.6,626.2C932.6,626.5 933.6,626.7 934.5,627C935.5,627.2 936.5,627.5 937.5,627.8C938.4,628 939.4,628.3 940.4,628.6C941.3,628.9 942.3,629.2 943.3,629.5C944.2,629.8 945.2,630.1 946.2,630.4C947.1,630.7 948.1,631 949,631.3C950,631.6 951,632 951.9,632.3C952.9,632.6 953.8,633 954.8,633.3C955.8,633.6 956.7,634 957.7,634.3C958.6,634.7 959.6,635 960.5,635.4C961.5,635.7 962.5,636.1 963.4,636.5C964.4,636.8 965.3,637.2 966.3,637.6C967.2,637.9 968.2,638.3 969.2,638.7C970.1,639 971.1,639.4 972,639.7C973,640.1 974,640.5 974.9,640.8C975.9,641.2 976.8,641.5 977.8,641.8C978.8,642.2 979.7,642.5 980.7,642.8C981.7,643.2 982.6,643.5 983.6,643.8C984.6,644.1 985.5,644.4 986.5,644.7C987.5,644.9 988.4,645.2 989.4,645.5C990.4,645.7 991.4,646 992.3,646.2C993.3,646.4 994.3,646.7 995.3,646.9C996.2,647.1 997.2,647.3 998.2,647.5C999.2,647.6 1000.2,647.8 1001.1,648C1002.1,648.1 1003.1,648.3 1004.1,648.4C1005.1,648.6 1006,648.7 1007,648.8C1008,648.9 1009,649 1010,649.1C1011,649.2 1011.9,649.3 1012.9,649.3C1013.9,649.4 1014.9,649.4 1015.9,649.5C1016.9,649.5 1017.8,649.5 1018.8,649.6C1019.8,649.6 1020.8,649.6 1021.8,649.6C1022.8,649.6 1023.7,649.5 1024.7,649.5C1025.7,649.5 1026.7,649.4 1027.7,649.4C1028.6,649.3 1029.6,649.3 1030.6,649.2C1031.6,649.1 1032.5,649 1033.5,648.9C1034.5,648.8 1035.5,648.7 1036.4,648.5C1037.4,648.4 1038.4,648.3 1039.3,648.1C1040.3,648 1041.3,647.8 1042.3,647.6C1043.2,647.4 1044.2,647.2 1045.1,647C1046.1,646.8 1047.1,646.6 1048,646.4C1049,646.2 1049.9,645.9 1050.9,645.7C1051.9,645.4 1052.8,645.1 1053.8,644.9C1054.7,644.6 1055.7,644.3 1056.6,644C1057.6,643.7 1058.5,643.4 1059.4,643.1C1060.4,642.7 1061.3,642.4 1062.3,642.1C1063.2,641.7 1064.1,641.3 1065.1,641C1066,640.6 1066.9,640.2 1067.8,639.8C1068.8,639.4 1069.7,639 1070.6,638.6C1071.5,638.2 1072.4,637.7 1073.3,637.3C1074.3,636.8 1075.2,636.4 1076.1,635.9C1077,635.5 1077.9,635 1078.8,634.5C1079.7,634 1080.6,633.5 1081.5,633C1082.4,632.6 1083.3,632 1084.2,631.5C1085.1,631 1085.9,630.5 1086.8,630C1087.7,629.4 1088.6,628.9 1089.5,628.4C1090.4,627.8 1091.2,627.3 1092.1,626.7C1093,626.1 1093.9,625.6 1094.7,625C1095.6,624.4 1096.5,623.9 1097.3,623.3C1098.2,622.7 1099,622.1 1099.9,621.5C1100.8,620.9 1101.6,620.3 1102.5,619.7C1103.3,619.1 1104.2,618.5 1105,617.9C1105.9,617.3 1106.7,616.7 1107.5,616.1C1108.4,615.5 1109.2,614.9 1110.1,614.3C1110.9,613.6 1111.7,613 1112.6,612.4C1113.4,611.8 1114.2,611.1 1115,610.5C1115.9,609.9 1116.7,609.3 1117.5,608.6C1118.3,608 1119.1,607.4 1120,606.8C1120.8,606.1 1121.6,605.5 1122.4,604.9C1123.2,604.2 1124,603.6 1124.8,603C1125.6,602.4 1126.4,601.7 1127.2,601.1C1128,600.5 1128.8,599.9 1129.6,599.2C1130.4,598.6 1131.2,598 1132,597.4C1132.8,596.7 1133.5,596.1 1134.3,595.5C1135.1,594.9 1135.9,594.3 1136.7,593.6C1137.4,593 1138.2,592.4 1139,591.8C1139.8,591.1 1140.5,590.5 1141.3,589.9C1142.1,589.3 1142.8,588.6 1143.6,588C1144.4,587.4 1145.1,586.8 1145.9,586.1C1146.6,585.5 1147.4,584.9 1148.1,584.3C1148.9,583.6 1149.6,583 1150.4,582.4C1151.1,581.7 1151.9,581.1 1152.6,580.5C1153.3,579.8 1154.1,579.2 1154.8,578.5C1155.6,577.9 1156.3,577.3 1157,576.6C1157.8,576 1158.5,575.3 1159.2,574.7C1159.9,574 1160.7,573.4 1161.4,572.7C1162.1,572 1162.8,571.4 1163.5,570.7C1164.2,570.1 1165,569.4 1165.7,568.7C1166.4,568 1167.1,567.4 1167.8,566.7C1168.5,566 1169.2,565.3 1169.9,564.6C1170.6,563.9 1171.3,563.3 1172,562.6C1172.7,561.9 1173.4,561.2 1174.1,560.5C1174.8,559.7 1175.4,559 1176.1,558.3C1176.8,557.6 1177.5,556.9 1178.2,556.2C1178.9,555.4 1179.5,554.7 1180.2,554C1180.9,553.2 1181.6,552.5 1182.2,551.8C1182.9,551 1183.6,550.3 1184.2,549.5C1184.9,548.8 1185.6,548 1186.2,547.3C1186.9,546.5 1187.6,545.7 1188.2,545C1188.9,544.2 1189.5,543.4 1190.2,542.7C1190.8,541.9 1191.5,541.1 1192.1,540.3C1192.8,539.6 1193.4,538.8 1194.1,538C1194.7,537.2 1195.4,536.4 1196,535.6C1196.7,534.9 1197.3,534.1 1197.9,533.3C1198.6,532.5 1199.2,531.7 1199.9,530.9C1200.5,530.1 1201.1,529.3 1201.8,528.5C1202.4,527.7 1203,526.9 1203.7,526.1C1204.3,525.3 1204.9,524.5 1205.6,523.7C1206.2,522.8 1206.8,522 1207.4,521.2C1208.1,520.4 1208.7,519.6 1209.3,518.8C1209.9,518 1210.6,517.2 1211.2,516.3C1211.8,515.5 1212.4,514.7 1213,513.9C1213.6,513.1 1214.3,512.3 1214.9,511.4C1215.5,510.6 1216.1,509.8 1216.7,509C1217.3,508.2 1218,507.4 1218.6,506.5C1219.2,505.7 1219.8,504.9 1220.4,504.1C1221,503.3 1221.6,502.5 1222.2,501.6C1222.8,500.8 1223.5,500 1224.1,499.2C1224.7,498.4 1225.3,497.6 1225.9,496.7C1226.5,495.9 1227.1,495.1 1227.7,494.3C1228.3,493.5 1228.9,492.7 1229.5,491.9C1230.1,491.1 1230.7,490.3 1231.3,489.5C1232,488.7 1232.6,487.9 1233.2,487.1C1233.8,486.2 1234.4,485.4 1235,484.7C1235.6,483.9 1236.2,483.1 1236.8,482.3C1237.4,481.5 1238,480.7 1238.6,479.9C1239.2,479.1 1239.8,478.3 1240.4,477.5C1241,476.7 1241.6,476 1242.2,475.2C1242.8,474.4 1243.4,473.6 1244.1,472.9C1244.7,472.1 1245.3,471.3 1245.9,470.6C1246.5,469.8 1247.1,469.1 1247.8,468.3C1248.4,467.5 1249,466.8 1249.7,466C1250.3,465.3 1251,464.6 1251.6,463.8C1252.3,463.1 1252.9,462.4 1253.6,461.6C1254.3,460.9 1255,460.2 1255.7,459.5C1256.3,458.8 1257,458.1 1257.7,457.4C1258.5,456.7 1259.2,456 1259.9,455.3C1260.6,454.6 1261.8,453.6 1262.1,453.3" stroke="#72ec72" style="mix-blend-mode:multiply"/>
<path d="M739.1,834.1C739.1,833.6 739.2,832.1 739.3,831.1C739.4,830 739.4,829 739.5,828C739.6,827 739.7,826 739.8,825C739.8,824 739.9,823 740,822C740.1,821 740.2,820 740.3,819C740.5,817.9 740.6,816.9 740.7,815.9C740.8,814.9 740.9,813.9 741.1,812.9C741.2,811.9 741.3,810.9 741.5,809.9C741.6,808.9 741.7,807.9 741.9,806.9C742,805.9 742.2,804.9 742.4,804C742.5,803 742.7,802 742.9,801C743,800 743.2,799 743.4,798C743.6,797 743.7,796 743.9,795C744.1,794 744.3,793.1 744.5,792.1C744.7,791.1 744.9,790.1 745.1,789.1C745.3,788.1 745.6,787.2 745.8,786.2C746,785.2 746.2,784.2 746.5,783.2C746.7,782.3 746.9,781.3 747.2,780.3C747.4,779.3 747.6,778.4 747.9,777.4C748.1,776.4 748.4,775.5 748.6,774.5C748.9,773.5 749.2,772.5 749.4,771.6C749.7,770.6 750,769.6 750.3,768.7C750.5,767.7 750.8,766.8 751.1,765.8C751.4,764.8 751.7,763.9 752,762.9C752.3,762 752.6,761 752.9,760.1C753.2,759.1 753.5,758.1 753.8,757.2C754.1,756.2 754.5,755.3 754.8,754.3C755.1,753.4 755.4,752.5 755.8,751.5C756.1,750.6 756.4,749.6 756.8,748.7C757.1,747.7 757.5,746.8 757.8,745.9C758.2,744.9 758.5,744 758.9,743.1C759.3,742.1 759.6,741.2 760,740.3C760.4,739.3 760.7,738.4 761.1,737.5C761.5,736.5 761.9,735.6 762.3,734.7C762.7,733.8 763.1,732.9 763.5,731.9C763.9,731 764.3,730.1 764.7,729.2C765.1,728.3 765.5,727.4 765.9,726.4C766.3,725.5 766.7,724.6 767.2,723.7C767.6,722.8 768,721.9 768.5,721C768.9,720.1 769.3,719.2 769.8,718.3C770.2,717.4 770.7,716.5 771.1,715.6C771.6,714.7 772,713.8 772.5,712.9C772.9,712 773.4,711.1 773.9,710.2C774.3,709.4 774.8,708.5 775.3,707.6C775.8,706.7 776.3,705.8 776.7,704.9C777.2,704.1 777.7,703.2 778.2,702.3C778.7,701.4 779.2,700.6 779.7,699.7C780.2,698.8 780.8,698 781.3,697.1C781.8,696.3 782.3,695.4 782.8,694.6C783.4,693.7 783.9,692.9 784.5,692C785,691.2 785.5,690.3 786.1,689.5C786.7,688.6 787.2,687.8 787.8,687C788.3,686.2 788.9,685.3 789.5,684.5C790.1,683.7 790.7,682.9 791.3,682.1C791.9,681.3 792.5,680.5 793.1,679.7C793.7,678.9 794.3,678.1 794.9,677.3C795.5,676.5 796.2,675.7 796.8,674.9C797.4,674.1 798.1,673.4 798.7,672.6C799.4,671.8 800,671.1 800.7,670.3C801.4,669.5 802,668.8 802.7,668.1C803.4,667.3 804.1,666.6 804.8,665.8C805.5,665.1 806.2,664.4 806.9,663.7C807.6,662.9 808.3,662.2 809.1,661.5C809.8,660.8 810.5,660.1 811.3,659.4C812,658.7 812.7,658.1 813.5,657.4C814.2,656.7 815,656 815.8,655.4C816.5,654.7 817.3,654.1 818.1,653.4C818.9,652.8 819.7,652.1 820.4,651.5C821.2,650.9 822,650.2 822.8,649.6C823.6,649 824.5,648.4 825.3,647.8C826.1,647.2 826.9,646.6 827.7,646.1C828.6,645.5 829.4,644.9 830.2,644.3C831.1,643.8 831.9,643.2 832.8,642.7C833.6,642.1 834.5,641.6 835.3,641.1C836.2,640.6 837.1,640 837.9,639.5C838.8,639 839.7,638.5 840.6,638C841.4,637.6 842.3,637.1 843.2,636.6C844.1,636.1 845,635.7 845.9,635.2C846.8,634.8 847.7,634.4 848.6,633.9C849.5,633.5 850.4,633.1 851.3,632.7C852.2,632.3 853.2,631.9 854.1,631.5C855,631.1 855.9,630.7 856.9,630.4C857.8,630 858.7,629.7 859.7,629.3C860.6,629 861.5,628.7 862.5,628.3C863.4,628 864.4,627.7 865.3,627.4C866.3,627.1 867.2,626.8 868.2,626.6C869.1,626.3 870.1,626 871.1,625.8C872,625.6 873,625.3 874,625.1C874.9,624.9 875.9,624.7 876.9,624.5C877.8,624.3 878.8,624.1 879.8,623.9C880.8,623.7 881.7,623.6 882.7,623.4C883.7,623.3 884.7,623.1 885.7,623C886.7,622.9 887.6,622.8 888.6,622.7C889.6,622.6 890.6,622.5 891.6,622.4C892.6,622.4 893.6,622.3 894.6,622.3C895.6,622.2 896.6,622.2 897.6,622.2C898.5,622.2 899.5,622.2 900.5,622.2C901.5,622.2 902.5,622.2 903.5,622.2C904.5,622.3 905.5,622.3 906.5,622.4C907.5,622.5 908.5,622.5 909.5,622.6C910.5,622.7 911.5,622.8 912.5,622.9C913.5,623 914.5,623.2 915.5,623.3C916.5,623.4 917.5,623.6 918.5,623.7C919.6,623.9 920.6,624.1 921.6,624.2C922.6,624.4 923.6,624.6 924.6,624.8C925.5,625 926.5,625.2 927.5,625.4C928.5,625.6 929.5,625.8 930.5,626.1C931.5,626.3 932.5,626.5 933.5,626.8C934.5,627 935.5,627.3 936.5,627.6C937.5,627.8 938.5,628.1 939.5,628.4C940.5,628.6 941.4,628.9 942.4,629.2C943.4,629.5 944.4,629.8 945.4,630.1C946.4,630.4 947.3,630.7 948.3,631C949.3,631.3 950.3,631.6 951.2,632C952.2,632.3 953.2,632.6 954.1,632.9C955.1,633.3 956.1,633.6 957,633.9C958,634.3 959,634.6 959.9,634.9C960.9,635.3 961.8,635.6 962.8,636C963.7,636.3 964.7,636.7 965.6,637C966.6,637.4 967.5,637.7 968.4,638.1C969.4,638.4 970.3,638.8 971.3,639.1C972.2,639.5 973.1,639.8 974.1,640.2C975,640.5 976,640.8 976.9,641.2C977.8,641.5 978.8,641.8 979.7,642.2C980.6,642.5 981.6,642.8 982.5,643.1C983.4,643.4 984.4,643.7 985.3,644C986.3,644.3 987.2,644.6 988.1,644.9C989.1,645.2 990,645.5 991,645.7C991.9,646 992.9,646.2 993.8,646.5C994.8,646.7 995.7,646.9 996.7,647.1C997.7,647.3 998.6,647.5 999.6,647.7C1000.6,647.9 1001.5,648.1 1002.5,648.2C1003.5,648.4 1004.5,648.5 1005.4,648.6C1006.4,648.7 1007.4,648.8 1008.4,648.9C1009.4,649 1010.4,649.1 1011.4,649.2C1012.4,649.2 1013.4,649.3 1014.4,649.3C1015.4,649.3 1016.4,649.3 1017.4,649.4C1018.4,649.4 1019.4,649.3 1020.4,649.3C1021.4,649.3 1022.5,649.3 1023.5,649.2C1024.5,649.2 1025.5,649.1 1026.5,649C1027.5,649 1028.5,648.9 1029.5,648.8C1030.5,648.7 1031.6,648.5 1032.6,648.4C1033.6,648.3 1034.6,648.2 1035.6,648C1036.6,647.9 1037.6,647.7 1038.6,647.5C1039.6,647.4 1040.6,647.2 1041.6,647C1042.6,646.8 1043.6,646.6 1044.6,646.4C1045.6,646.1 1046.6,645.9 1047.6,645.7C1048.5,645.4 1049.5,645.2 1050.5,644.9C1051.5,644.7 1052.5,644.4 1053.4,644.1C1054.4,643.8 1055.4,643.6 1056.3,643.3C1057.3,643 1058.3,642.7 1059.2,642.3C1060.2,642 1061.1,641.7 1062.1,641.4C1063,641 1063.9,640.7 1064.9,640.3C1065.8,640 1066.8,639.6 1067.7,639.2C1068.6,638.9 1069.6,638.5 1070.5,638.1C1071.4,637.7 1072.3,637.3 1073.2,636.9C1074.2,636.5 1075.1,636.1 1076,635.7C1076.9,635.3 1077.8,634.8 1078.7,634.4C1079.6,634 1080.5,633.5 1081.4,633.1C1082.3,632.6 1083.2,632.2 1084.1,631.7C1085,631.2 1085.9,630.8 1086.7,630.3C1087.6,629.8 1088.5,629.3 1089.4,628.8C1090.3,628.3 1091.1,627.8 1092,627.3C1092.9,626.8 1093.7,626.3 1094.6,625.8C1095.4,625.3 1096.3,624.8 1097.2,624.3C1098,623.7 1098.9,623.2 1099.7,622.7C1100.6,622.1 1101.4,621.6 1102.2,621C1103.1,620.5 1103.9,619.9 1104.8,619.4C1105.6,618.8 1106.4,618.3 1107.3,617.7C1108.1,617.1 1108.9,616.6 1109.7,616C1110.6,615.4 1111.4,614.8 1112.2,614.2C1113,613.7 1113.8,613.1 1114.7,612.5C1115.5,611.9 1116.3,611.3 1117.1,610.7C1117.9,610.1 1118.7,609.5 1119.5,608.9C1120.3,608.3 1121.1,607.7 1121.9,607.1C1122.7,606.5 1123.5,605.8 1124.3,605.2C1125.1,604.6 1125.9,604 1126.7,603.4C1127.5,602.7 1128.3,602.1 1129.1,601.5C1129.8,600.9 1130.6,600.2 1131.4,599.6C1132.2,599 1133,598.4 1133.8,597.7C1134.5,597.1 1135.3,596.5 1136.1,595.8C1136.9,595.2 1137.6,594.5 1138.4,593.9C1139.2,593.3 1140,592.6 1140.7,592C1141.5,591.3 1142.3,590.7 1143,590.1C1143.8,589.4 1144.6,588.8 1145.4,588.1C1146.1,587.5 1146.9,586.9 1147.7,586.2C1148.4,585.6 1149.2,584.9 1149.9,584.3C1150.7,583.6 1151.5,583 1152.2,582.4C1153,581.7 1153.7,581.1 1154.5,580.4C1155.3,579.8 1156,579.1 1156.8,578.5C1157.5,577.8 1158.3,577.2 1159,576.6C1159.8,575.9 1160.6,575.2 1161.3,574.6C1162.1,573.9 1162.8,573.3 1163.6,572.6C1164.3,572 1165,571.3 1165.8,570.6C1166.5,570 1167.3,569.3 1168,568.6C1168.8,568 1169.5,567.3 1170.3,566.6C1171,565.9 1171.7,565.3 1172.5,564.6C1173.2,563.9 1173.9,563.2 1174.7,562.5C1175.4,561.8 1176.1,561.1 1176.9,560.4C1177.6,559.7 1178.3,559 1179,558.3C1179.8,557.5 1180.5,556.8 1181.2,556.1C1181.9,555.4 1182.7,554.6 1183.4,553.9C1184.1,553.2 1184.8,552.4 1185.5,551.7C1186.2,550.9 1187,550.2 1187.7,549.4C1188.4,548.7 1189.1,548 1189.8,547.3C1190.5,546.6 1191.2,545.9 1191.9,545.2C1192.6,544.5 1193.3,543.9 1194,543.3C1194.7,542.7 1195.4,542.2 1196.1,541.6C1196.8,541 1197.4,540.4 1198.1,539.9C1198.8,539.3 1199.5,538.7 1200.1,538C1200.8,537.4 1201.4,536.7 1202,536.1C1202.7,535.4 1203.3,534.6 1203.9,533.9C1204.5,533.1 1205.1,532.3 1205.7,531.5C1206.2,530.7 1206.8,529.9 1207.3,529C1207.9,528.2 1208.4,527.3 1208.9,526.4C1209.4,525.5 1209.9,524.5 1210.3,523.6C1210.8,522.7 1211.2,521.7 1211.6,520.8C1212.1,519.8 1212.5,518.8 1212.9,517.9C1213.3,516.9 1213.8,516 1214.2,515C1214.7,514.1 1215.1,513.1 1215.6,512.2C1216.1,511.3 1216.6,510.4 1217.2,509.6C1217.7,508.7 1218.3,507.9 1218.9,507.1C1219.5,506.3 1220.2,505.5 1220.8,504.7C1221.5,504 1222.2,503.3 1222.9,502.6C1223.6,501.9 1224.3,501.2 1225.1,500.6C1225.8,500 1226.6,499.4 1227.4,498.8C1228.2,498.2 1229,497.7 1229.8,497.2C1230.5,496.7 1231.4,496.2 1232.2,495.7C1232.9,495.2 1233.7,494.7 1234.5,494.1C1235.2,493.6 1236,493 1236.7,492.4C1237.3,491.8 1238,491.1 1238.6,490.4C1239.2,489.7 1239.8,488.9 1240.3,488.1C1240.8,487.3 1241.3,486.5 1241.8,485.6C1242.3,484.8 1242.8,483.9 1243.2,482.9C1243.6,482 1244.1,481.1 1244.5,480.1C1244.9,479.2 1245.3,478.2 1245.7,477.3C1246,476.3 1246.4,475.4 1246.8,474.4C1247.2,473.5 1247.6,472.5 1248,471.6C1248.4,470.6 1248.8,469.7 1249.2,468.7C1249.6,467.8 1250,466.9 1250.4,465.9C1250.8,465 1251.2,464.1 1251.7,463.2C1252.1,462.3 1252.6,461.4 1253.1,460.5C1253.6,459.7 1254.1,458.8 1254.6,458C1255.2,457.1 1255.7,456.3 1256.3,455.5C1256.9,454.7 1257.8,453.5 1258.2,453.1" stroke="#ee78ee" style="mix-blend-mode:multiply"/>
<path d="M716,833.1L716.3,830.4L716.5,827.6L716.8,824.8L717.1,821.9L717.4,819.1L717.7,816.2L718.1,813.3L718.4,810.4L718.8,807.5L719.1,804.6L719.5,801.7L719.9,798.7L720.4,795.8L720.8,792.8L721.3,789.8L721.8,786.9L722.3,783.9L722.9,780.9L723.4,777.9L724,774.9L724.6,771.9L725.3,768.9L726,765.9L726.7,762.9L727.4,759.9L728.2,756.9L729,753.9L729.8,751L730.7,748L731.6,745L732.5,742.1L733.4,739.1L734.4,736.2L735.4,733.3L736.5,730.4L737.5,727.5L738.6,724.6L739.7,721.7L740.9,718.9L742.1,716.1L743.3,713.3L744.5,710.5L745.8,707.7L747.1,705L748.4,702.3L749.8,699.6L751.2,696.9L752.6,694.3L754.1,691.7L755.6,689.1L757.2,686.5L758.8,684L760.4,681.5L762.1,679.1L763.8,676.6L765.6,674.3L767.4,671.9L769.3,669.6L771.2,667.3L773.2,665.1L775.2,662.9L777.3,660.8L779.4,658.6L781.6,656.6L783.9,654.6L786.1,652.6L788.5,650.7L790.9,648.8L793.3,647L795.8,645.2L798.3,643.5L800.8,641.8L803.4,640.2L806,638.6L808.7,637.1L811.4,635.6L814.1,634.2L816.9,632.9L819.6,631.6L822.4,630.4L825.3,629.2L828.1,628.1L831,627.1L833.9,626.1L836.8,625.2L839.7,624.4L842.6,623.6L845.6,622.9L848.5,622.3L851.5,621.7L854.5,621.3L857.5,620.9L860.4,620.5L863.4,620.3L866.4,620.1L869.4,620L872.4,619.9L875.3,620L878.3,620.1L881.2,620.3L884.2,620.6L887.1,621L890,621.4L893,621.9L895.9,622.5L898.8,623.1L901.7,623.8L904.6,624.5L907.5,625.3L910.3,626.2L913.2,627.1L916.1,628L919,629L921.8,630.1L924.7,631.1L927.5,632.2L930.4,633.4L933.2,634.5L936,635.7L938.9,636.9L941.7,638.1L944.5,639.4L947.3,640.7L950.1,641.9L952.9,643.2L955.8,644.5L958.6,645.8L961.4,647.1L964.2,648.4L967,649.7L969.8,651L972.5,652.3L975.3,653.5L978.1,654.7L980.9,655.8L983.7,656.9L986.5,657.8L989.3,658.6L992.1,659.2L994.9,659.7L997.7,659.9L1000.5,659.9L1003.3,659.7L1006.1,659.2L1008.9,658.5L1011.7,657.4L1014.6,656.1L1017.4,654.7L1020.3,653.2L1023.1,651.7L1026,650.3L1028.8,649L1031.7,647.9L1034.6,647.1L1037.4,646.6L1040.3,647L1045,650.2L1048.1,647.8L1052,641.6L1054.4,635.3L1054.4,628.3L1055.9,625.2L1059.8,623.6L1063.8,621.3L1067.7,615.8L1072.5,609.1L1076.6,603L1080.7,603.7L1087.4,598.3L1091.5,591.5L1094.2,583.4L1101,581.3L1107.8,580L1113.8,579.3L1107.8,569.1L1113.2,567.1L1118.6,564.4L1121.2,559.3L1125,553.1L1129.3,546.3L1133.7,551.2L1137.4,532L1142.4,530.7L1146.1,528.9L1149.8,505.9L1153.5,503.4L1161,500.3L1166,493.5L1172.2,481.1L1178.4,468.6L1184.6,466.8L1198.3,464.9L1203.2,461.2L1207,457.5L1210,454" stroke="#ee6a6a" style="mix-blend-mode:normal"/>
</g>
<rect x="710.2" y="457.6" width="565.5" height="374.8" fill="none" stroke="#4e4e4e" stroke-width="2.0"/>
<text x="702.2" y="764" text-anchor="end" class="tl">0e0</text>
<text x="702.2" y="689.1" text-anchor="end" class="tl">1e-3</text>
<text x="702.2" y="614.1" text-anchor="end" class="tl">2e-3</text>
<text x="702.2" y="539.2" text-anchor="end" class="tl">3e-3</text>
<text x="702.2" y="464.2" text-anchor="end" class="tl">4e-3</text>
<text x="746.5" y="856.4" text-anchor="middle" class="tl">1.4e-2</text>
<text x="853.8" y="856.4" text-anchor="middle" class="tl">1.6e-2</text>
<text x="961.1" y="856.4" text-anchor="middle" class="tl">1.8e-2</text>
<text x="1068.3" y="856.4" text-anchor="middle" class="tl">2.0e-2</text>
<text x="1175.6" y="856.4" text-anchor="middle" class="tl">2.2e-2</text>
<text x="959.5" y="878.4" textLength="69" lengthAdjust="spacingAndGlyphs" class="at">Z' (Ohm)</text>
<text transform="translate(654.7,684) rotate(-90)" textLength="78" lengthAdjust="spacingAndGlyphs" class="at" style="font-size:15px">-Z'' (Ohm)</text>
<text x="907.0" y="527.9" textLength="171" lengthAdjust="spacingAndGlyphs" class="tt">150 Cycles</text>
<rect x="71" y="11.5" width="110" height="114" fill="#fff"/>
<path d="M70 126.5H182V10" fill="none" stroke="#6a6a6a" stroke-width="1.8"/>
<line x1="78.5" y1="33.6" x2="112.5" y2="33.6" stroke="#6f6ff2" stroke-width="3"/>
<text x="120.5" y="40.2" class="lg">Cell 1</text>
<line x1="78.5" y1="57.2" x2="112.5" y2="57.2" stroke="#ee6a6a" stroke-width="3"/>
<text x="120.5" y="63.8" class="lg">Cell 2</text>
<line x1="78.5" y1="80.7" x2="112.5" y2="80.7" stroke="#72ec72" stroke-width="3"/>
<text x="120.5" y="87.3" class="lg">Cell 3</text>
<line x1="78.5" y1="104.2" x2="112.5" y2="104.2" stroke="#ee78ee" stroke-width="3"/>
<text x="120.5" y="110.8" class="lg">Cell 4</text>
</g>
</svg>
</div>
</body></html>
